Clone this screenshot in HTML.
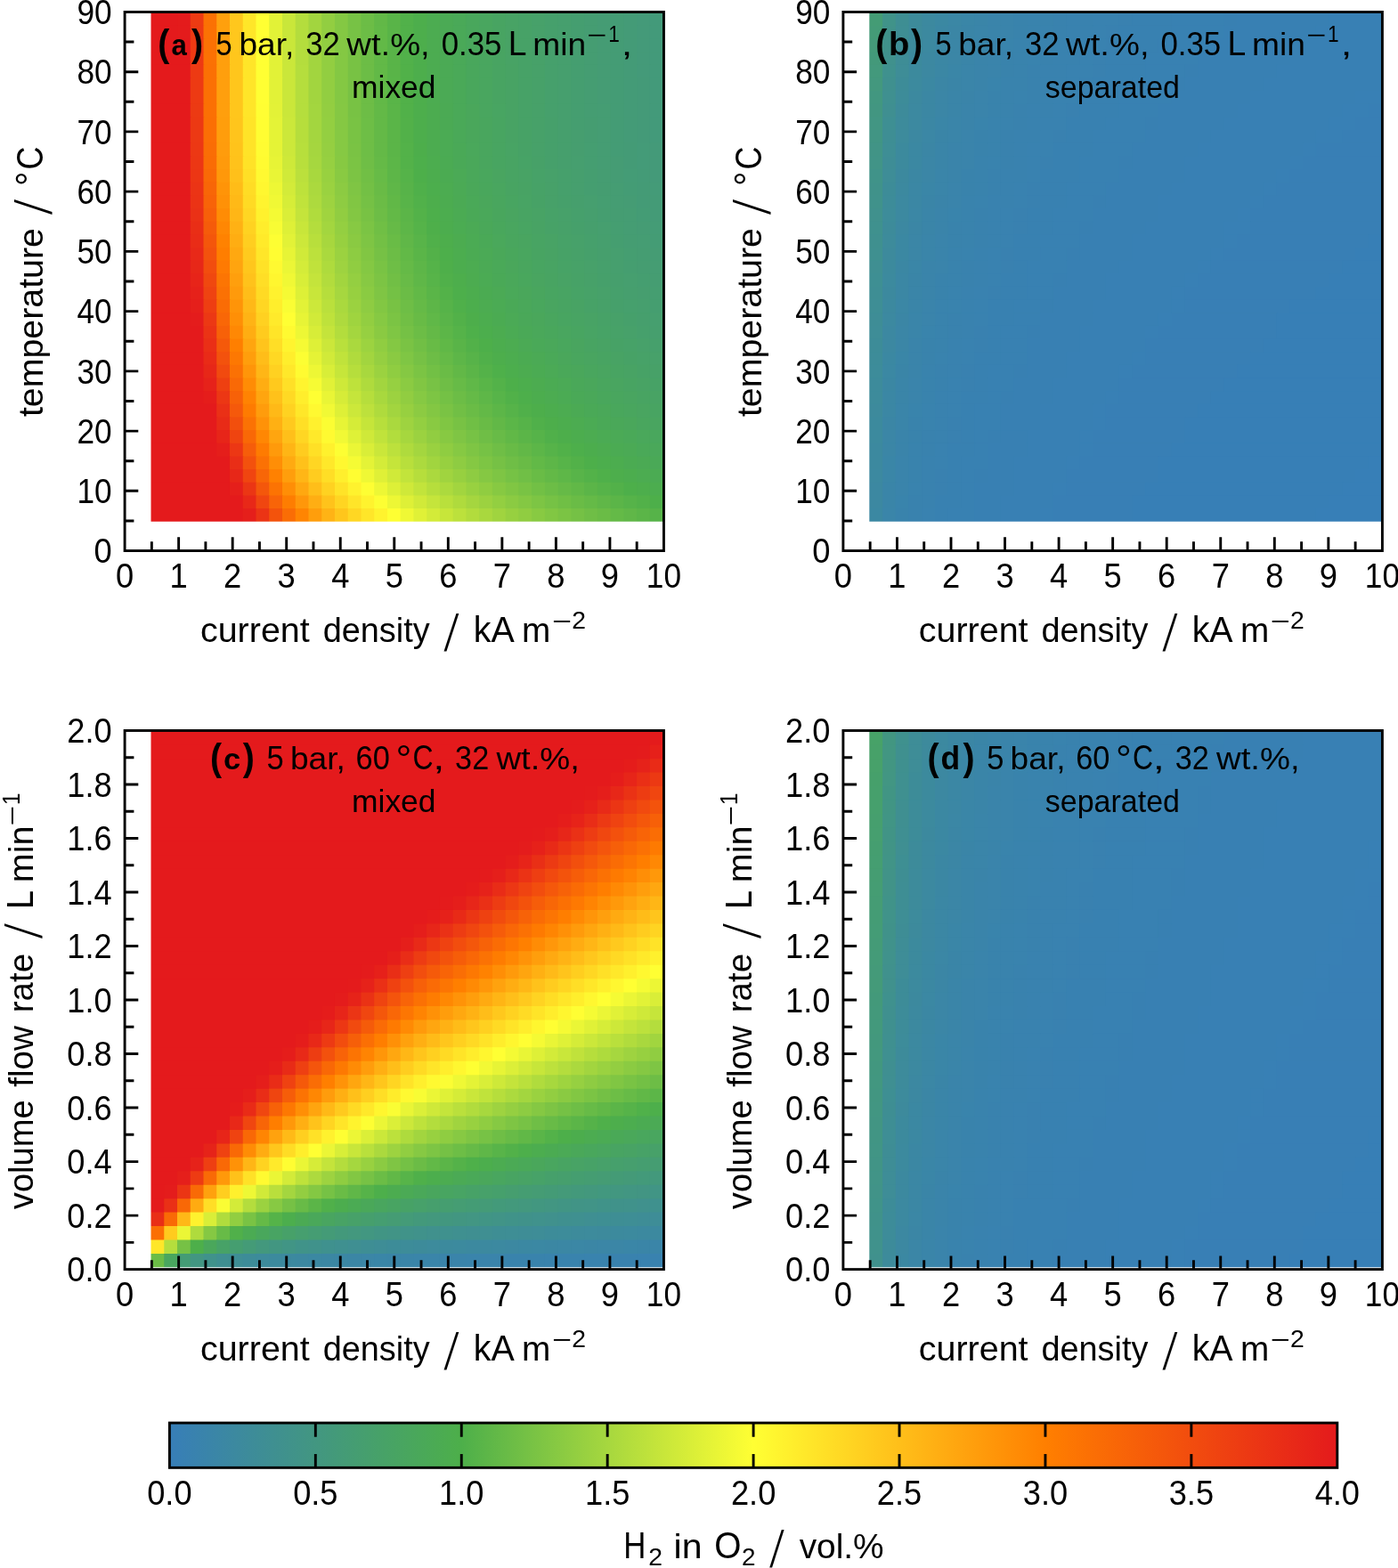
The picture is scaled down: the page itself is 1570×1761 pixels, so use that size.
<!DOCTYPE html>
<html lang="en">
<head>
<meta charset="utf-8">
<title>H2 in O2 heat maps</title>
<style>
html,body{margin:0;padding:0;background:#fff}
svg{display:block}
text{font-family:"Liberation Sans","DejaVu Sans",sans-serif;fill:#000}
.s{font-family:"Liberation Serif","DejaVu Serif",serif}
</style>
</head>
<body>
<svg width="1570" height="1761" viewBox="0 0 1570 1761" role="img" aria-label="Heat maps of H2 in O2 versus current density, temperature and volume flow rate">
<rect width="1570" height="1761" fill="#fff"/>
<defs><linearGradient id="cb" x1="0" x2="1" y1="0" y2="0"><stop offset="0" stop-color="#377eb8"/><stop offset=".25" stop-color="#4daf4a"/><stop offset=".5" stop-color="#ff3"/><stop offset=".75" stop-color="#ff7f00"/><stop offset="1" stop-color="#e41a1c"/></linearGradient></defs>
<g id="panel-a">
<clipPath id="cla"><rect x="165.52" y="13.45" width="579.93" height="576.23"/></clipPath>
<g clip-path="url(#cla)"><g transform="translate(169.52,14.2) scale(14.7457,14.6534)">
<path d="M-.3 -.3h2.36v1.36h-2.36z" fill="#e41a1c"/>
<path d="M2 -.3h1.06v1.36h-1.06z" fill="#e41b1c"/>
<path d="M3 -.3h1.06v1.36h-1.06z" fill="#ed3b13"/>
<path d="M4 -.3h1.06v1.36h-1.06z" fill="#fb7104"/>
<path d="M5 -.3h1.06v1.36h-1.06z" fill="#ffa00d"/>
<path d="M6 -.3h1.06v1.36h-1.06z" fill="#ffc71d"/>
<path d="M7 -.3h1.06v1.36h-1.06z" fill="#ffe629"/>
<path d="M8 -.3h1.06v1.36h-1.06z" fill="#ff3"/>
<path d="M9 -.3h1.06v1.36h-1.06z" fill="#e2f237"/>
<path d="M10 -.3h1.06v1.36h-1.06z" fill="#c9e73a"/>
<path d="M11 -.3h1.06v1.36h-1.06z" fill="#b4dd3d"/>
<path d="M12 -.3h1.06v1.36h-1.06z" fill="#a2d53f"/>
<path d="M13 -.3h1.06v1.36h-1.06z" fill="#92ce41"/>
<path d="M14 -.3h1.06v1.36h-1.06z" fill="#84c843"/>
<path d="M15 -.3h1.06v1.36h-1.06z" fill="#77c245"/>
<path d="M16 -.3h1.06v1.36h-1.06z" fill="#6cbd46"/>
<path d="M17 -.3h1.06v1.36h-1.06z" fill="#62b847"/>
<path d="M18 -.3h1.06v1.36h-1.06z" fill="#59b448"/>
<path d="M19 -.3h1.06v1.36h-1.06z" fill="#51b14a"/>
<path d="M20 -.3h1.06v1.36h-1.06z" fill="#4dae4c"/>
<path d="M21 -.3h1.06v1.36h-1.06z" fill="#4cac51"/>
<path d="M22 -.3h1.06v1.36h-1.06z" fill="#4baa55"/>
<path d="M23 -.3h1.06v1.36h-1.06z" fill="#4aa958"/>
<path d="M24 -.3h1.06v1.36h-1.06z" fill="#49a75c"/>
<path d="M25 -.3h1.06v1.36h-1.06z" fill="#49a65f"/>
<path d="M26 -.3h1.06v1.36h-1.06z" fill="#48a462"/>
<path d="M27 -.3h1.06v1.36h-1.06z" fill="#48a365"/>
<path d="M28 -.3h1.06v1.36h-1.06z" fill="#47a267"/>
<path d="M29 -.3h1.06v1.36h-1.06z" fill="#47a16a"/>
<path d="M30 -.3h1.06v1.36h-1.06z" fill="#46a06c"/>
<path d="M31 -.3h1.06v1.36h-1.06z" fill="#469f6e"/>
<path d="M32 -.3h1.06v1.36h-1.06z" fill="#459e70"/>
<path d="M33 -.3h1.06v1.36h-1.06z" fill="#459d72"/>
<path d="M34 -.3h1.06v1.36h-1.06z" fill="#459c74"/>
<path d="M35 -.3h1.06v1.36h-1.06z" fill="#449c75"/>
<path d="M36 -.3h1.06v1.36h-1.06z" fill="#449b77"/>
<path d="M37 -.3h1.06v1.36h-1.06z" fill="#449a79"/>
<path d="M38 -.3h1.3v1.36h-1.3z" fill="#439a7a"/>
<path d="M-.3 1h2.36v1.06h-2.36z" fill="#e41a1c"/>
<path d="M2 1h1.06v1.06h-1.06z" fill="#e41b1c"/>
<path d="M3 1h1.06v1.06h-1.06z" fill="#ed3a13"/>
<path d="M4 1h1.06v1.06h-1.06z" fill="#fb7104"/>
<path d="M5 1h1.06v1.06h-1.06z" fill="#ffa00d"/>
<path d="M6 1h1.06v1.06h-1.06z" fill="#ffc71d"/>
<path d="M7 1h1.06v1.06h-1.06z" fill="#ffe629"/>
<path d="M8 1h1.06v1.06h-1.06z" fill="#ff3"/>
<path d="M9 1h1.06v1.06h-1.06z" fill="#e2f237"/>
<path d="M10 1h1.06v1.06h-1.06z" fill="#c9e73a"/>
<path d="M11 1h1.06v1.06h-1.06z" fill="#b4dd3d"/>
<path d="M12 1h1.06v1.06h-1.06z" fill="#a2d53f"/>
<path d="M13 1h1.06v1.06h-1.06z" fill="#92ce41"/>
<path d="M14 1h1.06v1.06h-1.06z" fill="#84c843"/>
<path d="M15 1h1.06v1.06h-1.06z" fill="#77c245"/>
<path d="M16 1h1.06v1.06h-1.06z" fill="#6cbd46"/>
<path d="M17 1h1.06v1.06h-1.06z" fill="#62b947"/>
<path d="M18 1h1.06v1.06h-1.06z" fill="#59b448"/>
<path d="M19 1h1.06v1.06h-1.06z" fill="#51b14a"/>
<path d="M20 1h1.06v1.06h-1.06z" fill="#4dae4c"/>
<path d="M21 1h1.06v1.06h-1.06z" fill="#4cac51"/>
<path d="M22 1h1.06v1.06h-1.06z" fill="#4baa55"/>
<path d="M23 1h1.06v1.06h-1.06z" fill="#4aa958"/>
<path d="M24 1h1.06v1.06h-1.06z" fill="#49a75c"/>
<path d="M25 1h1.06v1.06h-1.06z" fill="#49a65f"/>
<path d="M26 1h1.06v1.06h-1.06z" fill="#48a462"/>
<path d="M27 1h1.06v1.06h-1.06z" fill="#48a365"/>
<path d="M28 1h1.06v1.06h-1.06z" fill="#47a267"/>
<path d="M29 1h1.06v1.06h-1.06z" fill="#47a16a"/>
<path d="M30 1h1.06v1.06h-1.06z" fill="#46a06c"/>
<path d="M31 1h1.06v1.06h-1.06z" fill="#469f6e"/>
<path d="M32 1h1.06v1.06h-1.06z" fill="#459e70"/>
<path d="M33 1h1.06v1.06h-1.06z" fill="#459d72"/>
<path d="M34 1h1.06v1.06h-1.06z" fill="#459c74"/>
<path d="M35 1h1.06v1.06h-1.06z" fill="#449c75"/>
<path d="M36 1h1.06v1.06h-1.06z" fill="#449b77"/>
<path d="M37 1h1.06v1.06h-1.06z" fill="#449a79"/>
<path d="M38 1h1.3v1.06h-1.3z" fill="#439a7a"/>
<path d="M-.3 2h3.36v1.06h-3.36z" fill="#e41a1c"/>
<path d="M3 2h1.06v1.06h-1.06z" fill="#ed3a13"/>
<path d="M4 2h1.06v1.06h-1.06z" fill="#fb7104"/>
<path d="M5 2h1.06v1.06h-1.06z" fill="#ff9f0d"/>
<path d="M6 2h1.06v1.06h-1.06z" fill="#ffc71d"/>
<path d="M7 2h1.06v1.06h-1.06z" fill="#ffe629"/>
<path d="M8 2h1.06v1.06h-1.06z" fill="#ff3"/>
<path d="M9 2h1.06v1.06h-1.06z" fill="#e2f237"/>
<path d="M10 2h1.06v1.06h-1.06z" fill="#c9e73a"/>
<path d="M11 2h1.06v1.06h-1.06z" fill="#b4dd3d"/>
<path d="M12 2h1.06v1.06h-1.06z" fill="#a2d53f"/>
<path d="M13 2h1.06v1.06h-1.06z" fill="#92ce41"/>
<path d="M14 2h1.06v1.06h-1.06z" fill="#84c843"/>
<path d="M15 2h1.06v1.06h-1.06z" fill="#78c245"/>
<path d="M16 2h1.06v1.06h-1.06z" fill="#6cbd46"/>
<path d="M17 2h1.06v1.06h-1.06z" fill="#62b947"/>
<path d="M18 2h1.06v1.06h-1.06z" fill="#59b448"/>
<path d="M19 2h1.06v1.06h-1.06z" fill="#51b14a"/>
<path d="M20 2h1.06v1.06h-1.06z" fill="#4dae4c"/>
<path d="M21 2h1.06v1.06h-1.06z" fill="#4cac51"/>
<path d="M22 2h1.06v1.06h-1.06z" fill="#4baa55"/>
<path d="M23 2h1.06v1.06h-1.06z" fill="#4aa958"/>
<path d="M24 2h1.06v1.06h-1.06z" fill="#49a75c"/>
<path d="M25 2h1.06v1.06h-1.06z" fill="#49a65f"/>
<path d="M26 2h1.06v1.06h-1.06z" fill="#48a462"/>
<path d="M27 2h1.06v1.06h-1.06z" fill="#48a365"/>
<path d="M28 2h1.06v1.06h-1.06z" fill="#47a267"/>
<path d="M29 2h1.06v1.06h-1.06z" fill="#47a16a"/>
<path d="M30 2h1.06v1.06h-1.06z" fill="#46a06c"/>
<path d="M31 2h1.06v1.06h-1.06z" fill="#469f6e"/>
<path d="M32 2h1.06v1.06h-1.06z" fill="#459e70"/>
<path d="M33 2h1.06v1.06h-1.06z" fill="#459d72"/>
<path d="M34 2h1.06v1.06h-1.06z" fill="#459c74"/>
<path d="M35 2h1.06v1.06h-1.06z" fill="#449c75"/>
<path d="M36 2h1.06v1.06h-1.06z" fill="#449b77"/>
<path d="M37 2h1.06v1.06h-1.06z" fill="#449a79"/>
<path d="M38 2h1.3v1.06h-1.3z" fill="#439a7a"/>
<path d="M-.3 3h3.36v1.06h-3.36z" fill="#e41a1c"/>
<path d="M3 3h1.06v1.06h-1.06z" fill="#ed3a13"/>
<path d="M4 3h1.06v1.06h-1.06z" fill="#fb7104"/>
<path d="M5 3h1.06v1.06h-1.06z" fill="#ff9f0d"/>
<path d="M6 3h1.06v1.06h-1.06z" fill="#ffc61c"/>
<path d="M7 3h1.06v1.06h-1.06z" fill="#ffe529"/>
<path d="M8 3h1.06v1.06h-1.06z" fill="#ff3"/>
<path d="M9 3h1.06v1.06h-1.06z" fill="#e2f237"/>
<path d="M10 3h1.06v1.06h-1.06z" fill="#cae73a"/>
<path d="M11 3h1.06v1.06h-1.06z" fill="#b4dd3d"/>
<path d="M12 3h1.06v1.06h-1.06z" fill="#a2d53f"/>
<path d="M13 3h1.06v1.06h-1.06z" fill="#92ce41"/>
<path d="M14 3h1.06v1.06h-1.06z" fill="#84c843"/>
<path d="M15 3h1.06v1.06h-1.06z" fill="#78c244"/>
<path d="M16 3h1.06v1.06h-1.06z" fill="#6cbd46"/>
<path d="M17 3h1.06v1.06h-1.06z" fill="#62b947"/>
<path d="M18 3h1.06v1.06h-1.06z" fill="#59b448"/>
<path d="M19 3h1.06v1.06h-1.06z" fill="#51b14a"/>
<path d="M20 3h1.06v1.06h-1.06z" fill="#4dae4c"/>
<path d="M21 3h1.06v1.06h-1.06z" fill="#4cac51"/>
<path d="M22 3h1.06v1.06h-1.06z" fill="#4baa55"/>
<path d="M23 3h1.06v1.06h-1.06z" fill="#4aa958"/>
<path d="M24 3h1.06v1.06h-1.06z" fill="#49a75c"/>
<path d="M25 3h1.06v1.06h-1.06z" fill="#49a65f"/>
<path d="M26 3h1.06v1.06h-1.06z" fill="#48a462"/>
<path d="M27 3h1.06v1.06h-1.06z" fill="#48a365"/>
<path d="M28 3h1.06v1.06h-1.06z" fill="#47a267"/>
<path d="M29 3h1.06v1.06h-1.06z" fill="#47a169"/>
<path d="M30 3h1.06v1.06h-1.06z" fill="#46a06c"/>
<path d="M31 3h1.06v1.06h-1.06z" fill="#469f6e"/>
<path d="M32 3h1.06v1.06h-1.06z" fill="#459e70"/>
<path d="M33 3h1.06v1.06h-1.06z" fill="#459d72"/>
<path d="M34 3h1.06v1.06h-1.06z" fill="#459c74"/>
<path d="M35 3h1.06v1.06h-1.06z" fill="#449c75"/>
<path d="M36 3h1.06v1.06h-1.06z" fill="#449b77"/>
<path d="M37 3h1.06v1.06h-1.06z" fill="#449a79"/>
<path d="M38 3h1.3v1.06h-1.3z" fill="#439a7a"/>
<path d="M-.3 4h3.36v1.06h-3.36z" fill="#e41a1c"/>
<path d="M3 4h1.06v1.06h-1.06z" fill="#ed3a13"/>
<path d="M4 4h1.06v1.06h-1.06z" fill="#fb7004"/>
<path d="M5 4h1.06v1.06h-1.06z" fill="#ff9f0d"/>
<path d="M6 4h1.06v1.06h-1.06z" fill="#ffc61c"/>
<path d="M7 4h1.06v1.06h-1.06z" fill="#ffe529"/>
<path d="M8 4h1.06v1.06h-1.06z" fill="#ff3"/>
<path d="M9 4h1.06v1.06h-1.06z" fill="#e2f237"/>
<path d="M10 4h1.06v1.06h-1.06z" fill="#cae73a"/>
<path d="M11 4h1.06v1.06h-1.06z" fill="#b5de3d"/>
<path d="M12 4h1.06v1.06h-1.06z" fill="#a2d53f"/>
<path d="M13 4h1.06v1.06h-1.06z" fill="#92ce41"/>
<path d="M14 4h1.06v1.06h-1.06z" fill="#84c843"/>
<path d="M15 4h1.06v1.06h-1.06z" fill="#78c244"/>
<path d="M16 4h1.06v1.06h-1.06z" fill="#6cbd46"/>
<path d="M17 4h1.06v1.06h-1.06z" fill="#62b947"/>
<path d="M18 4h1.06v1.06h-1.06z" fill="#59b448"/>
<path d="M19 4h1.06v1.06h-1.06z" fill="#51b149"/>
<path d="M20 4h1.06v1.06h-1.06z" fill="#4dae4c"/>
<path d="M21 4h1.06v1.06h-1.06z" fill="#4cac51"/>
<path d="M22 4h1.06v1.06h-1.06z" fill="#4baa55"/>
<path d="M23 4h1.06v1.06h-1.06z" fill="#4aa958"/>
<path d="M24 4h1.06v1.06h-1.06z" fill="#49a75c"/>
<path d="M25 4h1.06v1.06h-1.06z" fill="#49a65f"/>
<path d="M26 4h1.06v1.06h-1.06z" fill="#48a462"/>
<path d="M27 4h1.06v1.06h-1.06z" fill="#48a364"/>
<path d="M28 4h1.06v1.06h-1.06z" fill="#47a267"/>
<path d="M29 4h1.06v1.06h-1.06z" fill="#47a169"/>
<path d="M30 4h1.06v1.06h-1.06z" fill="#46a06c"/>
<path d="M31 4h1.06v1.06h-1.06z" fill="#469f6e"/>
<path d="M32 4h1.06v1.06h-1.06z" fill="#459e70"/>
<path d="M33 4h1.06v1.06h-1.06z" fill="#459d72"/>
<path d="M34 4h1.06v1.06h-1.06z" fill="#459c74"/>
<path d="M35 4h1.06v1.06h-1.06z" fill="#449c75"/>
<path d="M36 4h1.06v1.06h-1.06z" fill="#449b77"/>
<path d="M37 4h1.06v1.06h-1.06z" fill="#449a79"/>
<path d="M38 4h1.3v1.06h-1.3z" fill="#439a7a"/>
<path d="M-.3 5h3.36v1.06h-3.36z" fill="#e41a1c"/>
<path d="M3 5h1.06v1.06h-1.06z" fill="#ed3a13"/>
<path d="M4 5h1.06v1.06h-1.06z" fill="#fb7004"/>
<path d="M5 5h1.06v1.06h-1.06z" fill="#ff9f0d"/>
<path d="M6 5h1.06v1.06h-1.06z" fill="#ffc61c"/>
<path d="M7 5h1.06v1.06h-1.06z" fill="#ffe529"/>
<path d="M8 5h1.06v1.06h-1.06z" fill="#ff3"/>
<path d="M9 5h1.06v1.06h-1.06z" fill="#e2f237"/>
<path d="M10 5h1.06v1.06h-1.06z" fill="#cae73a"/>
<path d="M11 5h1.06v1.06h-1.06z" fill="#b5de3d"/>
<path d="M12 5h1.06v1.06h-1.06z" fill="#a2d53f"/>
<path d="M13 5h1.06v1.06h-1.06z" fill="#92ce41"/>
<path d="M14 5h1.06v1.06h-1.06z" fill="#84c843"/>
<path d="M15 5h1.06v1.06h-1.06z" fill="#78c244"/>
<path d="M16 5h1.06v1.06h-1.06z" fill="#6cbd46"/>
<path d="M17 5h1.06v1.06h-1.06z" fill="#62b947"/>
<path d="M18 5h1.06v1.06h-1.06z" fill="#59b548"/>
<path d="M19 5h1.06v1.06h-1.06z" fill="#51b149"/>
<path d="M20 5h1.06v1.06h-1.06z" fill="#4dae4c"/>
<path d="M21 5h1.06v1.06h-1.06z" fill="#4cac51"/>
<path d="M22 5h1.06v1.06h-1.06z" fill="#4baa55"/>
<path d="M23 5h1.06v1.06h-1.06z" fill="#4aa958"/>
<path d="M24 5h1.06v1.06h-1.06z" fill="#49a75c"/>
<path d="M25 5h1.06v1.06h-1.06z" fill="#49a65f"/>
<path d="M26 5h1.06v1.06h-1.06z" fill="#48a462"/>
<path d="M27 5h1.06v1.06h-1.06z" fill="#48a364"/>
<path d="M28 5h1.06v1.06h-1.06z" fill="#47a267"/>
<path d="M29 5h1.06v1.06h-1.06z" fill="#47a169"/>
<path d="M30 5h1.06v1.06h-1.06z" fill="#46a06c"/>
<path d="M31 5h1.06v1.06h-1.06z" fill="#469f6e"/>
<path d="M32 5h1.06v1.06h-1.06z" fill="#459e70"/>
<path d="M33 5h1.06v1.06h-1.06z" fill="#459d72"/>
<path d="M34 5h1.06v1.06h-1.06z" fill="#459c74"/>
<path d="M35 5h1.06v1.06h-1.06z" fill="#449c75"/>
<path d="M36 5h1.06v1.06h-1.06z" fill="#449b77"/>
<path d="M37 5h1.06v1.06h-1.06z" fill="#449a78"/>
<path d="M38 5h1.3v1.06h-1.3z" fill="#439a7a"/>
<path d="M-.3 6h3.36v1.06h-3.36z" fill="#e41a1c"/>
<path d="M3 6h1.06v1.06h-1.06z" fill="#ed3a13"/>
<path d="M4 6h1.06v1.06h-1.06z" fill="#fb7004"/>
<path d="M5 6h1.06v1.06h-1.06z" fill="#ff9f0d"/>
<path d="M6 6h1.06v1.06h-1.06z" fill="#ffc61c"/>
<path d="M7 6h1.06v1.06h-1.06z" fill="#ffe529"/>
<path d="M8 6h1.06v1.06h-1.06z" fill="#ff3"/>
<path d="M9 6h1.06v1.06h-1.06z" fill="#e2f237"/>
<path d="M10 6h1.06v1.06h-1.06z" fill="#cae73a"/>
<path d="M11 6h1.06v1.06h-1.06z" fill="#b5de3d"/>
<path d="M12 6h1.06v1.06h-1.06z" fill="#a2d53f"/>
<path d="M13 6h1.06v1.06h-1.06z" fill="#92ce41"/>
<path d="M14 6h1.06v1.06h-1.06z" fill="#84c843"/>
<path d="M15 6h1.06v1.06h-1.06z" fill="#78c244"/>
<path d="M16 6h1.06v1.06h-1.06z" fill="#6dbd46"/>
<path d="M17 6h1.06v1.06h-1.06z" fill="#62b947"/>
<path d="M18 6h1.06v1.06h-1.06z" fill="#59b548"/>
<path d="M19 6h1.06v1.06h-1.06z" fill="#51b149"/>
<path d="M20 6h1.06v1.06h-1.06z" fill="#4dae4c"/>
<path d="M21 6h1.06v1.06h-1.06z" fill="#4cac51"/>
<path d="M22 6h1.06v1.06h-1.06z" fill="#4baa55"/>
<path d="M23 6h1.06v1.06h-1.06z" fill="#4aa958"/>
<path d="M24 6h1.06v1.06h-1.06z" fill="#49a75c"/>
<path d="M25 6h1.06v1.06h-1.06z" fill="#49a65f"/>
<path d="M26 6h1.06v1.06h-1.06z" fill="#48a462"/>
<path d="M27 6h1.06v1.06h-1.06z" fill="#48a364"/>
<path d="M28 6h1.06v1.06h-1.06z" fill="#47a267"/>
<path d="M29 6h1.06v1.06h-1.06z" fill="#47a169"/>
<path d="M30 6h1.06v1.06h-1.06z" fill="#46a06c"/>
<path d="M31 6h1.06v1.06h-1.06z" fill="#469f6e"/>
<path d="M32 6h1.06v1.06h-1.06z" fill="#459e70"/>
<path d="M33 6h1.06v1.06h-1.06z" fill="#459d72"/>
<path d="M34 6h1.06v1.06h-1.06z" fill="#459c74"/>
<path d="M35 6h1.06v1.06h-1.06z" fill="#449c75"/>
<path d="M36 6h1.06v1.06h-1.06z" fill="#449b77"/>
<path d="M37 6h1.06v1.06h-1.06z" fill="#449a78"/>
<path d="M38 6h1.3v1.06h-1.3z" fill="#439a7a"/>
<path d="M-.3 7h3.36v1.06h-3.36z" fill="#e41a1c"/>
<path d="M3 7h1.06v1.06h-1.06z" fill="#ec3a13"/>
<path d="M4 7h1.06v1.06h-1.06z" fill="#fb7004"/>
<path d="M5 7h1.06v1.06h-1.06z" fill="#ff9f0d"/>
<path d="M6 7h1.06v1.06h-1.06z" fill="#ffc61c"/>
<path d="M7 7h1.06v1.06h-1.06z" fill="#ffe529"/>
<path d="M8 7h1.06v1.06h-1.06z" fill="#fffe33"/>
<path d="M9 7h1.06v1.06h-1.06z" fill="#e3f237"/>
<path d="M10 7h1.06v1.06h-1.06z" fill="#cae73a"/>
<path d="M11 7h1.06v1.06h-1.06z" fill="#b5de3d"/>
<path d="M12 7h1.06v1.06h-1.06z" fill="#a3d63f"/>
<path d="M13 7h1.06v1.06h-1.06z" fill="#93ce41"/>
<path d="M14 7h1.06v1.06h-1.06z" fill="#85c843"/>
<path d="M15 7h1.06v1.06h-1.06z" fill="#78c244"/>
<path d="M16 7h1.06v1.06h-1.06z" fill="#6dbd46"/>
<path d="M17 7h1.06v1.06h-1.06z" fill="#63b947"/>
<path d="M18 7h1.06v1.06h-1.06z" fill="#5ab548"/>
<path d="M19 7h1.06v1.06h-1.06z" fill="#51b149"/>
<path d="M20 7h1.06v1.06h-1.06z" fill="#4dae4c"/>
<path d="M21 7h1.06v1.06h-1.06z" fill="#4cac50"/>
<path d="M22 7h1.06v1.06h-1.06z" fill="#4baa54"/>
<path d="M23 7h1.06v1.06h-1.06z" fill="#4aa958"/>
<path d="M24 7h1.06v1.06h-1.06z" fill="#4aa75b"/>
<path d="M25 7h1.06v1.06h-1.06z" fill="#49a65f"/>
<path d="M26 7h1.06v1.06h-1.06z" fill="#48a562"/>
<path d="M27 7h1.06v1.06h-1.06z" fill="#48a364"/>
<path d="M28 7h1.06v1.06h-1.06z" fill="#47a267"/>
<path d="M29 7h1.06v1.06h-1.06z" fill="#47a169"/>
<path d="M30 7h1.06v1.06h-1.06z" fill="#46a06c"/>
<path d="M31 7h1.06v1.06h-1.06z" fill="#469f6e"/>
<path d="M32 7h1.06v1.06h-1.06z" fill="#459e70"/>
<path d="M33 7h1.06v1.06h-1.06z" fill="#459d72"/>
<path d="M34 7h1.06v1.06h-1.06z" fill="#459d73"/>
<path d="M35 7h1.06v1.06h-1.06z" fill="#449c75"/>
<path d="M36 7h1.06v1.06h-1.06z" fill="#449b77"/>
<path d="M37 7h1.06v1.06h-1.06z" fill="#449a78"/>
<path d="M38 7h1.3v1.06h-1.3z" fill="#439a7a"/>
<path d="M-.3 8h3.36v1.06h-3.36z" fill="#e41a1c"/>
<path d="M3 8h1.06v1.06h-1.06z" fill="#ec3913"/>
<path d="M4 8h1.06v1.06h-1.06z" fill="#fb6f04"/>
<path d="M5 8h1.06v1.06h-1.06z" fill="#ff9e0c"/>
<path d="M6 8h1.06v1.06h-1.06z" fill="#ffc51c"/>
<path d="M7 8h1.06v1.06h-1.06z" fill="#ffe428"/>
<path d="M8 8h1.06v1.06h-1.06z" fill="#fffe32"/>
<path d="M9 8h1.06v1.06h-1.06z" fill="#e4f337"/>
<path d="M10 8h1.06v1.06h-1.06z" fill="#cbe83a"/>
<path d="M11 8h1.06v1.06h-1.06z" fill="#b6de3c"/>
<path d="M12 8h1.06v1.06h-1.06z" fill="#a3d63f"/>
<path d="M13 8h1.06v1.06h-1.06z" fill="#93cf41"/>
<path d="M14 8h1.06v1.06h-1.06z" fill="#85c843"/>
<path d="M15 8h1.06v1.06h-1.06z" fill="#79c344"/>
<path d="M16 8h1.06v1.06h-1.06z" fill="#6dbe46"/>
<path d="M17 8h1.06v1.06h-1.06z" fill="#63b947"/>
<path d="M18 8h1.06v1.06h-1.06z" fill="#5ab548"/>
<path d="M19 8h1.06v1.06h-1.06z" fill="#52b149"/>
<path d="M20 8h1.06v1.06h-1.06z" fill="#4dae4c"/>
<path d="M21 8h1.06v1.06h-1.06z" fill="#4cac50"/>
<path d="M22 8h1.06v1.06h-1.06z" fill="#4baa54"/>
<path d="M23 8h1.06v1.06h-1.06z" fill="#4aa958"/>
<path d="M24 8h1.06v1.06h-1.06z" fill="#4aa75b"/>
<path d="M25 8h1.06v1.06h-1.06z" fill="#49a65e"/>
<path d="M26 8h1.06v1.06h-1.06z" fill="#48a561"/>
<path d="M27 8h1.06v1.06h-1.06z" fill="#48a364"/>
<path d="M28 8h1.06v1.06h-1.06z" fill="#47a267"/>
<path d="M29 8h1.06v1.06h-1.06z" fill="#47a169"/>
<path d="M30 8h1.06v1.06h-1.06z" fill="#46a06b"/>
<path d="M31 8h1.06v1.06h-1.06z" fill="#469f6e"/>
<path d="M32 8h1.06v1.06h-1.06z" fill="#459e70"/>
<path d="M33 8h1.06v1.06h-1.06z" fill="#459d71"/>
<path d="M34 8h1.06v1.06h-1.06z" fill="#459d73"/>
<path d="M35 8h1.06v1.06h-1.06z" fill="#449c75"/>
<path d="M36 8h1.06v1.06h-1.06z" fill="#449b77"/>
<path d="M37 8h1.06v1.06h-1.06z" fill="#449a78"/>
<path d="M38 8h1.3v1.06h-1.3z" fill="#439a7a"/>
<path d="M-.3 9h3.36v1.06h-3.36z" fill="#e41a1c"/>
<path d="M3 9h1.06v1.06h-1.06z" fill="#ec3914"/>
<path d="M4 9h1.06v1.06h-1.06z" fill="#fb6e05"/>
<path d="M5 9h1.06v1.06h-1.06z" fill="#ff9d0c"/>
<path d="M6 9h1.06v1.06h-1.06z" fill="#ffc41c"/>
<path d="M7 9h1.06v1.06h-1.06z" fill="#ffe328"/>
<path d="M8 9h1.06v1.06h-1.06z" fill="#fffd32"/>
<path d="M9 9h1.06v1.06h-1.06z" fill="#e5f336"/>
<path d="M10 9h1.06v1.06h-1.06z" fill="#cce83a"/>
<path d="M11 9h1.06v1.06h-1.06z" fill="#b6de3c"/>
<path d="M12 9h1.06v1.06h-1.06z" fill="#a4d63f"/>
<path d="M13 9h1.06v1.06h-1.06z" fill="#94cf41"/>
<path d="M14 9h1.06v1.06h-1.06z" fill="#86c943"/>
<path d="M15 9h1.06v1.06h-1.06z" fill="#79c344"/>
<path d="M16 9h1.06v1.06h-1.06z" fill="#6ebe46"/>
<path d="M17 9h1.06v1.06h-1.06z" fill="#64b947"/>
<path d="M18 9h1.06v1.06h-1.06z" fill="#5bb548"/>
<path d="M19 9h1.06v1.06h-1.06z" fill="#52b149"/>
<path d="M20 9h1.06v1.06h-1.06z" fill="#4dae4c"/>
<path d="M21 9h1.06v1.06h-1.06z" fill="#4cac50"/>
<path d="M22 9h1.06v1.06h-1.06z" fill="#4bab54"/>
<path d="M23 9h1.06v1.06h-1.06z" fill="#4aa958"/>
<path d="M24 9h1.06v1.06h-1.06z" fill="#4aa75b"/>
<path d="M25 9h1.06v1.06h-1.06z" fill="#49a65e"/>
<path d="M26 9h1.06v1.06h-1.06z" fill="#48a561"/>
<path d="M27 9h1.06v1.06h-1.06z" fill="#48a364"/>
<path d="M28 9h1.06v1.06h-1.06z" fill="#47a266"/>
<path d="M29 9h1.06v1.06h-1.06z" fill="#47a169"/>
<path d="M30 9h1.06v1.06h-1.06z" fill="#46a06b"/>
<path d="M31 9h1.06v1.06h-1.06z" fill="#469f6d"/>
<path d="M32 9h1.06v1.06h-1.06z" fill="#469e6f"/>
<path d="M33 9h1.06v1.06h-1.06z" fill="#459d71"/>
<path d="M34 9h1.06v1.06h-1.06z" fill="#459d73"/>
<path d="M35 9h1.06v1.06h-1.06z" fill="#449c75"/>
<path d="M36 9h1.06v1.06h-1.06z" fill="#449b77"/>
<path d="M37 9h1.06v1.06h-1.06z" fill="#449a78"/>
<path d="M38 9h1.3v1.06h-1.3z" fill="#439a7a"/>
<path d="M-.3 10h3.36v1.06h-3.36z" fill="#e41a1c"/>
<path d="M3 10h1.06v1.06h-1.06z" fill="#ec3814"/>
<path d="M4 10h1.06v1.06h-1.06z" fill="#fa6d05"/>
<path d="M5 10h1.06v1.06h-1.06z" fill="#ff9c0c"/>
<path d="M6 10h1.06v1.06h-1.06z" fill="#ffc31b"/>
<path d="M7 10h1.06v1.06h-1.06z" fill="#ffe328"/>
<path d="M8 10h1.06v1.06h-1.06z" fill="#fffc32"/>
<path d="M9 10h1.06v1.06h-1.06z" fill="#e5f336"/>
<path d="M10 10h1.06v1.06h-1.06z" fill="#cce83a"/>
<path d="M11 10h1.06v1.06h-1.06z" fill="#b7df3c"/>
<path d="M12 10h1.06v1.06h-1.06z" fill="#a5d63f"/>
<path d="M13 10h1.06v1.06h-1.06z" fill="#95cf41"/>
<path d="M14 10h1.06v1.06h-1.06z" fill="#86c943"/>
<path d="M15 10h1.06v1.06h-1.06z" fill="#7ac344"/>
<path d="M16 10h1.06v1.06h-1.06z" fill="#6ebe46"/>
<path d="M17 10h1.06v1.06h-1.06z" fill="#64b947"/>
<path d="M18 10h1.06v1.06h-1.06z" fill="#5bb548"/>
<path d="M19 10h1.06v1.06h-1.06z" fill="#53b249"/>
<path d="M20 10h1.06v1.06h-1.06z" fill="#4dae4b"/>
<path d="M21 10h1.06v1.06h-1.06z" fill="#4cac50"/>
<path d="M22 10h1.06v1.06h-1.06z" fill="#4bab54"/>
<path d="M23 10h1.06v1.06h-1.06z" fill="#4aa957"/>
<path d="M24 10h1.06v1.06h-1.06z" fill="#4aa85b"/>
<path d="M25 10h1.06v1.06h-1.06z" fill="#49a65e"/>
<path d="M26 10h1.06v1.06h-1.06z" fill="#48a561"/>
<path d="M27 10h1.06v1.06h-1.06z" fill="#48a464"/>
<path d="M28 10h1.06v1.06h-1.06z" fill="#47a266"/>
<path d="M29 10h1.06v1.06h-1.06z" fill="#47a169"/>
<path d="M30 10h1.06v1.06h-1.06z" fill="#46a06b"/>
<path d="M31 10h1.06v1.06h-1.06z" fill="#469f6d"/>
<path d="M32 10h1.06v1.06h-1.06z" fill="#469e6f"/>
<path d="M33 10h1.06v1.06h-1.06z" fill="#459e71"/>
<path d="M34 10h1.06v1.06h-1.06z" fill="#459d73"/>
<path d="M35 10h1.06v1.06h-1.06z" fill="#449c75"/>
<path d="M36 10h1.06v1.06h-1.06z" fill="#449b76"/>
<path d="M37 10h1.06v1.06h-1.06z" fill="#449b78"/>
<path d="M38 10h1.3v1.06h-1.3z" fill="#449a79"/>
<path d="M-.3 11h3.36v1.06h-3.36z" fill="#e41a1c"/>
<path d="M3 11h1.06v1.06h-1.06z" fill="#ec3714"/>
<path d="M4 11h1.06v1.06h-1.06z" fill="#fa6c05"/>
<path d="M5 11h1.06v1.06h-1.06z" fill="#ff9a0b"/>
<path d="M6 11h1.06v1.06h-1.06z" fill="#ffc21b"/>
<path d="M7 11h1.06v1.06h-1.06z" fill="#ffe227"/>
<path d="M8 11h1.06v1.06h-1.06z" fill="#fffb31"/>
<path d="M9 11h1.06v1.06h-1.06z" fill="#e7f436"/>
<path d="M10 11h1.06v1.06h-1.06z" fill="#cee939"/>
<path d="M11 11h1.06v1.06h-1.06z" fill="#b8df3c"/>
<path d="M12 11h1.06v1.06h-1.06z" fill="#a6d73f"/>
<path d="M13 11h1.06v1.06h-1.06z" fill="#96d041"/>
<path d="M14 11h1.06v1.06h-1.06z" fill="#87c942"/>
<path d="M15 11h1.06v1.06h-1.06z" fill="#7bc444"/>
<path d="M16 11h1.06v1.06h-1.06z" fill="#6fbe46"/>
<path d="M17 11h1.06v1.06h-1.06z" fill="#65ba47"/>
<path d="M18 11h1.06v1.06h-1.06z" fill="#5cb648"/>
<path d="M19 11h1.06v1.06h-1.06z" fill="#53b249"/>
<path d="M20 11h1.06v1.06h-1.06z" fill="#4daf4b"/>
<path d="M21 11h1.06v1.06h-1.06z" fill="#4cad4f"/>
<path d="M22 11h1.06v1.06h-1.06z" fill="#4bab53"/>
<path d="M23 11h1.06v1.06h-1.06z" fill="#4aa957"/>
<path d="M24 11h1.06v1.06h-1.06z" fill="#4aa85a"/>
<path d="M25 11h1.06v1.06h-1.06z" fill="#49a65e"/>
<path d="M26 11h1.06v1.06h-1.06z" fill="#48a561"/>
<path d="M27 11h1.06v1.06h-1.06z" fill="#48a463"/>
<path d="M28 11h1.06v1.06h-1.06z" fill="#47a366"/>
<path d="M29 11h1.06v1.06h-1.06z" fill="#47a168"/>
<path d="M30 11h1.06v1.06h-1.06z" fill="#46a06b"/>
<path d="M31 11h1.06v1.06h-1.06z" fill="#469f6d"/>
<path d="M32 11h1.06v1.06h-1.06z" fill="#469f6f"/>
<path d="M33 11h1.06v1.06h-1.06z" fill="#459e71"/>
<path d="M34 11h1.06v1.06h-1.06z" fill="#459d73"/>
<path d="M35 11h1.06v1.06h-1.06z" fill="#459c74"/>
<path d="M36 11h1.06v1.06h-1.06z" fill="#449b76"/>
<path d="M37 11h1.06v1.06h-1.06z" fill="#449b78"/>
<path d="M38 11h1.3v1.06h-1.3z" fill="#449a79"/>
<path d="M-.3 12h3.36v1.06h-3.36z" fill="#e41a1c"/>
<path d="M3 12h1.06v1.06h-1.06z" fill="#ec3614"/>
<path d="M4 12h1.06v1.06h-1.06z" fill="#f96906"/>
<path d="M5 12h1.06v1.06h-1.06z" fill="#ff980a"/>
<path d="M6 12h1.06v1.06h-1.06z" fill="#ffc01a"/>
<path d="M7 12h1.06v1.06h-1.06z" fill="#ffdf26"/>
<path d="M8 12h1.06v1.06h-1.06z" fill="#fff931"/>
<path d="M9 12h1.06v1.06h-1.06z" fill="#e9f536"/>
<path d="M10 12h1.06v1.06h-1.06z" fill="#d0ea39"/>
<path d="M11 12h1.06v1.06h-1.06z" fill="#bbe03c"/>
<path d="M12 12h1.06v1.06h-1.06z" fill="#a8d83e"/>
<path d="M13 12h1.06v1.06h-1.06z" fill="#98d140"/>
<path d="M14 12h1.06v1.06h-1.06z" fill="#89ca42"/>
<path d="M15 12h1.06v1.06h-1.06z" fill="#7cc444"/>
<path d="M16 12h1.06v1.06h-1.06z" fill="#71bf45"/>
<path d="M17 12h1.06v1.06h-1.06z" fill="#67bb47"/>
<path d="M18 12h1.06v1.06h-1.06z" fill="#5db648"/>
<path d="M19 12h1.06v1.06h-1.06z" fill="#55b349"/>
<path d="M20 12h1.06v1.06h-1.06z" fill="#4daf4a"/>
<path d="M21 12h1.06v1.06h-1.06z" fill="#4cad4e"/>
<path d="M22 12h1.06v1.06h-1.06z" fill="#4bab52"/>
<path d="M23 12h1.06v1.06h-1.06z" fill="#4baa56"/>
<path d="M24 12h1.06v1.06h-1.06z" fill="#4aa85a"/>
<path d="M25 12h1.06v1.06h-1.06z" fill="#49a75d"/>
<path d="M26 12h1.06v1.06h-1.06z" fill="#49a560"/>
<path d="M27 12h1.06v1.06h-1.06z" fill="#48a463"/>
<path d="M28 12h1.06v1.06h-1.06z" fill="#48a365"/>
<path d="M29 12h1.06v1.06h-1.06z" fill="#47a268"/>
<path d="M30 12h1.06v1.06h-1.06z" fill="#47a16a"/>
<path d="M31 12h1.06v1.06h-1.06z" fill="#46a06c"/>
<path d="M32 12h1.06v1.06h-1.06z" fill="#469f6e"/>
<path d="M33 12h1.06v1.06h-1.06z" fill="#459e70"/>
<path d="M34 12h1.06v1.06h-1.06z" fill="#459d72"/>
<path d="M35 12h1.06v1.06h-1.06z" fill="#459c74"/>
<path d="M36 12h1.06v1.06h-1.06z" fill="#449c76"/>
<path d="M37 12h1.06v1.06h-1.06z" fill="#449b77"/>
<path d="M38 12h1.3v1.06h-1.3z" fill="#449a79"/>
<path d="M-.3 13h3.36v1.06h-3.36z" fill="#e41a1c"/>
<path d="M3 13h1.06v1.06h-1.06z" fill="#eb3415"/>
<path d="M4 13h1.06v1.06h-1.06z" fill="#f86607"/>
<path d="M5 13h1.06v1.06h-1.06z" fill="#ff9408"/>
<path d="M6 13h1.06v1.06h-1.06z" fill="#ffbc18"/>
<path d="M7 13h1.06v1.06h-1.06z" fill="#ffdc25"/>
<path d="M8 13h1.06v1.06h-1.06z" fill="#fff730"/>
<path d="M9 13h1.06v1.06h-1.06z" fill="#edf735"/>
<path d="M10 13h1.06v1.06h-1.06z" fill="#d3eb39"/>
<path d="M11 13h1.06v1.06h-1.06z" fill="#bde23b"/>
<path d="M12 13h1.06v1.06h-1.06z" fill="#abd93e"/>
<path d="M13 13h1.06v1.06h-1.06z" fill="#9ad240"/>
<path d="M14 13h1.06v1.06h-1.06z" fill="#8ccb42"/>
<path d="M15 13h1.06v1.06h-1.06z" fill="#7fc544"/>
<path d="M16 13h1.06v1.06h-1.06z" fill="#73c045"/>
<path d="M17 13h1.06v1.06h-1.06z" fill="#69bb46"/>
<path d="M18 13h1.06v1.06h-1.06z" fill="#5fb748"/>
<path d="M19 13h1.06v1.06h-1.06z" fill="#57b349"/>
<path d="M20 13h1.06v1.06h-1.06z" fill="#4fb04a"/>
<path d="M21 13h1.06v1.06h-1.06z" fill="#4cae4d"/>
<path d="M22 13h1.06v1.06h-1.06z" fill="#4cac51"/>
<path d="M23 13h1.06v1.06h-1.06z" fill="#4baa55"/>
<path d="M24 13h1.06v1.06h-1.06z" fill="#4aa859"/>
<path d="M25 13h1.06v1.06h-1.06z" fill="#49a75c"/>
<path d="M26 13h1.06v1.06h-1.06z" fill="#49a65f"/>
<path d="M27 13h1.06v1.06h-1.06z" fill="#48a462"/>
<path d="M28 13h1.06v1.06h-1.06z" fill="#48a364"/>
<path d="M29 13h1.06v1.06h-1.06z" fill="#47a267"/>
<path d="M30 13h1.06v1.06h-1.06z" fill="#47a169"/>
<path d="M31 13h1.06v1.06h-1.06z" fill="#46a06c"/>
<path d="M32 13h1.06v1.06h-1.06z" fill="#469f6e"/>
<path d="M33 13h1.06v1.06h-1.06z" fill="#459e70"/>
<path d="M34 13h1.06v1.06h-1.06z" fill="#459d71"/>
<path d="M35 13h1.06v1.06h-1.06z" fill="#459d73"/>
<path d="M36 13h1.06v1.06h-1.06z" fill="#449c75"/>
<path d="M37 13h1.06v1.06h-1.06z" fill="#449b76"/>
<path d="M38 13h1.3v1.06h-1.3z" fill="#449b78"/>
<path d="M-.3 14h3.36v1.06h-3.36z" fill="#e41a1c"/>
<path d="M3 14h1.06v1.06h-1.06z" fill="#eb3315"/>
<path d="M4 14h1.06v1.06h-1.06z" fill="#f86308"/>
<path d="M5 14h1.06v1.06h-1.06z" fill="#ff9107"/>
<path d="M6 14h1.06v1.06h-1.06z" fill="#ffb917"/>
<path d="M7 14h1.06v1.06h-1.06z" fill="#ffda24"/>
<path d="M8 14h1.06v1.06h-1.06z" fill="#fff42f"/>
<path d="M9 14h1.06v1.06h-1.06z" fill="#f0f835"/>
<path d="M10 14h1.06v1.06h-1.06z" fill="#d6ed38"/>
<path d="M11 14h1.06v1.06h-1.06z" fill="#c0e33b"/>
<path d="M12 14h1.06v1.06h-1.06z" fill="#adda3e"/>
<path d="M13 14h1.06v1.06h-1.06z" fill="#9dd340"/>
<path d="M14 14h1.06v1.06h-1.06z" fill="#8ecc42"/>
<path d="M15 14h1.06v1.06h-1.06z" fill="#81c643"/>
<path d="M16 14h1.06v1.06h-1.06z" fill="#75c145"/>
<path d="M17 14h1.06v1.06h-1.06z" fill="#6bbc46"/>
<path d="M18 14h1.06v1.06h-1.06z" fill="#61b847"/>
<path d="M19 14h1.06v1.06h-1.06z" fill="#58b449"/>
<path d="M20 14h1.06v1.06h-1.06z" fill="#51b14a"/>
<path d="M21 14h1.06v1.06h-1.06z" fill="#4dae4c"/>
<path d="M22 14h1.06v1.06h-1.06z" fill="#4cac50"/>
<path d="M23 14h1.06v1.06h-1.06z" fill="#4baa54"/>
<path d="M24 14h1.06v1.06h-1.06z" fill="#4aa958"/>
<path d="M25 14h1.06v1.06h-1.06z" fill="#4aa75b"/>
<path d="M26 14h1.06v1.06h-1.06z" fill="#49a65e"/>
<path d="M27 14h1.06v1.06h-1.06z" fill="#48a561"/>
<path d="M28 14h1.06v1.06h-1.06z" fill="#48a464"/>
<path d="M29 14h1.06v1.06h-1.06z" fill="#47a266"/>
<path d="M30 14h1.06v1.06h-1.06z" fill="#47a169"/>
<path d="M31 14h1.06v1.06h-1.06z" fill="#46a06b"/>
<path d="M32 14h1.06v1.06h-1.06z" fill="#469f6d"/>
<path d="M33 14h1.06v1.06h-1.06z" fill="#469f6f"/>
<path d="M34 14h1.06v1.06h-1.06z" fill="#459e71"/>
<path d="M35 14h1.06v1.06h-1.06z" fill="#459d73"/>
<path d="M36 14h1.06v1.06h-1.06z" fill="#459c74"/>
<path d="M37 14h1.06v1.06h-1.06z" fill="#449b76"/>
<path d="M38 14h1.3v1.06h-1.3z" fill="#449b77"/>
<path d="M-.3 15h3.36v1.06h-3.36z" fill="#e41a1c"/>
<path d="M3 15h1.06v1.06h-1.06z" fill="#ea3116"/>
<path d="M4 15h1.06v1.06h-1.06z" fill="#f75f09"/>
<path d="M5 15h1.06v1.06h-1.06z" fill="#ff8c05"/>
<path d="M6 15h1.06v1.06h-1.06z" fill="#ffb616"/>
<path d="M7 15h1.06v1.06h-1.06z" fill="#ffd623"/>
<path d="M8 15h1.06v1.06h-1.06z" fill="#fff12d"/>
<path d="M9 15h1.06v1.06h-1.06z" fill="#f4fa34"/>
<path d="M10 15h1.06v1.06h-1.06z" fill="#daee38"/>
<path d="M11 15h1.06v1.06h-1.06z" fill="#c4e43b"/>
<path d="M12 15h1.06v1.06h-1.06z" fill="#b0dc3d"/>
<path d="M13 15h1.06v1.06h-1.06z" fill="#a0d43f"/>
<path d="M14 15h1.06v1.06h-1.06z" fill="#91cd41"/>
<path d="M15 15h1.06v1.06h-1.06z" fill="#83c743"/>
<path d="M16 15h1.06v1.06h-1.06z" fill="#78c244"/>
<path d="M17 15h1.06v1.06h-1.06z" fill="#6dbd46"/>
<path d="M18 15h1.06v1.06h-1.06z" fill="#63b947"/>
<path d="M19 15h1.06v1.06h-1.06z" fill="#5bb548"/>
<path d="M20 15h1.06v1.06h-1.06z" fill="#53b249"/>
<path d="M21 15h1.06v1.06h-1.06z" fill="#4daf4b"/>
<path d="M22 15h1.06v1.06h-1.06z" fill="#4cad4f"/>
<path d="M23 15h1.06v1.06h-1.06z" fill="#4bab53"/>
<path d="M24 15h1.06v1.06h-1.06z" fill="#4aa957"/>
<path d="M25 15h1.06v1.06h-1.06z" fill="#4aa85a"/>
<path d="M26 15h1.06v1.06h-1.06z" fill="#49a65d"/>
<path d="M27 15h1.06v1.06h-1.06z" fill="#49a560"/>
<path d="M28 15h1.06v1.06h-1.06z" fill="#48a463"/>
<path d="M29 15h1.06v1.06h-1.06z" fill="#48a365"/>
<path d="M30 15h1.06v1.06h-1.06z" fill="#47a268"/>
<path d="M31 15h1.06v1.06h-1.06z" fill="#47a16a"/>
<path d="M32 15h1.06v1.06h-1.06z" fill="#46a06c"/>
<path d="M33 15h1.06v1.06h-1.06z" fill="#469f6e"/>
<path d="M34 15h1.06v1.06h-1.06z" fill="#459e70"/>
<path d="M35 15h1.06v1.06h-1.06z" fill="#459d72"/>
<path d="M36 15h1.06v1.06h-1.06z" fill="#459d73"/>
<path d="M37 15h1.06v1.06h-1.06z" fill="#449c75"/>
<path d="M38 15h1.3v1.06h-1.3z" fill="#449b77"/>
<path d="M-.3 16h3.36v1.06h-3.36z" fill="#e41a1c"/>
<path d="M3 16h1.06v1.06h-1.06z" fill="#e92e16"/>
<path d="M4 16h1.06v1.06h-1.06z" fill="#f55b0a"/>
<path d="M5 16h1.06v1.06h-1.06z" fill="#ff8703"/>
<path d="M6 16h1.06v1.06h-1.06z" fill="#ffb114"/>
<path d="M7 16h1.06v1.06h-1.06z" fill="#ffd221"/>
<path d="M8 16h1.06v1.06h-1.06z" fill="#ffed2c"/>
<path d="M9 16h1.06v1.06h-1.06z" fill="#f8fc34"/>
<path d="M10 16h1.06v1.06h-1.06z" fill="#def037"/>
<path d="M11 16h1.06v1.06h-1.06z" fill="#c8e63a"/>
<path d="M12 16h1.06v1.06h-1.06z" fill="#b4dd3d"/>
<path d="M13 16h1.06v1.06h-1.06z" fill="#a3d63f"/>
<path d="M14 16h1.06v1.06h-1.06z" fill="#94cf41"/>
<path d="M15 16h1.06v1.06h-1.06z" fill="#87c943"/>
<path d="M16 16h1.06v1.06h-1.06z" fill="#7bc444"/>
<path d="M17 16h1.06v1.06h-1.06z" fill="#70bf45"/>
<path d="M18 16h1.06v1.06h-1.06z" fill="#66ba47"/>
<path d="M19 16h1.06v1.06h-1.06z" fill="#5db648"/>
<path d="M20 16h1.06v1.06h-1.06z" fill="#55b349"/>
<path d="M21 16h1.06v1.06h-1.06z" fill="#4eaf4a"/>
<path d="M22 16h1.06v1.06h-1.06z" fill="#4cad4e"/>
<path d="M23 16h1.06v1.06h-1.06z" fill="#4bac52"/>
<path d="M24 16h1.06v1.06h-1.06z" fill="#4baa55"/>
<path d="M25 16h1.06v1.06h-1.06z" fill="#4aa859"/>
<path d="M26 16h1.06v1.06h-1.06z" fill="#49a75c"/>
<path d="M27 16h1.06v1.06h-1.06z" fill="#49a65f"/>
<path d="M28 16h1.06v1.06h-1.06z" fill="#48a562"/>
<path d="M29 16h1.06v1.06h-1.06z" fill="#48a364"/>
<path d="M30 16h1.06v1.06h-1.06z" fill="#47a267"/>
<path d="M31 16h1.06v1.06h-1.06z" fill="#47a169"/>
<path d="M32 16h1.06v1.06h-1.06z" fill="#46a06b"/>
<path d="M33 16h1.06v1.06h-1.06z" fill="#469f6d"/>
<path d="M34 16h1.06v1.06h-1.06z" fill="#469f6f"/>
<path d="M35 16h1.06v1.06h-1.06z" fill="#459e71"/>
<path d="M36 16h1.06v1.06h-1.06z" fill="#459d73"/>
<path d="M37 16h1.06v1.06h-1.06z" fill="#459c74"/>
<path d="M38 16h1.3v1.06h-1.3z" fill="#449c76"/>
<path d="M-.3 17h3.36v1.06h-3.36z" fill="#e41a1c"/>
<path d="M3 17h1.06v1.06h-1.06z" fill="#e92c17"/>
<path d="M4 17h1.06v1.06h-1.06z" fill="#f4560b"/>
<path d="M5 17h1.06v1.06h-1.06z" fill="#ff8201"/>
<path d="M6 17h1.06v1.06h-1.06z" fill="#ffad12"/>
<path d="M7 17h1.06v1.06h-1.06z" fill="#ffce20"/>
<path d="M8 17h1.06v1.06h-1.06z" fill="#ffea2a"/>
<path d="M9 17h1.06v1.06h-1.06z" fill="#fdfe33"/>
<path d="M10 17h1.06v1.06h-1.06z" fill="#e2f237"/>
<path d="M11 17h1.06v1.06h-1.06z" fill="#cce83a"/>
<path d="M12 17h1.06v1.06h-1.06z" fill="#b8df3c"/>
<path d="M13 17h1.06v1.06h-1.06z" fill="#a7d73e"/>
<path d="M14 17h1.06v1.06h-1.06z" fill="#97d040"/>
<path d="M15 17h1.06v1.06h-1.06z" fill="#8aca42"/>
<path d="M16 17h1.06v1.06h-1.06z" fill="#7ec544"/>
<path d="M17 17h1.06v1.06h-1.06z" fill="#73c045"/>
<path d="M18 17h1.06v1.06h-1.06z" fill="#69bc46"/>
<path d="M19 17h1.06v1.06h-1.06z" fill="#60b748"/>
<path d="M20 17h1.06v1.06h-1.06z" fill="#58b449"/>
<path d="M21 17h1.06v1.06h-1.06z" fill="#50b04a"/>
<path d="M22 17h1.06v1.06h-1.06z" fill="#4dae4c"/>
<path d="M23 17h1.06v1.06h-1.06z" fill="#4cac50"/>
<path d="M24 17h1.06v1.06h-1.06z" fill="#4bab54"/>
<path d="M25 17h1.06v1.06h-1.06z" fill="#4aa957"/>
<path d="M26 17h1.06v1.06h-1.06z" fill="#4aa85b"/>
<path d="M27 17h1.06v1.06h-1.06z" fill="#49a65e"/>
<path d="M28 17h1.06v1.06h-1.06z" fill="#49a560"/>
<path d="M29 17h1.06v1.06h-1.06z" fill="#48a463"/>
<path d="M30 17h1.06v1.06h-1.06z" fill="#48a365"/>
<path d="M31 17h1.06v1.06h-1.06z" fill="#47a268"/>
<path d="M32 17h1.06v1.06h-1.06z" fill="#47a16a"/>
<path d="M33 17h1.06v1.06h-1.06z" fill="#46a06c"/>
<path d="M34 17h1.06v1.06h-1.06z" fill="#469f6e"/>
<path d="M35 17h1.06v1.06h-1.06z" fill="#459e70"/>
<path d="M36 17h1.06v1.06h-1.06z" fill="#459d72"/>
<path d="M37 17h1.06v1.06h-1.06z" fill="#459d73"/>
<path d="M38 17h1.3v1.06h-1.3z" fill="#449c75"/>
<path d="M-.3 18h3.36v1.06h-3.36z" fill="#e41a1c"/>
<path d="M3 18h1.06v1.06h-1.06z" fill="#e82918"/>
<path d="M4 18h1.06v1.06h-1.06z" fill="#f3520d"/>
<path d="M5 18h1.06v1.06h-1.06z" fill="#ff7e00"/>
<path d="M6 18h1.06v1.06h-1.06z" fill="#ffa810"/>
<path d="M7 18h1.06v1.06h-1.06z" fill="#ffca1e"/>
<path d="M8 18h1.06v1.06h-1.06z" fill="#ffe629"/>
<path d="M9 18h1.06v1.06h-1.06z" fill="#fffd32"/>
<path d="M10 18h1.06v1.06h-1.06z" fill="#e7f436"/>
<path d="M11 18h1.06v1.06h-1.06z" fill="#d0ea39"/>
<path d="M12 18h1.06v1.06h-1.06z" fill="#bce13c"/>
<path d="M13 18h1.06v1.06h-1.06z" fill="#aad93e"/>
<path d="M14 18h1.06v1.06h-1.06z" fill="#9bd240"/>
<path d="M15 18h1.06v1.06h-1.06z" fill="#8dcc42"/>
<path d="M16 18h1.06v1.06h-1.06z" fill="#81c643"/>
<path d="M17 18h1.06v1.06h-1.06z" fill="#76c145"/>
<path d="M18 18h1.06v1.06h-1.06z" fill="#6cbd46"/>
<path d="M19 18h1.06v1.06h-1.06z" fill="#62b947"/>
<path d="M20 18h1.06v1.06h-1.06z" fill="#5ab548"/>
<path d="M21 18h1.06v1.06h-1.06z" fill="#53b149"/>
<path d="M22 18h1.06v1.06h-1.06z" fill="#4daf4b"/>
<path d="M23 18h1.06v1.06h-1.06z" fill="#4cad4f"/>
<path d="M24 18h1.06v1.06h-1.06z" fill="#4bab53"/>
<path d="M25 18h1.06v1.06h-1.06z" fill="#4baa56"/>
<path d="M26 18h1.06v1.06h-1.06z" fill="#4aa859"/>
<path d="M27 18h1.06v1.06h-1.06z" fill="#49a75c"/>
<path d="M28 18h1.06v1.06h-1.06z" fill="#49a65f"/>
<path d="M29 18h1.06v1.06h-1.06z" fill="#48a462"/>
<path d="M30 18h1.06v1.06h-1.06z" fill="#48a364"/>
<path d="M31 18h1.06v1.06h-1.06z" fill="#47a267"/>
<path d="M32 18h1.06v1.06h-1.06z" fill="#47a169"/>
<path d="M33 18h1.06v1.06h-1.06z" fill="#46a06b"/>
<path d="M34 18h1.06v1.06h-1.06z" fill="#469f6d"/>
<path d="M35 18h1.06v1.06h-1.06z" fill="#469f6f"/>
<path d="M36 18h1.06v1.06h-1.06z" fill="#459e71"/>
<path d="M37 18h1.06v1.06h-1.06z" fill="#459d72"/>
<path d="M38 18h1.3v1.06h-1.3z" fill="#459c74"/>
<path d="M-.3 19h3.36v1.06h-3.36z" fill="#e41a1c"/>
<path d="M3 19h1.06v1.06h-1.06z" fill="#e72718"/>
<path d="M4 19h1.06v1.06h-1.06z" fill="#f24d0e"/>
<path d="M5 19h1.06v1.06h-1.06z" fill="#fe7a02"/>
<path d="M6 19h1.06v1.06h-1.06z" fill="#ffa40f"/>
<path d="M7 19h1.06v1.06h-1.06z" fill="#ffc61c"/>
<path d="M8 19h1.06v1.06h-1.06z" fill="#ffe227"/>
<path d="M9 19h1.06v1.06h-1.06z" fill="#fff931"/>
<path d="M10 19h1.06v1.06h-1.06z" fill="#ebf636"/>
<path d="M11 19h1.06v1.06h-1.06z" fill="#d4ec39"/>
<path d="M12 19h1.06v1.06h-1.06z" fill="#c0e23b"/>
<path d="M13 19h1.06v1.06h-1.06z" fill="#aedb3d"/>
<path d="M14 19h1.06v1.06h-1.06z" fill="#9ed340"/>
<path d="M15 19h1.06v1.06h-1.06z" fill="#90cd41"/>
<path d="M16 19h1.06v1.06h-1.06z" fill="#84c843"/>
<path d="M17 19h1.06v1.06h-1.06z" fill="#79c344"/>
<path d="M18 19h1.06v1.06h-1.06z" fill="#6ebe46"/>
<path d="M19 19h1.06v1.06h-1.06z" fill="#65ba47"/>
<path d="M20 19h1.06v1.06h-1.06z" fill="#5db648"/>
<path d="M21 19h1.06v1.06h-1.06z" fill="#55b349"/>
<path d="M22 19h1.06v1.06h-1.06z" fill="#4eaf4a"/>
<path d="M23 19h1.06v1.06h-1.06z" fill="#4cad4e"/>
<path d="M24 19h1.06v1.06h-1.06z" fill="#4cac51"/>
<path d="M25 19h1.06v1.06h-1.06z" fill="#4baa55"/>
<path d="M26 19h1.06v1.06h-1.06z" fill="#4aa958"/>
<path d="M27 19h1.06v1.06h-1.06z" fill="#4aa75b"/>
<path d="M28 19h1.06v1.06h-1.06z" fill="#49a65e"/>
<path d="M29 19h1.06v1.06h-1.06z" fill="#48a561"/>
<path d="M30 19h1.06v1.06h-1.06z" fill="#48a463"/>
<path d="M31 19h1.06v1.06h-1.06z" fill="#47a366"/>
<path d="M32 19h1.06v1.06h-1.06z" fill="#47a268"/>
<path d="M33 19h1.06v1.06h-1.06z" fill="#47a16a"/>
<path d="M34 19h1.06v1.06h-1.06z" fill="#46a06c"/>
<path d="M35 19h1.06v1.06h-1.06z" fill="#469f6e"/>
<path d="M36 19h1.06v1.06h-1.06z" fill="#459e70"/>
<path d="M37 19h1.06v1.06h-1.06z" fill="#459d71"/>
<path d="M38 19h1.3v1.06h-1.3z" fill="#459d73"/>
<path d="M-.3 20h3.36v1.06h-3.36z" fill="#e41a1c"/>
<path d="M3 20h1.06v1.06h-1.06z" fill="#e72419"/>
<path d="M4 20h1.06v1.06h-1.06z" fill="#f0480f"/>
<path d="M5 20h1.06v1.06h-1.06z" fill="#fc7503"/>
<path d="M6 20h1.06v1.06h-1.06z" fill="#ff9f0d"/>
<path d="M7 20h1.06v1.06h-1.06z" fill="#ffc21b"/>
<path d="M8 20h1.06v1.06h-1.06z" fill="#ffde26"/>
<path d="M9 20h1.06v1.06h-1.06z" fill="#fff62f"/>
<path d="M10 20h1.06v1.06h-1.06z" fill="#f0f835"/>
<path d="M11 20h1.06v1.06h-1.06z" fill="#d8ee38"/>
<path d="M12 20h1.06v1.06h-1.06z" fill="#c4e43b"/>
<path d="M13 20h1.06v1.06h-1.06z" fill="#b2dc3d"/>
<path d="M14 20h1.06v1.06h-1.06z" fill="#a2d53f"/>
<path d="M15 20h1.06v1.06h-1.06z" fill="#94cf41"/>
<path d="M16 20h1.06v1.06h-1.06z" fill="#87c943"/>
<path d="M17 20h1.06v1.06h-1.06z" fill="#7cc444"/>
<path d="M18 20h1.06v1.06h-1.06z" fill="#71bf45"/>
<path d="M19 20h1.06v1.06h-1.06z" fill="#68bb47"/>
<path d="M20 20h1.06v1.06h-1.06z" fill="#5fb748"/>
<path d="M21 20h1.06v1.06h-1.06z" fill="#57b449"/>
<path d="M22 20h1.06v1.06h-1.06z" fill="#50b04a"/>
<path d="M23 20h1.06v1.06h-1.06z" fill="#4dae4c"/>
<path d="M24 20h1.06v1.06h-1.06z" fill="#4cac50"/>
<path d="M25 20h1.06v1.06h-1.06z" fill="#4bab54"/>
<path d="M26 20h1.06v1.06h-1.06z" fill="#4aa957"/>
<path d="M27 20h1.06v1.06h-1.06z" fill="#4aa85a"/>
<path d="M28 20h1.06v1.06h-1.06z" fill="#49a75d"/>
<path d="M29 20h1.06v1.06h-1.06z" fill="#49a560"/>
<path d="M30 20h1.06v1.06h-1.06z" fill="#48a462"/>
<path d="M31 20h1.06v1.06h-1.06z" fill="#48a365"/>
<path d="M32 20h1.06v1.06h-1.06z" fill="#47a267"/>
<path d="M33 20h1.06v1.06h-1.06z" fill="#47a169"/>
<path d="M34 20h1.06v1.06h-1.06z" fill="#46a06b"/>
<path d="M35 20h1.06v1.06h-1.06z" fill="#469f6d"/>
<path d="M36 20h1.06v1.06h-1.06z" fill="#469f6f"/>
<path d="M37 20h1.06v1.06h-1.06z" fill="#459e70"/>
<path d="M38 20h1.3v1.06h-1.3z" fill="#459d72"/>
<path d="M-.3 21h3.36v1.06h-3.36z" fill="#e41a1c"/>
<path d="M3 21h1.06v1.06h-1.06z" fill="#e6211a"/>
<path d="M4 21h1.06v1.06h-1.06z" fill="#ef4311"/>
<path d="M5 21h1.06v1.06h-1.06z" fill="#fb7104"/>
<path d="M6 21h1.06v1.06h-1.06z" fill="#ff9a0b"/>
<path d="M7 21h1.06v1.06h-1.06z" fill="#ffbd19"/>
<path d="M8 21h1.06v1.06h-1.06z" fill="#ffda24"/>
<path d="M9 21h1.06v1.06h-1.06z" fill="#fff22e"/>
<path d="M10 21h1.06v1.06h-1.06z" fill="#f5fa34"/>
<path d="M11 21h1.06v1.06h-1.06z" fill="#ddf037"/>
<path d="M12 21h1.06v1.06h-1.06z" fill="#c8e63a"/>
<path d="M13 21h1.06v1.06h-1.06z" fill="#b6de3c"/>
<path d="M14 21h1.06v1.06h-1.06z" fill="#a6d73f"/>
<path d="M15 21h1.06v1.06h-1.06z" fill="#97d040"/>
<path d="M16 21h1.06v1.06h-1.06z" fill="#8acb42"/>
<path d="M17 21h1.06v1.06h-1.06z" fill="#7fc544"/>
<path d="M18 21h1.06v1.06h-1.06z" fill="#74c145"/>
<path d="M19 21h1.06v1.06h-1.06z" fill="#6bbc46"/>
<path d="M20 21h1.06v1.06h-1.06z" fill="#62b947"/>
<path d="M21 21h1.06v1.06h-1.06z" fill="#5ab548"/>
<path d="M22 21h1.06v1.06h-1.06z" fill="#53b249"/>
<path d="M23 21h1.06v1.06h-1.06z" fill="#4daf4b"/>
<path d="M24 21h1.06v1.06h-1.06z" fill="#4cad4e"/>
<path d="M25 21h1.06v1.06h-1.06z" fill="#4bab52"/>
<path d="M26 21h1.06v1.06h-1.06z" fill="#4baa55"/>
<path d="M27 21h1.06v1.06h-1.06z" fill="#4aa959"/>
<path d="M28 21h1.06v1.06h-1.06z" fill="#4aa75b"/>
<path d="M29 21h1.06v1.06h-1.06z" fill="#49a65e"/>
<path d="M30 21h1.06v1.06h-1.06z" fill="#48a561"/>
<path d="M31 21h1.06v1.06h-1.06z" fill="#48a463"/>
<path d="M32 21h1.06v1.06h-1.06z" fill="#47a366"/>
<path d="M33 21h1.06v1.06h-1.06z" fill="#47a268"/>
<path d="M34 21h1.06v1.06h-1.06z" fill="#47a16a"/>
<path d="M35 21h1.06v1.06h-1.06z" fill="#46a06c"/>
<path d="M36 21h1.06v1.06h-1.06z" fill="#469f6e"/>
<path d="M37 21h1.06v1.06h-1.06z" fill="#469e6f"/>
<path d="M38 21h1.3v1.06h-1.3z" fill="#459e71"/>
<path d="M-.3 22h3.36v1.06h-3.36z" fill="#e41a1c"/>
<path d="M3 22h1.06v1.06h-1.06z" fill="#e51f1b"/>
<path d="M4 22h1.06v1.06h-1.06z" fill="#ee3e12"/>
<path d="M5 22h1.06v1.06h-1.06z" fill="#fa6c05"/>
<path d="M6 22h1.06v1.06h-1.06z" fill="#ff9408"/>
<path d="M7 22h1.06v1.06h-1.06z" fill="#ffb817"/>
<path d="M8 22h1.06v1.06h-1.06z" fill="#ffd623"/>
<path d="M9 22h1.06v1.06h-1.06z" fill="#ffee2c"/>
<path d="M10 22h1.06v1.06h-1.06z" fill="#fafd34"/>
<path d="M11 22h1.06v1.06h-1.06z" fill="#e2f237"/>
<path d="M12 22h1.06v1.06h-1.06z" fill="#cce83a"/>
<path d="M13 22h1.06v1.06h-1.06z" fill="#bae03c"/>
<path d="M14 22h1.06v1.06h-1.06z" fill="#aad93e"/>
<path d="M15 22h1.06v1.06h-1.06z" fill="#9bd240"/>
<path d="M16 22h1.06v1.06h-1.06z" fill="#8ecc42"/>
<path d="M17 22h1.06v1.06h-1.06z" fill="#82c743"/>
<path d="M18 22h1.06v1.06h-1.06z" fill="#78c244"/>
<path d="M19 22h1.06v1.06h-1.06z" fill="#6ebe46"/>
<path d="M20 22h1.06v1.06h-1.06z" fill="#65ba47"/>
<path d="M21 22h1.06v1.06h-1.06z" fill="#5db648"/>
<path d="M22 22h1.06v1.06h-1.06z" fill="#56b349"/>
<path d="M23 22h1.06v1.06h-1.06z" fill="#4fb04a"/>
<path d="M24 22h1.06v1.06h-1.06z" fill="#4cae4d"/>
<path d="M25 22h1.06v1.06h-1.06z" fill="#4cac51"/>
<path d="M26 22h1.06v1.06h-1.06z" fill="#4bab54"/>
<path d="M27 22h1.06v1.06h-1.06z" fill="#4aa957"/>
<path d="M28 22h1.06v1.06h-1.06z" fill="#4aa85a"/>
<path d="M29 22h1.06v1.06h-1.06z" fill="#49a75d"/>
<path d="M30 22h1.06v1.06h-1.06z" fill="#49a560"/>
<path d="M31 22h1.06v1.06h-1.06z" fill="#48a462"/>
<path d="M32 22h1.06v1.06h-1.06z" fill="#48a364"/>
<path d="M33 22h1.06v1.06h-1.06z" fill="#47a267"/>
<path d="M34 22h1.06v1.06h-1.06z" fill="#47a169"/>
<path d="M35 22h1.06v1.06h-1.06z" fill="#46a06b"/>
<path d="M36 22h1.06v1.06h-1.06z" fill="#46a06d"/>
<path d="M37 22h1.06v1.06h-1.06z" fill="#469f6e"/>
<path d="M38 22h1.3v1.06h-1.3z" fill="#459e70"/>
<path d="M-.3 23h3.36v1.06h-3.36z" fill="#e41a1c"/>
<path d="M3 23h1.06v1.06h-1.06z" fill="#e41c1c"/>
<path d="M4 23h1.06v1.06h-1.06z" fill="#ec3814"/>
<path d="M5 23h1.06v1.06h-1.06z" fill="#f96707"/>
<path d="M6 23h1.06v1.06h-1.06z" fill="#ff8f06"/>
<path d="M7 23h1.06v1.06h-1.06z" fill="#ffb315"/>
<path d="M8 23h1.06v1.06h-1.06z" fill="#ffd121"/>
<path d="M9 23h1.06v1.06h-1.06z" fill="#ffea2b"/>
<path d="M10 23h1.06v1.06h-1.06z" fill="#ff3"/>
<path d="M11 23h1.06v1.06h-1.06z" fill="#e7f436"/>
<path d="M12 23h1.06v1.06h-1.06z" fill="#d1ea39"/>
<path d="M13 23h1.06v1.06h-1.06z" fill="#bee23b"/>
<path d="M14 23h1.06v1.06h-1.06z" fill="#aeda3e"/>
<path d="M15 23h1.06v1.06h-1.06z" fill="#9fd43f"/>
<path d="M16 23h1.06v1.06h-1.06z" fill="#92ce41"/>
<path d="M17 23h1.06v1.06h-1.06z" fill="#86c943"/>
<path d="M18 23h1.06v1.06h-1.06z" fill="#7bc444"/>
<path d="M19 23h1.06v1.06h-1.06z" fill="#71bf45"/>
<path d="M20 23h1.06v1.06h-1.06z" fill="#68bb46"/>
<path d="M21 23h1.06v1.06h-1.06z" fill="#60b848"/>
<path d="M22 23h1.06v1.06h-1.06z" fill="#59b449"/>
<path d="M23 23h1.06v1.06h-1.06z" fill="#52b149"/>
<path d="M24 23h1.06v1.06h-1.06z" fill="#4dae4b"/>
<path d="M25 23h1.06v1.06h-1.06z" fill="#4cad4f"/>
<path d="M26 23h1.06v1.06h-1.06z" fill="#4bab52"/>
<path d="M27 23h1.06v1.06h-1.06z" fill="#4baa56"/>
<path d="M28 23h1.06v1.06h-1.06z" fill="#4aa859"/>
<path d="M29 23h1.06v1.06h-1.06z" fill="#4aa75b"/>
<path d="M30 23h1.06v1.06h-1.06z" fill="#49a65e"/>
<path d="M31 23h1.06v1.06h-1.06z" fill="#48a561"/>
<path d="M32 23h1.06v1.06h-1.06z" fill="#48a463"/>
<path d="M33 23h1.06v1.06h-1.06z" fill="#48a365"/>
<path d="M34 23h1.06v1.06h-1.06z" fill="#47a267"/>
<path d="M35 23h1.06v1.06h-1.06z" fill="#47a169"/>
<path d="M36 23h1.06v1.06h-1.06z" fill="#46a06b"/>
<path d="M37 23h1.06v1.06h-1.06z" fill="#469f6d"/>
<path d="M38 23h1.3v1.06h-1.3z" fill="#469f6f"/>
<path d="M-.3 24h4.36v1.06h-4.36z" fill="#e41a1c"/>
<path d="M4 24h1.06v1.06h-1.06z" fill="#eb3315"/>
<path d="M5 24h1.06v1.06h-1.06z" fill="#f76108"/>
<path d="M6 24h1.06v1.06h-1.06z" fill="#ff8804"/>
<path d="M7 24h1.06v1.06h-1.06z" fill="#ffad12"/>
<path d="M8 24h1.06v1.06h-1.06z" fill="#ffcb1e"/>
<path d="M9 24h1.06v1.06h-1.06z" fill="#ffe528"/>
<path d="M10 24h1.06v1.06h-1.06z" fill="#fffa31"/>
<path d="M11 24h1.06v1.06h-1.06z" fill="#edf735"/>
<path d="M12 24h1.06v1.06h-1.06z" fill="#d7ed38"/>
<path d="M13 24h1.06v1.06h-1.06z" fill="#c4e43b"/>
<path d="M14 24h1.06v1.06h-1.06z" fill="#b3dd3d"/>
<path d="M15 24h1.06v1.06h-1.06z" fill="#a4d63f"/>
<path d="M16 24h1.06v1.06h-1.06z" fill="#96d041"/>
<path d="M17 24h1.06v1.06h-1.06z" fill="#8aca42"/>
<path d="M18 24h1.06v1.06h-1.06z" fill="#7fc644"/>
<path d="M19 24h1.06v1.06h-1.06z" fill="#75c145"/>
<path d="M20 24h1.06v1.06h-1.06z" fill="#6cbd46"/>
<path d="M21 24h1.06v1.06h-1.06z" fill="#64b947"/>
<path d="M22 24h1.06v1.06h-1.06z" fill="#5cb648"/>
<path d="M23 24h1.06v1.06h-1.06z" fill="#55b349"/>
<path d="M24 24h1.06v1.06h-1.06z" fill="#4eb04a"/>
<path d="M25 24h1.06v1.06h-1.06z" fill="#4cae4d"/>
<path d="M26 24h1.06v1.06h-1.06z" fill="#4cac50"/>
<path d="M27 24h1.06v1.06h-1.06z" fill="#4bab54"/>
<path d="M28 24h1.06v1.06h-1.06z" fill="#4aa957"/>
<path d="M29 24h1.06v1.06h-1.06z" fill="#4aa85a"/>
<path d="M30 24h1.06v1.06h-1.06z" fill="#49a75c"/>
<path d="M31 24h1.06v1.06h-1.06z" fill="#49a65f"/>
<path d="M32 24h1.06v1.06h-1.06z" fill="#48a561"/>
<path d="M33 24h1.06v1.06h-1.06z" fill="#48a464"/>
<path d="M34 24h1.06v1.06h-1.06z" fill="#47a366"/>
<path d="M35 24h1.06v1.06h-1.06z" fill="#47a268"/>
<path d="M36 24h1.06v1.06h-1.06z" fill="#47a16a"/>
<path d="M37 24h1.06v1.06h-1.06z" fill="#46a06c"/>
<path d="M38 24h1.3v1.06h-1.3z" fill="#469f6e"/>
<path d="M-.3 25h4.36v1.06h-4.36z" fill="#e41a1c"/>
<path d="M4 25h1.06v1.06h-1.06z" fill="#ea2f16"/>
<path d="M5 25h1.06v1.06h-1.06z" fill="#f5590a"/>
<path d="M6 25h1.06v1.06h-1.06z" fill="#ff7f00"/>
<path d="M7 25h1.06v1.06h-1.06z" fill="#ffa50f"/>
<path d="M8 25h1.06v1.06h-1.06z" fill="#ffc41c"/>
<path d="M9 25h1.06v1.06h-1.06z" fill="#ffde26"/>
<path d="M10 25h1.06v1.06h-1.06z" fill="#fff42f"/>
<path d="M11 25h1.06v1.06h-1.06z" fill="#f5fa34"/>
<path d="M12 25h1.06v1.06h-1.06z" fill="#def037"/>
<path d="M13 25h1.06v1.06h-1.06z" fill="#cbe73a"/>
<path d="M14 25h1.06v1.06h-1.06z" fill="#b9e03c"/>
<path d="M15 25h1.06v1.06h-1.06z" fill="#aad93e"/>
<path d="M16 25h1.06v1.06h-1.06z" fill="#9cd340"/>
<path d="M17 25h1.06v1.06h-1.06z" fill="#90cd41"/>
<path d="M18 25h1.06v1.06h-1.06z" fill="#84c843"/>
<path d="M19 25h1.06v1.06h-1.06z" fill="#7ac344"/>
<path d="M20 25h1.06v1.06h-1.06z" fill="#71bf45"/>
<path d="M21 25h1.06v1.06h-1.06z" fill="#68bb46"/>
<path d="M22 25h1.06v1.06h-1.06z" fill="#60b847"/>
<path d="M23 25h1.06v1.06h-1.06z" fill="#59b448"/>
<path d="M24 25h1.06v1.06h-1.06z" fill="#52b149"/>
<path d="M25 25h1.06v1.06h-1.06z" fill="#4daf4a"/>
<path d="M26 25h1.06v1.06h-1.06z" fill="#4cad4e"/>
<path d="M27 25h1.06v1.06h-1.06z" fill="#4cac51"/>
<path d="M28 25h1.06v1.06h-1.06z" fill="#4baa55"/>
<path d="M29 25h1.06v1.06h-1.06z" fill="#4aa958"/>
<path d="M30 25h1.06v1.06h-1.06z" fill="#4aa85a"/>
<path d="M31 25h1.06v1.06h-1.06z" fill="#49a75d"/>
<path d="M32 25h1.06v1.06h-1.06z" fill="#49a55f"/>
<path d="M33 25h1.06v1.06h-1.06z" fill="#48a462"/>
<path d="M34 25h1.06v1.06h-1.06z" fill="#48a364"/>
<path d="M35 25h1.06v1.06h-1.06z" fill="#47a266"/>
<path d="M36 25h1.06v1.06h-1.06z" fill="#47a268"/>
<path d="M37 25h1.06v1.06h-1.06z" fill="#47a16a"/>
<path d="M38 25h1.3v1.06h-1.3z" fill="#46a06c"/>
<path d="M-.3 26h4.36v1.06h-4.36z" fill="#e41a1c"/>
<path d="M4 26h1.06v1.06h-1.06z" fill="#e92b17"/>
<path d="M5 26h1.06v1.06h-1.06z" fill="#f3520d"/>
<path d="M6 26h1.06v1.06h-1.06z" fill="#fd7802"/>
<path d="M7 26h1.06v1.06h-1.06z" fill="#ff9e0c"/>
<path d="M8 26h1.06v1.06h-1.06z" fill="#ffbd19"/>
<path d="M9 26h1.06v1.06h-1.06z" fill="#ffd823"/>
<path d="M10 26h1.06v1.06h-1.06z" fill="#ffee2c"/>
<path d="M11 26h1.06v1.06h-1.06z" fill="#fcfe33"/>
<path d="M12 26h1.06v1.06h-1.06z" fill="#e5f336"/>
<path d="M13 26h1.06v1.06h-1.06z" fill="#d1ea39"/>
<path d="M14 26h1.06v1.06h-1.06z" fill="#c0e33b"/>
<path d="M15 26h1.06v1.06h-1.06z" fill="#b0db3d"/>
<path d="M16 26h1.06v1.06h-1.06z" fill="#a2d53f"/>
<path d="M17 26h1.06v1.06h-1.06z" fill="#95cf41"/>
<path d="M18 26h1.06v1.06h-1.06z" fill="#8aca42"/>
<path d="M19 26h1.06v1.06h-1.06z" fill="#7fc644"/>
<path d="M20 26h1.06v1.06h-1.06z" fill="#76c145"/>
<path d="M21 26h1.06v1.06h-1.06z" fill="#6dbd46"/>
<path d="M22 26h1.06v1.06h-1.06z" fill="#65ba47"/>
<path d="M23 26h1.06v1.06h-1.06z" fill="#5db648"/>
<path d="M24 26h1.06v1.06h-1.06z" fill="#57b349"/>
<path d="M25 26h1.06v1.06h-1.06z" fill="#50b04a"/>
<path d="M26 26h1.06v1.06h-1.06z" fill="#4dae4c"/>
<path d="M27 26h1.06v1.06h-1.06z" fill="#4cad4f"/>
<path d="M28 26h1.06v1.06h-1.06z" fill="#4bab52"/>
<path d="M29 26h1.06v1.06h-1.06z" fill="#4baa55"/>
<path d="M30 26h1.06v1.06h-1.06z" fill="#4aa958"/>
<path d="M31 26h1.06v1.06h-1.06z" fill="#4aa75b"/>
<path d="M32 26h1.06v1.06h-1.06z" fill="#49a65e"/>
<path d="M33 26h1.06v1.06h-1.06z" fill="#49a560"/>
<path d="M34 26h1.06v1.06h-1.06z" fill="#48a462"/>
<path d="M35 26h1.06v1.06h-1.06z" fill="#48a364"/>
<path d="M36 26h1.06v1.06h-1.06z" fill="#47a266"/>
<path d="M37 26h1.06v1.06h-1.06z" fill="#47a268"/>
<path d="M38 26h1.3v1.06h-1.3z" fill="#47a16a"/>
<path d="M-.3 27h4.36v1.06h-4.36z" fill="#e41a1c"/>
<path d="M4 27h1.06v1.06h-1.06z" fill="#e72718"/>
<path d="M5 27h1.06v1.06h-1.06z" fill="#f14a0f"/>
<path d="M6 27h1.06v1.06h-1.06z" fill="#fb7104"/>
<path d="M7 27h1.06v1.06h-1.06z" fill="#ff9509"/>
<path d="M8 27h1.06v1.06h-1.06z" fill="#ffb616"/>
<path d="M9 27h1.06v1.06h-1.06z" fill="#ffd121"/>
<path d="M10 27h1.06v1.06h-1.06z" fill="#ffe82a"/>
<path d="M11 27h1.06v1.06h-1.06z" fill="#fffb31"/>
<path d="M12 27h1.06v1.06h-1.06z" fill="#edf735"/>
<path d="M13 27h1.06v1.06h-1.06z" fill="#d8ee38"/>
<path d="M14 27h1.06v1.06h-1.06z" fill="#c6e63a"/>
<path d="M15 27h1.06v1.06h-1.06z" fill="#b6de3c"/>
<path d="M16 27h1.06v1.06h-1.06z" fill="#a8d83e"/>
<path d="M17 27h1.06v1.06h-1.06z" fill="#9bd240"/>
<path d="M18 27h1.06v1.06h-1.06z" fill="#8fcd41"/>
<path d="M19 27h1.06v1.06h-1.06z" fill="#85c843"/>
<path d="M20 27h1.06v1.06h-1.06z" fill="#7bc444"/>
<path d="M21 27h1.06v1.06h-1.06z" fill="#72c045"/>
<path d="M22 27h1.06v1.06h-1.06z" fill="#6abc46"/>
<path d="M23 27h1.06v1.06h-1.06z" fill="#62b847"/>
<path d="M24 27h1.06v1.06h-1.06z" fill="#5bb548"/>
<path d="M25 27h1.06v1.06h-1.06z" fill="#54b249"/>
<path d="M26 27h1.06v1.06h-1.06z" fill="#4eb04a"/>
<path d="M27 27h1.06v1.06h-1.06z" fill="#4cae4d"/>
<path d="M28 27h1.06v1.06h-1.06z" fill="#4cac50"/>
<path d="M29 27h1.06v1.06h-1.06z" fill="#4bab53"/>
<path d="M30 27h1.06v1.06h-1.06z" fill="#4baa56"/>
<path d="M31 27h1.06v1.06h-1.06z" fill="#4aa859"/>
<path d="M32 27h1.06v1.06h-1.06z" fill="#4aa75b"/>
<path d="M33 27h1.06v1.06h-1.06z" fill="#49a65e"/>
<path d="M34 27h1.06v1.06h-1.06z" fill="#49a560"/>
<path d="M35 27h1.06v1.06h-1.06z" fill="#48a462"/>
<path d="M36 27h1.06v1.06h-1.06z" fill="#48a364"/>
<path d="M37 27h1.06v1.06h-1.06z" fill="#47a266"/>
<path d="M38 27h1.3v1.06h-1.3z" fill="#47a168"/>
<path d="M-.3 28h4.36v1.06h-4.36z" fill="#e41a1c"/>
<path d="M4 28h1.06v1.06h-1.06z" fill="#e6221a"/>
<path d="M5 28h1.06v1.06h-1.06z" fill="#ee4011"/>
<path d="M6 28h1.06v1.06h-1.06z" fill="#f96906"/>
<path d="M7 28h1.06v1.06h-1.06z" fill="#ff8c05"/>
<path d="M8 28h1.06v1.06h-1.06z" fill="#ffad12"/>
<path d="M9 28h1.06v1.06h-1.06z" fill="#ffc91d"/>
<path d="M10 28h1.06v1.06h-1.06z" fill="#ffe027"/>
<path d="M11 28h1.06v1.06h-1.06z" fill="#fff42f"/>
<path d="M12 28h1.06v1.06h-1.06z" fill="#f6fb34"/>
<path d="M13 28h1.06v1.06h-1.06z" fill="#e1f137"/>
<path d="M14 28h1.06v1.06h-1.06z" fill="#cee939"/>
<path d="M15 28h1.06v1.06h-1.06z" fill="#bee23b"/>
<path d="M16 28h1.06v1.06h-1.06z" fill="#afdb3d"/>
<path d="M17 28h1.06v1.06h-1.06z" fill="#a2d53f"/>
<path d="M18 28h1.06v1.06h-1.06z" fill="#96d041"/>
<path d="M19 28h1.06v1.06h-1.06z" fill="#8bcb42"/>
<path d="M20 28h1.06v1.06h-1.06z" fill="#81c643"/>
<path d="M21 28h1.06v1.06h-1.06z" fill="#78c245"/>
<path d="M22 28h1.06v1.06h-1.06z" fill="#6fbe46"/>
<path d="M23 28h1.06v1.06h-1.06z" fill="#67bb47"/>
<path d="M24 28h1.06v1.06h-1.06z" fill="#60b848"/>
<path d="M25 28h1.06v1.06h-1.06z" fill="#59b548"/>
<path d="M26 28h1.06v1.06h-1.06z" fill="#53b249"/>
<path d="M27 28h1.06v1.06h-1.06z" fill="#4daf4a"/>
<path d="M28 28h1.06v1.06h-1.06z" fill="#4cae4d"/>
<path d="M29 28h1.06v1.06h-1.06z" fill="#4cac50"/>
<path d="M30 28h1.06v1.06h-1.06z" fill="#4bab53"/>
<path d="M31 28h1.06v1.06h-1.06z" fill="#4baa56"/>
<path d="M32 28h1.06v1.06h-1.06z" fill="#4aa859"/>
<path d="M33 28h1.06v1.06h-1.06z" fill="#4aa75b"/>
<path d="M34 28h1.06v1.06h-1.06z" fill="#49a65e"/>
<path d="M35 28h1.06v1.06h-1.06z" fill="#49a560"/>
<path d="M36 28h1.06v1.06h-1.06z" fill="#48a462"/>
<path d="M37 28h1.06v1.06h-1.06z" fill="#48a364"/>
<path d="M38 28h1.3v1.06h-1.3z" fill="#47a266"/>
<path d="M-.3 29h4.36v1.06h-4.36z" fill="#e41a1c"/>
<path d="M4 29h1.06v1.06h-1.06z" fill="#e51d1b"/>
<path d="M5 29h1.06v1.06h-1.06z" fill="#ec3714"/>
<path d="M6 29h1.06v1.06h-1.06z" fill="#f76108"/>
<path d="M7 29h1.06v1.06h-1.06z" fill="#ff8302"/>
<path d="M8 29h1.06v1.06h-1.06z" fill="#ffa50f"/>
<path d="M9 29h1.06v1.06h-1.06z" fill="#ffc11a"/>
<path d="M10 29h1.06v1.06h-1.06z" fill="#ffd924"/>
<path d="M11 29h1.06v1.06h-1.06z" fill="#ffee2c"/>
<path d="M12 29h1.06v1.06h-1.06z" fill="#feff33"/>
<path d="M13 29h1.06v1.06h-1.06z" fill="#e9f536"/>
<path d="M14 29h1.06v1.06h-1.06z" fill="#d6ec38"/>
<path d="M15 29h1.06v1.06h-1.06z" fill="#c5e53b"/>
<path d="M16 29h1.06v1.06h-1.06z" fill="#b6de3c"/>
<path d="M17 29h1.06v1.06h-1.06z" fill="#a8d83e"/>
<path d="M18 29h1.06v1.06h-1.06z" fill="#9cd240"/>
<path d="M19 29h1.06v1.06h-1.06z" fill="#91cd41"/>
<path d="M20 29h1.06v1.06h-1.06z" fill="#86c943"/>
<path d="M21 29h1.06v1.06h-1.06z" fill="#7dc544"/>
<path d="M22 29h1.06v1.06h-1.06z" fill="#74c145"/>
<path d="M23 29h1.06v1.06h-1.06z" fill="#6cbd46"/>
<path d="M24 29h1.06v1.06h-1.06z" fill="#65ba47"/>
<path d="M25 29h1.06v1.06h-1.06z" fill="#5eb748"/>
<path d="M26 29h1.06v1.06h-1.06z" fill="#57b449"/>
<path d="M27 29h1.06v1.06h-1.06z" fill="#51b149"/>
<path d="M28 29h1.06v1.06h-1.06z" fill="#4daf4b"/>
<path d="M29 29h1.06v1.06h-1.06z" fill="#4cad4e"/>
<path d="M30 29h1.06v1.06h-1.06z" fill="#4cac51"/>
<path d="M31 29h1.06v1.06h-1.06z" fill="#4bab54"/>
<path d="M32 29h1.06v1.06h-1.06z" fill="#4aa957"/>
<path d="M33 29h1.06v1.06h-1.06z" fill="#4aa859"/>
<path d="M34 29h1.06v1.06h-1.06z" fill="#49a75c"/>
<path d="M35 29h1.06v1.06h-1.06z" fill="#49a65e"/>
<path d="M36 29h1.06v1.06h-1.06z" fill="#49a560"/>
<path d="M37 29h1.06v1.06h-1.06z" fill="#48a462"/>
<path d="M38 29h1.3v1.06h-1.3z" fill="#48a364"/>
<path d="M-.3 30h5.36v1.06h-5.36z" fill="#e41a1c"/>
<path d="M5 30h1.06v1.06h-1.06z" fill="#ea3016"/>
<path d="M6 30h1.06v1.06h-1.06z" fill="#f5590b"/>
<path d="M7 30h1.06v1.06h-1.06z" fill="#fe7b01"/>
<path d="M8 30h1.06v1.06h-1.06z" fill="#ff9c0c"/>
<path d="M9 30h1.06v1.06h-1.06z" fill="#ffb917"/>
<path d="M10 30h1.06v1.06h-1.06z" fill="#ffd221"/>
<path d="M11 30h1.06v1.06h-1.06z" fill="#ffe729"/>
<path d="M12 30h1.06v1.06h-1.06z" fill="#fff931"/>
<path d="M13 30h1.06v1.06h-1.06z" fill="#f1f935"/>
<path d="M14 30h1.06v1.06h-1.06z" fill="#def037"/>
<path d="M15 30h1.06v1.06h-1.06z" fill="#cce83a"/>
<path d="M16 30h1.06v1.06h-1.06z" fill="#bde13c"/>
<path d="M17 30h1.06v1.06h-1.06z" fill="#afdb3d"/>
<path d="M18 30h1.06v1.06h-1.06z" fill="#a2d53f"/>
<path d="M19 30h1.06v1.06h-1.06z" fill="#97d040"/>
<path d="M20 30h1.06v1.06h-1.06z" fill="#8ccb42"/>
<path d="M21 30h1.06v1.06h-1.06z" fill="#83c743"/>
<path d="M22 30h1.06v1.06h-1.06z" fill="#7ac344"/>
<path d="M23 30h1.06v1.06h-1.06z" fill="#71bf45"/>
<path d="M24 30h1.06v1.06h-1.06z" fill="#6abc46"/>
<path d="M25 30h1.06v1.06h-1.06z" fill="#63b947"/>
<path d="M26 30h1.06v1.06h-1.06z" fill="#5cb648"/>
<path d="M27 30h1.06v1.06h-1.06z" fill="#56b349"/>
<path d="M28 30h1.06v1.06h-1.06z" fill="#50b04a"/>
<path d="M29 30h1.06v1.06h-1.06z" fill="#4dae4b"/>
<path d="M30 30h1.06v1.06h-1.06z" fill="#4cad4e"/>
<path d="M31 30h1.06v1.06h-1.06z" fill="#4cac51"/>
<path d="M32 30h1.06v1.06h-1.06z" fill="#4baa54"/>
<path d="M33 30h1.06v1.06h-1.06z" fill="#4aa957"/>
<path d="M34 30h1.06v1.06h-1.06z" fill="#4aa859"/>
<path d="M35 30h1.06v1.06h-1.06z" fill="#49a75c"/>
<path d="M36 30h1.06v1.06h-1.06z" fill="#49a65e"/>
<path d="M37 30h1.06v1.06h-1.06z" fill="#49a560"/>
<path d="M38 30h1.3v1.06h-1.3z" fill="#48a462"/>
<path d="M-.3 31h5.36v1.06h-5.36z" fill="#e41a1c"/>
<path d="M5 31h1.06v1.06h-1.06z" fill="#e82b17"/>
<path d="M6 31h1.06v1.06h-1.06z" fill="#f24f0d"/>
<path d="M7 31h1.06v1.06h-1.06z" fill="#fb7204"/>
<path d="M8 31h1.06v1.06h-1.06z" fill="#ff9208"/>
<path d="M9 31h1.06v1.06h-1.06z" fill="#ffb013"/>
<path d="M10 31h1.06v1.06h-1.06z" fill="#ffc91e"/>
<path d="M11 31h1.06v1.06h-1.06z" fill="#ffdf26"/>
<path d="M12 31h1.06v1.06h-1.06z" fill="#fff12e"/>
<path d="M13 31h1.06v1.06h-1.06z" fill="#fbfd33"/>
<path d="M14 31h1.06v1.06h-1.06z" fill="#e7f436"/>
<path d="M15 31h1.06v1.06h-1.06z" fill="#d5ec38"/>
<path d="M16 31h1.06v1.06h-1.06z" fill="#c5e53a"/>
<path d="M17 31h1.06v1.06h-1.06z" fill="#b7df3c"/>
<path d="M18 31h1.06v1.06h-1.06z" fill="#aad93e"/>
<path d="M19 31h1.06v1.06h-1.06z" fill="#9ed340"/>
<path d="M20 31h1.06v1.06h-1.06z" fill="#93cf41"/>
<path d="M21 31h1.06v1.06h-1.06z" fill="#89ca42"/>
<path d="M22 31h1.06v1.06h-1.06z" fill="#80c643"/>
<path d="M23 31h1.06v1.06h-1.06z" fill="#78c244"/>
<path d="M24 31h1.06v1.06h-1.06z" fill="#70bf45"/>
<path d="M25 31h1.06v1.06h-1.06z" fill="#69bb46"/>
<path d="M26 31h1.06v1.06h-1.06z" fill="#62b847"/>
<path d="M27 31h1.06v1.06h-1.06z" fill="#5bb648"/>
<path d="M28 31h1.06v1.06h-1.06z" fill="#56b349"/>
<path d="M29 31h1.06v1.06h-1.06z" fill="#50b04a"/>
<path d="M30 31h1.06v1.06h-1.06z" fill="#4dae4b"/>
<path d="M31 31h1.06v1.06h-1.06z" fill="#4cad4e"/>
<path d="M32 31h1.06v1.06h-1.06z" fill="#4cac51"/>
<path d="M33 31h1.06v1.06h-1.06z" fill="#4bab54"/>
<path d="M34 31h1.06v1.06h-1.06z" fill="#4aa957"/>
<path d="M35 31h1.06v1.06h-1.06z" fill="#4aa859"/>
<path d="M36 31h1.06v1.06h-1.06z" fill="#4aa75b"/>
<path d="M37 31h1.06v1.06h-1.06z" fill="#49a65e"/>
<path d="M38 31h1.3v1.06h-1.3z" fill="#49a560"/>
<path d="M-.3 32h5.36v1.06h-5.36z" fill="#e41a1c"/>
<path d="M5 32h1.06v1.06h-1.06z" fill="#e72519"/>
<path d="M6 32h1.06v1.06h-1.06z" fill="#ef4410"/>
<path d="M7 32h1.06v1.06h-1.06z" fill="#f96806"/>
<path d="M8 32h1.06v1.06h-1.06z" fill="#ff8703"/>
<path d="M9 32h1.06v1.06h-1.06z" fill="#ffa50f"/>
<path d="M10 32h1.06v1.06h-1.06z" fill="#ffbf1a"/>
<path d="M11 32h1.06v1.06h-1.06z" fill="#ffd623"/>
<path d="M12 32h1.06v1.06h-1.06z" fill="#ffe92a"/>
<path d="M13 32h1.06v1.06h-1.06z" fill="#fffa31"/>
<path d="M14 32h1.06v1.06h-1.06z" fill="#f1f935"/>
<path d="M15 32h1.06v1.06h-1.06z" fill="#dff137"/>
<path d="M16 32h1.06v1.06h-1.06z" fill="#cfe939"/>
<path d="M17 32h1.06v1.06h-1.06z" fill="#c0e33b"/>
<path d="M18 32h1.06v1.06h-1.06z" fill="#b2dd3d"/>
<path d="M19 32h1.06v1.06h-1.06z" fill="#a6d73e"/>
<path d="M20 32h1.06v1.06h-1.06z" fill="#9bd240"/>
<path d="M21 32h1.06v1.06h-1.06z" fill="#91cd41"/>
<path d="M22 32h1.06v1.06h-1.06z" fill="#87c942"/>
<path d="M23 32h1.06v1.06h-1.06z" fill="#7fc544"/>
<path d="M24 32h1.06v1.06h-1.06z" fill="#77c245"/>
<path d="M25 32h1.06v1.06h-1.06z" fill="#6fbe46"/>
<path d="M26 32h1.06v1.06h-1.06z" fill="#68bb47"/>
<path d="M27 32h1.06v1.06h-1.06z" fill="#61b847"/>
<path d="M28 32h1.06v1.06h-1.06z" fill="#5bb548"/>
<path d="M29 32h1.06v1.06h-1.06z" fill="#56b349"/>
<path d="M30 32h1.06v1.06h-1.06z" fill="#50b04a"/>
<path d="M31 32h1.06v1.06h-1.06z" fill="#4dae4b"/>
<path d="M32 32h1.06v1.06h-1.06z" fill="#4cad4e"/>
<path d="M33 32h1.06v1.06h-1.06z" fill="#4cac51"/>
<path d="M34 32h1.06v1.06h-1.06z" fill="#4bab54"/>
<path d="M35 32h1.06v1.06h-1.06z" fill="#4baa56"/>
<path d="M36 32h1.06v1.06h-1.06z" fill="#4aa958"/>
<path d="M37 32h1.06v1.06h-1.06z" fill="#4aa85b"/>
<path d="M38 32h1.3v1.06h-1.3z" fill="#49a75d"/>
<path d="M-.3 33h5.36v1.06h-5.36z" fill="#e41a1c"/>
<path d="M5 33h1.06v1.06h-1.06z" fill="#e51e1b"/>
<path d="M6 33h1.06v1.06h-1.06z" fill="#ec3714"/>
<path d="M7 33h1.06v1.06h-1.06z" fill="#f65d0a"/>
<path d="M8 33h1.06v1.06h-1.06z" fill="#fe7b01"/>
<path d="M9 33h1.06v1.06h-1.06z" fill="#ff9a0b"/>
<path d="M10 33h1.06v1.06h-1.06z" fill="#ffb515"/>
<path d="M11 33h1.06v1.06h-1.06z" fill="#ffcc1f"/>
<path d="M12 33h1.06v1.06h-1.06z" fill="#ffe026"/>
<path d="M13 33h1.06v1.06h-1.06z" fill="#fff12d"/>
<path d="M14 33h1.06v1.06h-1.06z" fill="#fdfe33"/>
<path d="M15 33h1.06v1.06h-1.06z" fill="#eaf636"/>
<path d="M16 33h1.06v1.06h-1.06z" fill="#d9ee38"/>
<path d="M17 33h1.06v1.06h-1.06z" fill="#cae73a"/>
<path d="M18 33h1.06v1.06h-1.06z" fill="#bce13c"/>
<path d="M19 33h1.06v1.06h-1.06z" fill="#afdb3d"/>
<path d="M20 33h1.06v1.06h-1.06z" fill="#a4d63f"/>
<path d="M21 33h1.06v1.06h-1.06z" fill="#99d140"/>
<path d="M22 33h1.06v1.06h-1.06z" fill="#8fcd41"/>
<path d="M23 33h1.06v1.06h-1.06z" fill="#86c943"/>
<path d="M24 33h1.06v1.06h-1.06z" fill="#7ec544"/>
<path d="M25 33h1.06v1.06h-1.06z" fill="#76c245"/>
<path d="M26 33h1.06v1.06h-1.06z" fill="#6fbe46"/>
<path d="M27 33h1.06v1.06h-1.06z" fill="#68bb46"/>
<path d="M28 33h1.06v1.06h-1.06z" fill="#62b847"/>
<path d="M29 33h1.06v1.06h-1.06z" fill="#5cb648"/>
<path d="M30 33h1.06v1.06h-1.06z" fill="#56b349"/>
<path d="M31 33h1.06v1.06h-1.06z" fill="#51b149"/>
<path d="M32 33h1.06v1.06h-1.06z" fill="#4daf4b"/>
<path d="M33 33h1.06v1.06h-1.06z" fill="#4cad4d"/>
<path d="M34 33h1.06v1.06h-1.06z" fill="#4cac50"/>
<path d="M35 33h1.06v1.06h-1.06z" fill="#4bab53"/>
<path d="M36 33h1.06v1.06h-1.06z" fill="#4baa55"/>
<path d="M37 33h1.06v1.06h-1.06z" fill="#4aa958"/>
<path d="M38 33h1.3v1.06h-1.3z" fill="#4aa85a"/>
<path d="M-.3 34h6.36v1.06h-6.36z" fill="#e41a1c"/>
<path d="M6 34h1.06v1.06h-1.06z" fill="#e92e17"/>
<path d="M7 34h1.06v1.06h-1.06z" fill="#f3510d"/>
<path d="M8 34h1.06v1.06h-1.06z" fill="#fb7104"/>
<path d="M9 34h1.06v1.06h-1.06z" fill="#ff8e06"/>
<path d="M10 34h1.06v1.06h-1.06z" fill="#fa1"/>
<path d="M11 34h1.06v1.06h-1.06z" fill="#ffc11a"/>
<path d="M12 34h1.06v1.06h-1.06z" fill="#ffd623"/>
<path d="M13 34h1.06v1.06h-1.06z" fill="#ffe82a"/>
<path d="M14 34h1.06v1.06h-1.06z" fill="#fff830"/>
<path d="M15 34h1.06v1.06h-1.06z" fill="#f5fb34"/>
<path d="M16 34h1.06v1.06h-1.06z" fill="#e4f337"/>
<path d="M17 34h1.06v1.06h-1.06z" fill="#d4ec39"/>
<path d="M18 34h1.06v1.06h-1.06z" fill="#c5e53a"/>
<path d="M19 34h1.06v1.06h-1.06z" fill="#b8df3c"/>
<path d="M20 34h1.06v1.06h-1.06z" fill="#acda3e"/>
<path d="M21 34h1.06v1.06h-1.06z" fill="#a1d53f"/>
<path d="M22 34h1.06v1.06h-1.06z" fill="#97d040"/>
<path d="M23 34h1.06v1.06h-1.06z" fill="#8ecc42"/>
<path d="M24 34h1.06v1.06h-1.06z" fill="#85c843"/>
<path d="M25 34h1.06v1.06h-1.06z" fill="#7dc544"/>
<path d="M26 34h1.06v1.06h-1.06z" fill="#76c145"/>
<path d="M27 34h1.06v1.06h-1.06z" fill="#6fbe46"/>
<path d="M28 34h1.06v1.06h-1.06z" fill="#69bb46"/>
<path d="M29 34h1.06v1.06h-1.06z" fill="#62b947"/>
<path d="M30 34h1.06v1.06h-1.06z" fill="#5db648"/>
<path d="M31 34h1.06v1.06h-1.06z" fill="#57b449"/>
<path d="M32 34h1.06v1.06h-1.06z" fill="#52b149"/>
<path d="M33 34h1.06v1.06h-1.06z" fill="#4daf4a"/>
<path d="M34 34h1.06v1.06h-1.06z" fill="#4cae4d"/>
<path d="M35 34h1.06v1.06h-1.06z" fill="#4cad4f"/>
<path d="M36 34h1.06v1.06h-1.06z" fill="#4bab52"/>
<path d="M37 34h1.06v1.06h-1.06z" fill="#4baa54"/>
<path d="M38 34h1.3v1.06h-1.3z" fill="#4aa957"/>
<path d="M-.3 35h6.36v1.06h-6.36z" fill="#e41a1c"/>
<path d="M6 35h1.06v1.06h-1.06z" fill="#e72718"/>
<path d="M7 35h1.06v1.06h-1.06z" fill="#f04510"/>
<path d="M8 35h1.06v1.06h-1.06z" fill="#f86607"/>
<path d="M9 35h1.06v1.06h-1.06z" fill="#ff8101"/>
<path d="M10 35h1.06v1.06h-1.06z" fill="#ff9e0c"/>
<path d="M11 35h1.06v1.06h-1.06z" fill="#ffb616"/>
<path d="M12 35h1.06v1.06h-1.06z" fill="#ffcc1f"/>
<path d="M13 35h1.06v1.06h-1.06z" fill="#ffde26"/>
<path d="M14 35h1.06v1.06h-1.06z" fill="#ffef2d"/>
<path d="M15 35h1.06v1.06h-1.06z" fill="#fffd32"/>
<path d="M16 35h1.06v1.06h-1.06z" fill="#eff835"/>
<path d="M17 35h1.06v1.06h-1.06z" fill="#dff037"/>
<path d="M18 35h1.06v1.06h-1.06z" fill="#d0ea39"/>
<path d="M19 35h1.06v1.06h-1.06z" fill="#c2e43b"/>
<path d="M20 35h1.06v1.06h-1.06z" fill="#b6de3c"/>
<path d="M21 35h1.06v1.06h-1.06z" fill="#abd93e"/>
<path d="M22 35h1.06v1.06h-1.06z" fill="#a0d43f"/>
<path d="M23 35h1.06v1.06h-1.06z" fill="#97d040"/>
<path d="M24 35h1.06v1.06h-1.06z" fill="#8ecc42"/>
<path d="M25 35h1.06v1.06h-1.06z" fill="#85c843"/>
<path d="M26 35h1.06v1.06h-1.06z" fill="#7ec544"/>
<path d="M27 35h1.06v1.06h-1.06z" fill="#76c245"/>
<path d="M28 35h1.06v1.06h-1.06z" fill="#70bf46"/>
<path d="M29 35h1.06v1.06h-1.06z" fill="#69bc46"/>
<path d="M30 35h1.06v1.06h-1.06z" fill="#63b947"/>
<path d="M31 35h1.06v1.06h-1.06z" fill="#5eb748"/>
<path d="M32 35h1.06v1.06h-1.06z" fill="#58b449"/>
<path d="M33 35h1.06v1.06h-1.06z" fill="#53b249"/>
<path d="M34 35h1.06v1.06h-1.06z" fill="#4fb04a"/>
<path d="M35 35h1.06v1.06h-1.06z" fill="#4dae4c"/>
<path d="M36 35h1.06v1.06h-1.06z" fill="#4cad4e"/>
<path d="M37 35h1.06v1.06h-1.06z" fill="#4cac51"/>
<path d="M38 35h1.3v1.06h-1.3z" fill="#4bab53"/>
<path d="M-.3 36h6.36v1.06h-6.36z" fill="#e41a1c"/>
<path d="M6 36h1.06v1.06h-1.06z" fill="#e51f1b"/>
<path d="M7 36h1.06v1.06h-1.06z" fill="#eb3614"/>
<path d="M8 36h1.06v1.06h-1.06z" fill="#f4570b"/>
<path d="M9 36h1.06v1.06h-1.06z" fill="#fc7303"/>
<path d="M10 36h1.06v1.06h-1.06z" fill="#ff8e06"/>
<path d="M11 36h1.06v1.06h-1.06z" fill="#ffa810"/>
<path d="M12 36h1.06v1.06h-1.06z" fill="#ffbe19"/>
<path d="M13 36h1.06v1.06h-1.06z" fill="#ffd221"/>
<path d="M14 36h1.06v1.06h-1.06z" fill="#ffe328"/>
<path d="M15 36h1.06v1.06h-1.06z" fill="#fff22e"/>
<path d="M16 36h1.06v1.06h-1.06z" fill="#fefe33"/>
<path d="M17 36h1.06v1.06h-1.06z" fill="#edf735"/>
<path d="M18 36h1.06v1.06h-1.06z" fill="#ddf037"/>
<path d="M19 36h1.06v1.06h-1.06z" fill="#cfe939"/>
<path d="M20 36h1.06v1.06h-1.06z" fill="#c2e43b"/>
<path d="M21 36h1.06v1.06h-1.06z" fill="#b6de3c"/>
<path d="M22 36h1.06v1.06h-1.06z" fill="#acda3e"/>
<path d="M23 36h1.06v1.06h-1.06z" fill="#a2d53f"/>
<path d="M24 36h1.06v1.06h-1.06z" fill="#98d140"/>
<path d="M25 36h1.06v1.06h-1.06z" fill="#90cd41"/>
<path d="M26 36h1.06v1.06h-1.06z" fill="#87c942"/>
<path d="M27 36h1.06v1.06h-1.06z" fill="#80c643"/>
<path d="M28 36h1.06v1.06h-1.06z" fill="#79c344"/>
<path d="M29 36h1.06v1.06h-1.06z" fill="#72c045"/>
<path d="M30 36h1.06v1.06h-1.06z" fill="#6cbd46"/>
<path d="M31 36h1.06v1.06h-1.06z" fill="#66ba47"/>
<path d="M32 36h1.06v1.06h-1.06z" fill="#61b847"/>
<path d="M33 36h1.06v1.06h-1.06z" fill="#5bb548"/>
<path d="M34 36h1.06v1.06h-1.06z" fill="#56b349"/>
<path d="M35 36h1.06v1.06h-1.06z" fill="#52b149"/>
<path d="M36 36h1.06v1.06h-1.06z" fill="#4daf4a"/>
<path d="M37 36h1.06v1.06h-1.06z" fill="#4dae4c"/>
<path d="M38 36h1.3v1.06h-1.3z" fill="#4cad4f"/>
<path d="M-.3 37h7.36v1.06h-7.36z" fill="#e41a1c"/>
<path d="M7 37h1.06v1.06h-1.06z" fill="#e82818"/>
<path d="M8 37h1.06v1.06h-1.06z" fill="#f04610"/>
<path d="M9 37h1.06v1.06h-1.06z" fill="#f86408"/>
<path d="M10 37h1.06v1.06h-1.06z" fill="#fe7d01"/>
<path d="M11 37h1.06v1.06h-1.06z" fill="#ff970a"/>
<path d="M12 37h1.06v1.06h-1.06z" fill="#ffae13"/>
<path d="M13 37h1.06v1.06h-1.06z" fill="#ffc31b"/>
<path d="M14 37h1.06v1.06h-1.06z" fill="#ffd522"/>
<path d="M15 37h1.06v1.06h-1.06z" fill="#ffe529"/>
<path d="M16 37h1.06v1.06h-1.06z" fill="#fff32e"/>
<path d="M17 37h1.06v1.06h-1.06z" fill="#fdfe33"/>
<path d="M18 37h1.06v1.06h-1.06z" fill="#edf735"/>
<path d="M19 37h1.06v1.06h-1.06z" fill="#def037"/>
<path d="M20 37h1.06v1.06h-1.06z" fill="#d1ea39"/>
<path d="M21 37h1.06v1.06h-1.06z" fill="#c5e53b"/>
<path d="M22 37h1.06v1.06h-1.06z" fill="#b9e03c"/>
<path d="M23 37h1.06v1.06h-1.06z" fill="#afdb3d"/>
<path d="M24 37h1.06v1.06h-1.06z" fill="#a5d63f"/>
<path d="M25 37h1.06v1.06h-1.06z" fill="#9cd240"/>
<path d="M26 37h1.06v1.06h-1.06z" fill="#93cf41"/>
<path d="M27 37h1.06v1.06h-1.06z" fill="#8bcb42"/>
<path d="M28 37h1.06v1.06h-1.06z" fill="#84c843"/>
<path d="M29 37h1.06v1.06h-1.06z" fill="#7dc544"/>
<path d="M30 37h1.06v1.06h-1.06z" fill="#76c245"/>
<path d="M31 37h1.06v1.06h-1.06z" fill="#70bf45"/>
<path d="M32 37h1.06v1.06h-1.06z" fill="#6abc46"/>
<path d="M33 37h1.06v1.06h-1.06z" fill="#65ba47"/>
<path d="M34 37h1.06v1.06h-1.06z" fill="#60b748"/>
<path d="M35 37h1.06v1.06h-1.06z" fill="#5bb548"/>
<path d="M36 37h1.06v1.06h-1.06z" fill="#56b349"/>
<path d="M37 37h1.06v1.06h-1.06z" fill="#52b149"/>
<path d="M38 37h1.3v1.06h-1.3z" fill="#4daf4a"/>
<path d="M-.3 38h7.36v1.3h-7.36z" fill="#e41a1c"/>
<path d="M7 38h1.06v1.3h-1.06z" fill="#e51f1b"/>
<path d="M8 38h1.06v1.3h-1.06z" fill="#eb3415"/>
<path d="M9 38h1.06v1.3h-1.06z" fill="#f3530c"/>
<path d="M10 38h1.06v1.3h-1.06z" fill="#fa6d05"/>
<path d="M11 38h1.06v1.3h-1.06z" fill="#ff8502"/>
<path d="M12 38h1.06v1.3h-1.06z" fill="#ff9e0c"/>
<path d="M13 38h1.06v1.3h-1.06z" fill="#ffb315"/>
<path d="M14 38h1.06v1.3h-1.06z" fill="#ffc61c"/>
<path d="M15 38h1.06v1.3h-1.06z" fill="#ffd723"/>
<path d="M16 38h1.06v1.3h-1.06z" fill="#ffe629"/>
<path d="M17 38h1.06v1.3h-1.06z" fill="#fff32e"/>
<path d="M18 38h1.06v1.3h-1.06z" fill="#feff33"/>
<path d="M19 38h1.06v1.3h-1.06z" fill="#eff835"/>
<path d="M20 38h1.06v1.3h-1.06z" fill="#e0f137"/>
<path d="M21 38h1.06v1.3h-1.06z" fill="#d3eb39"/>
<path d="M22 38h1.06v1.3h-1.06z" fill="#c7e63a"/>
<path d="M23 38h1.06v1.3h-1.06z" fill="#bce13c"/>
<path d="M24 38h1.06v1.3h-1.06z" fill="#b2dc3d"/>
<path d="M25 38h1.06v1.3h-1.06z" fill="#a9d83e"/>
<path d="M26 38h1.06v1.3h-1.06z" fill="#a0d43f"/>
<path d="M27 38h1.06v1.3h-1.06z" fill="#97d040"/>
<path d="M28 38h1.06v1.3h-1.06z" fill="#90cd41"/>
<path d="M29 38h1.06v1.3h-1.06z" fill="#88ca42"/>
<path d="M30 38h1.06v1.3h-1.06z" fill="#81c743"/>
<path d="M31 38h1.06v1.3h-1.06z" fill="#7bc444"/>
<path d="M32 38h1.06v1.3h-1.06z" fill="#75c145"/>
<path d="M33 38h1.06v1.3h-1.06z" fill="#6fbe46"/>
<path d="M34 38h1.06v1.3h-1.06z" fill="#6abc46"/>
<path d="M35 38h1.06v1.3h-1.06z" fill="#64ba47"/>
<path d="M36 38h1.06v1.3h-1.06z" fill="#60b748"/>
<path d="M37 38h1.06v1.3h-1.06z" fill="#5bb548"/>
<path d="M38 38h1.3v1.3h-1.3z" fill="#56b349"/>
</g></g>
<path d="M134.1 13.45H169.52V585.68H745.45V624.55H134.1z" fill="#fff"/>
<path d="M200.63 618.55v-15.2M261.17 618.55v-15.2M321.71 618.55v-15.2M382.24 618.55v-15.2M442.77 618.55v-15.2M503.31 618.55v-15.2M563.85 618.55v-15.2M624.38 618.55v-15.2M684.92 618.55v-15.2M170.37 618.55v-10.3M230.9 618.55v-10.3M291.44 618.55v-10.3M351.97 618.55v-10.3M412.51 618.55v-10.3M473.04 618.55v-10.3M533.58 618.55v-10.3M594.11 618.55v-10.3M654.65 618.55v-10.3M715.18 618.55v-10.3M140.1 551.32h15.2M140.1 484.08h15.2M140.1 416.85h15.2M140.1 349.62h15.2M140.1 282.38h15.2M140.1 215.15h15.2M140.1 147.92h15.2M140.1 80.68h15.2M140.1 584.93h10.3M140.1 517.7h10.3M140.1 450.47h10.3M140.1 383.23h10.3M140.1 316h10.3M140.1 248.77h10.3M140.1 181.53h10.3M140.1 114.3h10.3M140.1 47.07h10.3" stroke="#000" stroke-width="2.9" fill="none"/>
<rect x="140.1" y="13.45" width="605.35" height="605.1" fill="none" stroke="#000" stroke-width="2.9"/>
<g font-size="39.5">
<text transform="translate(140.1,659.65) scale(0.919,1)" text-anchor="middle">0</text>
<text transform="translate(200.63,659.65) scale(0.919,1)" text-anchor="middle">1</text>
<text transform="translate(261.17,659.65) scale(0.919,1)" text-anchor="middle">2</text>
<text transform="translate(321.71,659.65) scale(0.919,1)" text-anchor="middle">3</text>
<text transform="translate(382.24,659.65) scale(0.919,1)" text-anchor="middle">4</text>
<text transform="translate(442.77,659.65) scale(0.919,1)" text-anchor="middle">5</text>
<text transform="translate(503.31,659.65) scale(0.919,1)" text-anchor="middle">6</text>
<text transform="translate(563.85,659.65) scale(0.919,1)" text-anchor="middle">7</text>
<text transform="translate(624.38,659.65) scale(0.919,1)" text-anchor="middle">8</text>
<text transform="translate(684.92,659.65) scale(0.919,1)" text-anchor="middle">9</text>
<text transform="translate(745.45,659.65) scale(0.892,1)" text-anchor="middle">10</text>
<text transform="translate(125.6,632.35) scale(0.919,1)" text-anchor="end">0</text>
<text transform="translate(125.6,565.12) scale(0.892,1)" text-anchor="end">10</text>
<text transform="translate(125.6,497.88) scale(0.892,1)" text-anchor="end">20</text>
<text transform="translate(125.6,430.65) scale(0.892,1)" text-anchor="end">30</text>
<text transform="translate(125.6,363.42) scale(0.892,1)" text-anchor="end">40</text>
<text transform="translate(125.6,296.18) scale(0.892,1)" text-anchor="end">50</text>
<text transform="translate(125.6,228.95) scale(0.892,1)" text-anchor="end">60</text>
<text transform="translate(125.6,161.72) scale(0.892,1)" text-anchor="end">70</text>
<text transform="translate(125.6,94.48) scale(0.892,1)" text-anchor="end">80</text>
<text transform="translate(125.6,27.25) scale(0.892,1)" text-anchor="end">90</text>
</g>
<g>
<text transform="translate(177.24,63.23) scale(0.930,1)" font-size="42.25" font-weight="bold">(</text>
<text transform="translate(192.56,62.2) scale(0.917,1)" font-size="34" font-weight="bold">a</text>
<text transform="translate(215.1,63.23) scale(0.930,1)" font-size="42.25" font-weight="bold">)</text>
<text transform="translate(242.59,62.2) scale(0.870,1)" font-size="37.5">5</text>
<text transform="translate(268.49,62.2) scale(1.052,1)" font-size="35.2">bar,</text>
<text transform="translate(343.3,62.2) scale(0.924,1)" font-size="37.5">32</text>
<text transform="translate(389.3,62.2) scale(1.086,1)" font-size="35.2">wt.%,</text>
<text transform="translate(495.71,62.2) scale(0.928,1)" font-size="37.5">0.35</text>
<text transform="translate(570.72,62.2) scale(0.968,1)" font-size="38.5">L</text>
<text transform="translate(598.29,62.2) scale(1.056,1)" font-size="35.2">min</text>
<text transform="translate(659.6,48) scale(1.488,1)" font-size="25.5">−</text>
<text transform="translate(683.3,46.8) scale(0.889,1)" font-size="25.5">1</text>
<text transform="translate(697.84,62.2) scale(1.282,1)" font-size="35.2">,</text>
<text transform="translate(395.01,109.5) scale(1.007,1)" font-size="35.2">mixed</text>
<text transform="translate(224.92,721.3) scale(1.039,1)" font-size="38">current</text>
<text transform="translate(362.69,721.3) scale(0.996,1)" font-size="38">density</text>
<text transform="translate(498.6,731.26) scale(0.946,1)" font-size="64.03" class="s">/</text>
<text transform="translate(531.84,721.3) scale(0.960,1)" font-size="41">kA</text>
<text transform="translate(586.09,721.3) scale(1.019,1)" font-size="38">m</text>
<text transform="translate(619.81,707.3) scale(1.372,1)" font-size="27.5">−</text>
<text transform="translate(642.18,705.9) scale(1.031,1)" font-size="27.5">2</text>
<text transform="translate(47.9,468.09) rotate(-90) scale(1.035,1)" font-size="38">temperature</text>
<text transform="translate(57.86,240.9) rotate(-90) scale(0.951,1)" font-size="64.03" class="s">/</text>
<text transform="translate(49.31,209.09) rotate(-90) scale(0.950,1)" font-size="43.6">°</text>
<text transform="translate(47.9,190.59) rotate(-90) scale(0.835,1)" font-size="43">C</text>
</g>
</g>
<g id="panel-b">
<clipPath id="clb"><rect x="972.32" y="13.45" width="580.08" height="576.23"/></clipPath>
<g clip-path="url(#clb)"><g transform="translate(976.32,14.2) scale(14.7494,14.6534)">
<path d="M-.3 -.3h1.36v1.36h-1.36z" fill="#449c75"/>
<path d="M1 -.3h1.06v1.36h-1.06z" fill="#409389"/>
<path d="M2 -.3h1.06v1.36h-1.06z" fill="#3e8e93"/>
<path d="M3 -.3h1.06v1.36h-1.06z" fill="#3d8b9a"/>
<path d="M4 -.3h1.06v1.36h-1.06z" fill="#3c899f"/>
<path d="M5 -.3h1.06v1.36h-1.06z" fill="#3b88a2"/>
<path d="M6 -.3h1.06v1.36h-1.06z" fill="#3b87a5"/>
<path d="M7 -.3h1.06v1.36h-1.06z" fill="#3a86a7"/>
<path d="M8 -.3h1.06v1.36h-1.06z" fill="#3a85a8"/>
<path d="M9 -.3h1.06v1.36h-1.06z" fill="#3a84aa"/>
<path d="M10 -.3h1.06v1.36h-1.06z" fill="#3a84ab"/>
<path d="M11 -.3h1.06v1.36h-1.06z" fill="#3983ac"/>
<path d="M12 -.3h2.06v1.36h-2.06z" fill="#3983ad"/>
<path d="M14 -.3h1.06v1.36h-1.06z" fill="#3982ae"/>
<path d="M15 -.3h2.06v1.36h-2.06z" fill="#3982af"/>
<path d="M17 -.3h2.06v1.36h-2.06z" fill="#3982b0"/>
<path d="M19 -.3h1.06v1.36h-1.06z" fill="#3981b0"/>
<path d="M20 -.3h3.06v1.36h-3.06z" fill="#3881b1"/>
<path d="M23 -.3h4.06v1.36h-4.06z" fill="#3881b2"/>
<path d="M27 -.3h1.06v1.36h-1.06z" fill="#3880b2"/>
<path d="M28 -.3h7.06v1.36h-7.06z" fill="#3880b3"/>
<path d="M35 -.3h4.3v1.36h-4.3z" fill="#3880b4"/>
<path d="M-.3 1h1.36v1.06h-1.36z" fill="#449b77"/>
<path d="M1 1h1.06v1.06h-1.06z" fill="#40928a"/>
<path d="M2 1h1.06v1.06h-1.06z" fill="#3e8e94"/>
<path d="M3 1h1.06v1.06h-1.06z" fill="#3d8b9b"/>
<path d="M4 1h1.06v1.06h-1.06z" fill="#3c899f"/>
<path d="M5 1h1.06v1.06h-1.06z" fill="#3b87a3"/>
<path d="M6 1h1.06v1.06h-1.06z" fill="#3b86a5"/>
<path d="M7 1h1.06v1.06h-1.06z" fill="#3a85a7"/>
<path d="M8 1h1.06v1.06h-1.06z" fill="#3a85a9"/>
<path d="M9 1h1.06v1.06h-1.06z" fill="#3a84aa"/>
<path d="M10 1h1.06v1.06h-1.06z" fill="#3a84ab"/>
<path d="M11 1h1.06v1.06h-1.06z" fill="#3983ac"/>
<path d="M12 1h1.06v1.06h-1.06z" fill="#3983ad"/>
<path d="M13 1h1.06v1.06h-1.06z" fill="#3983ae"/>
<path d="M14 1h1.06v1.06h-1.06z" fill="#3982ae"/>
<path d="M15 1h2.06v1.06h-2.06z" fill="#3982af"/>
<path d="M17 1h1.06v1.06h-1.06z" fill="#3982b0"/>
<path d="M18 1h1.06v1.06h-1.06z" fill="#3981b0"/>
<path d="M19 1h4.06v1.06h-4.06z" fill="#3881b1"/>
<path d="M23 1h4.06v1.06h-4.06z" fill="#3881b2"/>
<path d="M27 1h7.06v1.06h-7.06z" fill="#3880b3"/>
<path d="M34 1h5.3v1.06h-5.3z" fill="#3880b4"/>
<path d="M-.3 2h1.36v1.06h-1.36z" fill="#449a79"/>
<path d="M1 2h1.06v1.06h-1.06z" fill="#40928b"/>
<path d="M2 2h1.06v1.06h-1.06z" fill="#3e8d95"/>
<path d="M3 2h1.06v1.06h-1.06z" fill="#3d8b9c"/>
<path d="M4 2h1.06v1.06h-1.06z" fill="#3c89a0"/>
<path d="M5 2h1.06v1.06h-1.06z" fill="#3b87a3"/>
<path d="M6 2h1.06v1.06h-1.06z" fill="#3b86a6"/>
<path d="M7 2h1.06v1.06h-1.06z" fill="#3a85a8"/>
<path d="M8 2h1.06v1.06h-1.06z" fill="#3a85a9"/>
<path d="M9 2h1.06v1.06h-1.06z" fill="#3a84ab"/>
<path d="M10 2h1.06v1.06h-1.06z" fill="#3984ac"/>
<path d="M11 2h2.06v1.06h-2.06z" fill="#3983ad"/>
<path d="M13 2h1.06v1.06h-1.06z" fill="#3982ae"/>
<path d="M14 2h2.06v1.06h-2.06z" fill="#3982af"/>
<path d="M16 2h2.06v1.06h-2.06z" fill="#3982b0"/>
<path d="M18 2h1.06v1.06h-1.06z" fill="#3981b0"/>
<path d="M19 2h3.06v1.06h-3.06z" fill="#3881b1"/>
<path d="M22 2h4.06v1.06h-4.06z" fill="#3881b2"/>
<path d="M26 2h7.06v1.06h-7.06z" fill="#3880b3"/>
<path d="M33 2h6.3v1.06h-6.3z" fill="#3880b4"/>
<path d="M-.3 3h1.36v1.06h-1.36z" fill="#43997a"/>
<path d="M1 3h1.06v1.06h-1.06z" fill="#40918d"/>
<path d="M2 3h1.06v1.06h-1.06z" fill="#3e8d96"/>
<path d="M3 3h1.06v1.06h-1.06z" fill="#3c8a9d"/>
<path d="M4 3h1.06v1.06h-1.06z" fill="#3c88a1"/>
<path d="M5 3h1.06v1.06h-1.06z" fill="#3b87a4"/>
<path d="M6 3h1.06v1.06h-1.06z" fill="#3b86a6"/>
<path d="M7 3h1.06v1.06h-1.06z" fill="#3a85a8"/>
<path d="M8 3h1.06v1.06h-1.06z" fill="#3a84aa"/>
<path d="M9 3h1.06v1.06h-1.06z" fill="#3a84ab"/>
<path d="M10 3h1.06v1.06h-1.06z" fill="#3983ac"/>
<path d="M11 3h1.06v1.06h-1.06z" fill="#3983ad"/>
<path d="M12 3h1.06v1.06h-1.06z" fill="#3983ae"/>
<path d="M13 3h1.06v1.06h-1.06z" fill="#3982ae"/>
<path d="M14 3h2.06v1.06h-2.06z" fill="#3982af"/>
<path d="M16 3h1.06v1.06h-1.06z" fill="#3982b0"/>
<path d="M17 3h1.06v1.06h-1.06z" fill="#3981b0"/>
<path d="M18 3h3.06v1.06h-3.06z" fill="#3881b1"/>
<path d="M21 3h4.06v1.06h-4.06z" fill="#3881b2"/>
<path d="M25 3h7.06v1.06h-7.06z" fill="#3880b3"/>
<path d="M32 3h7.3v1.06h-7.3z" fill="#3880b4"/>
<path d="M-.3 4h1.36v1.06h-1.36z" fill="#43997c"/>
<path d="M1 4h1.06v1.06h-1.06z" fill="#3f918e"/>
<path d="M2 4h1.06v1.06h-1.06z" fill="#3e8d97"/>
<path d="M3 4h1.06v1.06h-1.06z" fill="#3c8a9d"/>
<path d="M4 4h1.06v1.06h-1.06z" fill="#3c88a1"/>
<path d="M5 4h1.06v1.06h-1.06z" fill="#3b87a4"/>
<path d="M6 4h1.06v1.06h-1.06z" fill="#3a86a7"/>
<path d="M7 4h1.06v1.06h-1.06z" fill="#3a85a9"/>
<path d="M8 4h1.06v1.06h-1.06z" fill="#3a84aa"/>
<path d="M9 4h1.06v1.06h-1.06z" fill="#3a84ab"/>
<path d="M10 4h1.06v1.06h-1.06z" fill="#3983ac"/>
<path d="M11 4h1.06v1.06h-1.06z" fill="#3983ad"/>
<path d="M12 4h1.06v1.06h-1.06z" fill="#3982ae"/>
<path d="M13 4h2.06v1.06h-2.06z" fill="#3982af"/>
<path d="M15 4h2.06v1.06h-2.06z" fill="#3982b0"/>
<path d="M17 4h1.06v1.06h-1.06z" fill="#3981b0"/>
<path d="M18 4h3.06v1.06h-3.06z" fill="#3881b1"/>
<path d="M21 4h3.06v1.06h-3.06z" fill="#3881b2"/>
<path d="M24 4h1.06v1.06h-1.06z" fill="#3880b2"/>
<path d="M25 4h6.06v1.06h-6.06z" fill="#3880b3"/>
<path d="M31 4h8.3v1.06h-8.3z" fill="#3880b4"/>
<path d="M-.3 5h1.36v1.06h-1.36z" fill="#43987e"/>
<path d="M1 5h1.06v1.06h-1.06z" fill="#3f908f"/>
<path d="M2 5h1.06v1.06h-1.06z" fill="#3d8c98"/>
<path d="M3 5h1.06v1.06h-1.06z" fill="#3c8a9e"/>
<path d="M4 5h1.06v1.06h-1.06z" fill="#3b88a2"/>
<path d="M5 5h1.06v1.06h-1.06z" fill="#3b86a5"/>
<path d="M6 5h1.06v1.06h-1.06z" fill="#3a85a7"/>
<path d="M7 5h1.06v1.06h-1.06z" fill="#3a85a9"/>
<path d="M8 5h1.06v1.06h-1.06z" fill="#3a84aa"/>
<path d="M9 5h1.06v1.06h-1.06z" fill="#3984ac"/>
<path d="M10 5h2.06v1.06h-2.06z" fill="#3983ad"/>
<path d="M12 5h1.06v1.06h-1.06z" fill="#3982ae"/>
<path d="M13 5h2.06v1.06h-2.06z" fill="#3982af"/>
<path d="M15 5h1.06v1.06h-1.06z" fill="#3982b0"/>
<path d="M16 5h1.06v1.06h-1.06z" fill="#3981b0"/>
<path d="M17 5h3.06v1.06h-3.06z" fill="#3881b1"/>
<path d="M20 5h3.06v1.06h-3.06z" fill="#3881b2"/>
<path d="M23 5h1.06v1.06h-1.06z" fill="#3880b2"/>
<path d="M24 5h6.06v1.06h-6.06z" fill="#3880b3"/>
<path d="M30 5h9.3v1.06h-9.3z" fill="#3880b4"/>
<path d="M-.3 6h1.36v1.06h-1.36z" fill="#429780"/>
<path d="M1 6h1.06v1.06h-1.06z" fill="#3f9090"/>
<path d="M2 6h1.06v1.06h-1.06z" fill="#3d8c99"/>
<path d="M3 6h1.06v1.06h-1.06z" fill="#3c899f"/>
<path d="M4 6h1.06v1.06h-1.06z" fill="#3b87a3"/>
<path d="M5 6h1.06v1.06h-1.06z" fill="#3b86a6"/>
<path d="M6 6h1.06v1.06h-1.06z" fill="#3a85a8"/>
<path d="M7 6h1.06v1.06h-1.06z" fill="#3a84a9"/>
<path d="M8 6h1.06v1.06h-1.06z" fill="#3a84ab"/>
<path d="M9 6h1.06v1.06h-1.06z" fill="#3983ac"/>
<path d="M10 6h1.06v1.06h-1.06z" fill="#3983ad"/>
<path d="M11 6h1.06v1.06h-1.06z" fill="#3983ae"/>
<path d="M12 6h1.06v1.06h-1.06z" fill="#3982ae"/>
<path d="M13 6h1.06v1.06h-1.06z" fill="#3982af"/>
<path d="M14 6h2.06v1.06h-2.06z" fill="#3982b0"/>
<path d="M16 6h3.06v1.06h-3.06z" fill="#3881b1"/>
<path d="M19 6h4.06v1.06h-4.06z" fill="#3881b2"/>
<path d="M23 6h6.06v1.06h-6.06z" fill="#3880b3"/>
<path d="M29 6h8.06v1.06h-8.06z" fill="#3880b4"/>
<path d="M37 6h2.3v1.06h-2.3z" fill="#3880b5"/>
<path d="M-.3 7h1.36v1.06h-1.36z" fill="#429681"/>
<path d="M1 7h1.06v1.06h-1.06z" fill="#3f8f91"/>
<path d="M2 7h1.06v1.06h-1.06z" fill="#3d8b9a"/>
<path d="M3 7h1.06v1.06h-1.06z" fill="#3c89a0"/>
<path d="M4 7h1.06v1.06h-1.06z" fill="#3b87a3"/>
<path d="M5 7h1.06v1.06h-1.06z" fill="#3b86a6"/>
<path d="M6 7h1.06v1.06h-1.06z" fill="#3a85a8"/>
<path d="M7 7h1.06v1.06h-1.06z" fill="#3a84aa"/>
<path d="M8 7h1.06v1.06h-1.06z" fill="#3a84ab"/>
<path d="M9 7h1.06v1.06h-1.06z" fill="#3983ac"/>
<path d="M10 7h1.06v1.06h-1.06z" fill="#3983ad"/>
<path d="M11 7h1.06v1.06h-1.06z" fill="#3982ae"/>
<path d="M12 7h2.06v1.06h-2.06z" fill="#3982af"/>
<path d="M14 7h1.06v1.06h-1.06z" fill="#3982b0"/>
<path d="M15 7h1.06v1.06h-1.06z" fill="#3981b0"/>
<path d="M16 7h3.06v1.06h-3.06z" fill="#3881b1"/>
<path d="M19 7h3.06v1.06h-3.06z" fill="#3881b2"/>
<path d="M22 7h6.06v1.06h-6.06z" fill="#3880b3"/>
<path d="M28 7h8.06v1.06h-8.06z" fill="#3880b4"/>
<path d="M36 7h2.06v1.06h-2.06z" fill="#3880b5"/>
<path d="M38 7h1.3v1.06h-1.3z" fill="#387fb5"/>
<path d="M-.3 8h1.36v1.06h-1.36z" fill="#429683"/>
<path d="M1 8h1.06v1.06h-1.06z" fill="#3e8f93"/>
<path d="M2 8h1.06v1.06h-1.06z" fill="#3d8b9b"/>
<path d="M3 8h1.06v1.06h-1.06z" fill="#3c89a0"/>
<path d="M4 8h1.06v1.06h-1.06z" fill="#3b87a4"/>
<path d="M5 8h1.06v1.06h-1.06z" fill="#3a86a7"/>
<path d="M6 8h1.06v1.06h-1.06z" fill="#3a85a9"/>
<path d="M7 8h1.06v1.06h-1.06z" fill="#3a84aa"/>
<path d="M8 8h1.06v1.06h-1.06z" fill="#3984ac"/>
<path d="M9 8h1.06v1.06h-1.06z" fill="#3983ad"/>
<path d="M10 8h1.06v1.06h-1.06z" fill="#3983ae"/>
<path d="M11 8h1.06v1.06h-1.06z" fill="#3982ae"/>
<path d="M12 8h1.06v1.06h-1.06z" fill="#3982af"/>
<path d="M13 8h2.06v1.06h-2.06z" fill="#3982b0"/>
<path d="M15 8h3.06v1.06h-3.06z" fill="#3881b1"/>
<path d="M18 8h3.06v1.06h-3.06z" fill="#3881b2"/>
<path d="M21 8h1.06v1.06h-1.06z" fill="#3880b2"/>
<path d="M22 8h5.06v1.06h-5.06z" fill="#3880b3"/>
<path d="M27 8h8.06v1.06h-8.06z" fill="#3880b4"/>
<path d="M35 8h2.06v1.06h-2.06z" fill="#3880b5"/>
<path d="M37 8h2.3v1.06h-2.3z" fill="#387fb5"/>
<path d="M-.3 9h1.36v1.06h-1.36z" fill="#419584"/>
<path d="M1 9h1.06v1.06h-1.06z" fill="#3e8e94"/>
<path d="M2 9h1.06v1.06h-1.06z" fill="#3d8b9c"/>
<path d="M3 9h1.06v1.06h-1.06z" fill="#3c88a1"/>
<path d="M4 9h1.06v1.06h-1.06z" fill="#3b87a5"/>
<path d="M5 9h1.06v1.06h-1.06z" fill="#3a85a7"/>
<path d="M6 9h1.06v1.06h-1.06z" fill="#3a85a9"/>
<path d="M7 9h1.06v1.06h-1.06z" fill="#3a84ab"/>
<path d="M8 9h1.06v1.06h-1.06z" fill="#3983ac"/>
<path d="M9 9h1.06v1.06h-1.06z" fill="#3983ad"/>
<path d="M10 9h1.06v1.06h-1.06z" fill="#3982ae"/>
<path d="M11 9h2.06v1.06h-2.06z" fill="#3982af"/>
<path d="M13 9h1.06v1.06h-1.06z" fill="#3982b0"/>
<path d="M14 9h1.06v1.06h-1.06z" fill="#3981b0"/>
<path d="M15 9h2.06v1.06h-2.06z" fill="#3881b1"/>
<path d="M17 9h4.06v1.06h-4.06z" fill="#3881b2"/>
<path d="M21 9h5.06v1.06h-5.06z" fill="#3880b3"/>
<path d="M26 9h8.06v1.06h-8.06z" fill="#3880b4"/>
<path d="M34 9h2.06v1.06h-2.06z" fill="#3880b5"/>
<path d="M36 9h3.3v1.06h-3.3z" fill="#387fb5"/>
<path d="M-.3 10h1.36v1.06h-1.36z" fill="#419486"/>
<path d="M1 10h1.06v1.06h-1.06z" fill="#3e8e95"/>
<path d="M2 10h1.06v1.06h-1.06z" fill="#3c8a9d"/>
<path d="M3 10h1.06v1.06h-1.06z" fill="#3b88a2"/>
<path d="M4 10h1.06v1.06h-1.06z" fill="#3b86a5"/>
<path d="M5 10h1.06v1.06h-1.06z" fill="#3a85a8"/>
<path d="M6 10h1.06v1.06h-1.06z" fill="#3a84aa"/>
<path d="M7 10h1.06v1.06h-1.06z" fill="#3a84ab"/>
<path d="M8 10h1.06v1.06h-1.06z" fill="#3983ac"/>
<path d="M9 10h1.06v1.06h-1.06z" fill="#3983ad"/>
<path d="M10 10h1.06v1.06h-1.06z" fill="#3982ae"/>
<path d="M11 10h1.06v1.06h-1.06z" fill="#3982af"/>
<path d="M12 10h2.06v1.06h-2.06z" fill="#3982b0"/>
<path d="M14 10h3.06v1.06h-3.06z" fill="#3881b1"/>
<path d="M17 10h3.06v1.06h-3.06z" fill="#3881b2"/>
<path d="M20 10h5.06v1.06h-5.06z" fill="#3880b3"/>
<path d="M25 10h8.06v1.06h-8.06z" fill="#3880b4"/>
<path d="M33 10h1.06v1.06h-1.06z" fill="#3880b5"/>
<path d="M34 10h5.3v1.06h-5.3z" fill="#387fb5"/>
<path d="M-.3 11h1.36v1.06h-1.36z" fill="#419487"/>
<path d="M1 11h1.06v1.06h-1.06z" fill="#3e8d96"/>
<path d="M2 11h1.06v1.06h-1.06z" fill="#3c8a9d"/>
<path d="M3 11h1.06v1.06h-1.06z" fill="#3b88a2"/>
<path d="M4 11h1.06v1.06h-1.06z" fill="#3b86a6"/>
<path d="M5 11h1.06v1.06h-1.06z" fill="#3a85a8"/>
<path d="M6 11h1.06v1.06h-1.06z" fill="#3a84aa"/>
<path d="M7 11h1.06v1.06h-1.06z" fill="#3a84ab"/>
<path d="M8 11h1.06v1.06h-1.06z" fill="#3983ad"/>
<path d="M9 11h1.06v1.06h-1.06z" fill="#3983ae"/>
<path d="M10 11h1.06v1.06h-1.06z" fill="#3982ae"/>
<path d="M11 11h1.06v1.06h-1.06z" fill="#3982af"/>
<path d="M12 11h1.06v1.06h-1.06z" fill="#3982b0"/>
<path d="M13 11h1.06v1.06h-1.06z" fill="#3981b0"/>
<path d="M14 11h2.06v1.06h-2.06z" fill="#3881b1"/>
<path d="M16 11h3.06v1.06h-3.06z" fill="#3881b2"/>
<path d="M19 11h1.06v1.06h-1.06z" fill="#3880b2"/>
<path d="M20 11h4.06v1.06h-4.06z" fill="#3880b3"/>
<path d="M24 11h8.06v1.06h-8.06z" fill="#3880b4"/>
<path d="M32 11h1.06v1.06h-1.06z" fill="#3880b5"/>
<path d="M33 11h6.3v1.06h-6.3z" fill="#387fb5"/>
<path d="M-.3 12h1.36v1.06h-1.36z" fill="#409389"/>
<path d="M1 12h1.06v1.06h-1.06z" fill="#3e8d97"/>
<path d="M2 12h1.06v1.06h-1.06z" fill="#3c899e"/>
<path d="M3 12h1.06v1.06h-1.06z" fill="#3b87a3"/>
<path d="M4 12h1.06v1.06h-1.06z" fill="#3b86a6"/>
<path d="M5 12h1.06v1.06h-1.06z" fill="#3a85a9"/>
<path d="M6 12h1.06v1.06h-1.06z" fill="#3a84aa"/>
<path d="M7 12h1.06v1.06h-1.06z" fill="#3983ac"/>
<path d="M8 12h1.06v1.06h-1.06z" fill="#3983ad"/>
<path d="M9 12h1.06v1.06h-1.06z" fill="#3982ae"/>
<path d="M10 12h2.06v1.06h-2.06z" fill="#3982af"/>
<path d="M12 12h1.06v1.06h-1.06z" fill="#3982b0"/>
<path d="M13 12h3.06v1.06h-3.06z" fill="#3881b1"/>
<path d="M16 12h3.06v1.06h-3.06z" fill="#3881b2"/>
<path d="M19 12h5.06v1.06h-5.06z" fill="#3880b3"/>
<path d="M24 12h7.06v1.06h-7.06z" fill="#3880b4"/>
<path d="M31 12h1.06v1.06h-1.06z" fill="#3880b5"/>
<path d="M32 12h7.3v1.06h-7.3z" fill="#387fb5"/>
<path d="M-.3 13h1.36v1.06h-1.36z" fill="#40928a"/>
<path d="M1 13h1.06v1.06h-1.06z" fill="#3d8c98"/>
<path d="M2 13h1.06v1.06h-1.06z" fill="#3c899f"/>
<path d="M3 13h1.06v1.06h-1.06z" fill="#3b87a4"/>
<path d="M4 13h1.06v1.06h-1.06z" fill="#3a86a7"/>
<path d="M5 13h1.06v1.06h-1.06z" fill="#3a85a9"/>
<path d="M6 13h1.06v1.06h-1.06z" fill="#3a84ab"/>
<path d="M7 13h1.06v1.06h-1.06z" fill="#3983ac"/>
<path d="M8 13h1.06v1.06h-1.06z" fill="#3983ad"/>
<path d="M9 13h1.06v1.06h-1.06z" fill="#3982ae"/>
<path d="M10 13h1.06v1.06h-1.06z" fill="#3982af"/>
<path d="M11 13h1.06v1.06h-1.06z" fill="#3982b0"/>
<path d="M12 13h1.06v1.06h-1.06z" fill="#3981b0"/>
<path d="M13 13h2.06v1.06h-2.06z" fill="#3881b1"/>
<path d="M15 13h3.06v1.06h-3.06z" fill="#3881b2"/>
<path d="M18 13h5.06v1.06h-5.06z" fill="#3880b3"/>
<path d="M23 13h7.06v1.06h-7.06z" fill="#3880b4"/>
<path d="M30 13h1.06v1.06h-1.06z" fill="#3880b5"/>
<path d="M31 13h8.3v1.06h-8.3z" fill="#387fb5"/>
<path d="M-.3 14h1.36v1.06h-1.36z" fill="#40928b"/>
<path d="M1 14h1.06v1.06h-1.06z" fill="#3d8c99"/>
<path d="M2 14h1.06v1.06h-1.06z" fill="#3c89a0"/>
<path d="M3 14h1.06v1.06h-1.06z" fill="#3b87a4"/>
<path d="M4 14h1.06v1.06h-1.06z" fill="#3a85a7"/>
<path d="M5 14h1.06v1.06h-1.06z" fill="#3a84a9"/>
<path d="M6 14h1.06v1.06h-1.06z" fill="#3a84ab"/>
<path d="M7 14h1.06v1.06h-1.06z" fill="#3983ad"/>
<path d="M8 14h1.06v1.06h-1.06z" fill="#3983ae"/>
<path d="M9 14h2.06v1.06h-2.06z" fill="#3982af"/>
<path d="M11 14h1.06v1.06h-1.06z" fill="#3982b0"/>
<path d="M12 14h1.06v1.06h-1.06z" fill="#3981b0"/>
<path d="M13 14h2.06v1.06h-2.06z" fill="#3881b1"/>
<path d="M15 14h2.06v1.06h-2.06z" fill="#3881b2"/>
<path d="M17 14h1.06v1.06h-1.06z" fill="#3880b2"/>
<path d="M18 14h4.06v1.06h-4.06z" fill="#3880b3"/>
<path d="M22 14h7.06v1.06h-7.06z" fill="#3880b4"/>
<path d="M29 14h1.06v1.06h-1.06z" fill="#3880b5"/>
<path d="M30 14h9.3v1.06h-9.3z" fill="#387fb5"/>
<path d="M-.3 15h1.36v1.06h-1.36z" fill="#40918d"/>
<path d="M1 15h1.06v1.06h-1.06z" fill="#3d8c9a"/>
<path d="M2 15h1.06v1.06h-1.06z" fill="#3c89a0"/>
<path d="M3 15h1.06v1.06h-1.06z" fill="#3b87a5"/>
<path d="M4 15h1.06v1.06h-1.06z" fill="#3a85a8"/>
<path d="M5 15h1.06v1.06h-1.06z" fill="#3a84aa"/>
<path d="M6 15h1.06v1.06h-1.06z" fill="#3984ac"/>
<path d="M7 15h1.06v1.06h-1.06z" fill="#3983ad"/>
<path d="M8 15h1.06v1.06h-1.06z" fill="#3982ae"/>
<path d="M9 15h1.06v1.06h-1.06z" fill="#3982af"/>
<path d="M10 15h1.06v1.06h-1.06z" fill="#3982b0"/>
<path d="M11 15h1.06v1.06h-1.06z" fill="#3981b0"/>
<path d="M12 15h2.06v1.06h-2.06z" fill="#3881b1"/>
<path d="M14 15h3.06v1.06h-3.06z" fill="#3881b2"/>
<path d="M17 15h5.06v1.06h-5.06z" fill="#3880b3"/>
<path d="M22 15h6.06v1.06h-6.06z" fill="#3880b4"/>
<path d="M28 15h1.06v1.06h-1.06z" fill="#3880b5"/>
<path d="M29 15h10.3v1.06h-10.3z" fill="#387fb5"/>
<path d="M-.3 16h1.36v1.06h-1.36z" fill="#3f918e"/>
<path d="M1 16h1.06v1.06h-1.06z" fill="#3d8b9a"/>
<path d="M2 16h1.06v1.06h-1.06z" fill="#3c88a1"/>
<path d="M3 16h1.06v1.06h-1.06z" fill="#3b86a5"/>
<path d="M4 16h1.06v1.06h-1.06z" fill="#3a85a8"/>
<path d="M5 16h1.06v1.06h-1.06z" fill="#3a84aa"/>
<path d="M6 16h1.06v1.06h-1.06z" fill="#3983ac"/>
<path d="M7 16h1.06v1.06h-1.06z" fill="#3983ad"/>
<path d="M8 16h1.06v1.06h-1.06z" fill="#3982ae"/>
<path d="M9 16h1.06v1.06h-1.06z" fill="#3982af"/>
<path d="M10 16h1.06v1.06h-1.06z" fill="#3982b0"/>
<path d="M11 16h1.06v1.06h-1.06z" fill="#3981b0"/>
<path d="M12 16h2.06v1.06h-2.06z" fill="#3881b1"/>
<path d="M14 16h2.06v1.06h-2.06z" fill="#3881b2"/>
<path d="M16 16h1.06v1.06h-1.06z" fill="#3880b2"/>
<path d="M17 16h4.06v1.06h-4.06z" fill="#3880b3"/>
<path d="M21 16h6.06v1.06h-6.06z" fill="#3880b4"/>
<path d="M27 16h2.06v1.06h-2.06z" fill="#3880b5"/>
<path d="M29 16h10.3v1.06h-10.3z" fill="#387fb5"/>
<path d="M-.3 17h1.36v1.06h-1.36z" fill="#3f908f"/>
<path d="M1 17h1.06v1.06h-1.06z" fill="#3d8b9b"/>
<path d="M2 17h1.06v1.06h-1.06z" fill="#3b88a2"/>
<path d="M3 17h1.06v1.06h-1.06z" fill="#3b86a6"/>
<path d="M4 17h1.06v1.06h-1.06z" fill="#3a85a9"/>
<path d="M5 17h1.06v1.06h-1.06z" fill="#3a84ab"/>
<path d="M6 17h1.06v1.06h-1.06z" fill="#3983ac"/>
<path d="M7 17h1.06v1.06h-1.06z" fill="#3983ad"/>
<path d="M8 17h1.06v1.06h-1.06z" fill="#3982ae"/>
<path d="M9 17h1.06v1.06h-1.06z" fill="#3982af"/>
<path d="M10 17h1.06v1.06h-1.06z" fill="#3982b0"/>
<path d="M11 17h2.06v1.06h-2.06z" fill="#3881b1"/>
<path d="M13 17h3.06v1.06h-3.06z" fill="#3881b2"/>
<path d="M16 17h4.06v1.06h-4.06z" fill="#3880b3"/>
<path d="M20 17h7.06v1.06h-7.06z" fill="#3880b4"/>
<path d="M27 17h1.06v1.06h-1.06z" fill="#3880b5"/>
<path d="M28 17h10.06v1.06h-10.06z" fill="#387fb5"/>
<path d="M38 17h1.3v1.06h-1.3z" fill="#377fb6"/>
<path d="M-.3 18h1.36v1.06h-1.36z" fill="#3f9090"/>
<path d="M1 18h1.06v1.06h-1.06z" fill="#3d8a9c"/>
<path d="M2 18h1.06v1.06h-1.06z" fill="#3b88a2"/>
<path d="M3 18h1.06v1.06h-1.06z" fill="#3b86a6"/>
<path d="M4 18h1.06v1.06h-1.06z" fill="#3a85a9"/>
<path d="M5 18h1.06v1.06h-1.06z" fill="#3a84ab"/>
<path d="M6 18h1.06v1.06h-1.06z" fill="#3983ad"/>
<path d="M7 18h1.06v1.06h-1.06z" fill="#3983ae"/>
<path d="M8 18h1.06v1.06h-1.06z" fill="#3982af"/>
<path d="M9 18h1.06v1.06h-1.06z" fill="#3982b0"/>
<path d="M10 18h1.06v1.06h-1.06z" fill="#3981b0"/>
<path d="M11 18h2.06v1.06h-2.06z" fill="#3881b1"/>
<path d="M13 18h2.06v1.06h-2.06z" fill="#3881b2"/>
<path d="M15 18h1.06v1.06h-1.06z" fill="#3880b2"/>
<path d="M16 18h4.06v1.06h-4.06z" fill="#3880b3"/>
<path d="M20 18h6.06v1.06h-6.06z" fill="#3880b4"/>
<path d="M26 18h1.06v1.06h-1.06z" fill="#3880b5"/>
<path d="M27 18h10.06v1.06h-10.06z" fill="#387fb5"/>
<path d="M37 18h2.3v1.06h-2.3z" fill="#377fb6"/>
<path d="M-.3 19h1.36v1.06h-1.36z" fill="#3f8f92"/>
<path d="M1 19h1.06v1.06h-1.06z" fill="#3c8a9d"/>
<path d="M2 19h1.06v1.06h-1.06z" fill="#3b87a3"/>
<path d="M3 19h1.06v1.06h-1.06z" fill="#3a86a7"/>
<path d="M4 19h1.06v1.06h-1.06z" fill="#3a84aa"/>
<path d="M5 19h1.06v1.06h-1.06z" fill="#3a84ab"/>
<path d="M6 19h1.06v1.06h-1.06z" fill="#3983ad"/>
<path d="M7 19h1.06v1.06h-1.06z" fill="#3982ae"/>
<path d="M8 19h1.06v1.06h-1.06z" fill="#3982af"/>
<path d="M9 19h1.06v1.06h-1.06z" fill="#3982b0"/>
<path d="M10 19h1.06v1.06h-1.06z" fill="#3981b0"/>
<path d="M11 19h1.06v1.06h-1.06z" fill="#3881b1"/>
<path d="M12 19h3.06v1.06h-3.06z" fill="#3881b2"/>
<path d="M15 19h4.06v1.06h-4.06z" fill="#3880b3"/>
<path d="M19 19h6.06v1.06h-6.06z" fill="#3880b4"/>
<path d="M25 19h1.06v1.06h-1.06z" fill="#3880b5"/>
<path d="M26 19h10.06v1.06h-10.06z" fill="#387fb5"/>
<path d="M36 19h3.3v1.06h-3.3z" fill="#377fb6"/>
<path d="M-.3 20h1.36v1.06h-1.36z" fill="#3e8f93"/>
<path d="M1 20h1.06v1.06h-1.06z" fill="#3c8a9e"/>
<path d="M2 20h1.06v1.06h-1.06z" fill="#3b87a4"/>
<path d="M3 20h1.06v1.06h-1.06z" fill="#3a85a7"/>
<path d="M4 20h1.06v1.06h-1.06z" fill="#3a84aa"/>
<path d="M5 20h1.06v1.06h-1.06z" fill="#3983ac"/>
<path d="M6 20h1.06v1.06h-1.06z" fill="#3983ad"/>
<path d="M7 20h1.06v1.06h-1.06z" fill="#3982ae"/>
<path d="M8 20h1.06v1.06h-1.06z" fill="#3982af"/>
<path d="M9 20h1.06v1.06h-1.06z" fill="#3982b0"/>
<path d="M10 20h2.06v1.06h-2.06z" fill="#3881b1"/>
<path d="M12 20h2.06v1.06h-2.06z" fill="#3881b2"/>
<path d="M14 20h1.06v1.06h-1.06z" fill="#3880b2"/>
<path d="M15 20h3.06v1.06h-3.06z" fill="#3880b3"/>
<path d="M18 20h6.06v1.06h-6.06z" fill="#3880b4"/>
<path d="M24 20h1.06v1.06h-1.06z" fill="#3880b5"/>
<path d="M25 20h10.06v1.06h-10.06z" fill="#387fb5"/>
<path d="M35 20h4.3v1.06h-4.3z" fill="#377fb6"/>
<path d="M-.3 21h1.36v1.06h-1.36z" fill="#3e8e94"/>
<path d="M1 21h1.06v1.06h-1.06z" fill="#3c899e"/>
<path d="M2 21h1.06v1.06h-1.06z" fill="#3b87a4"/>
<path d="M3 21h1.06v1.06h-1.06z" fill="#3a85a8"/>
<path d="M4 21h1.06v1.06h-1.06z" fill="#3a84aa"/>
<path d="M5 21h1.06v1.06h-1.06z" fill="#3983ac"/>
<path d="M6 21h1.06v1.06h-1.06z" fill="#3983ae"/>
<path d="M7 21h1.06v1.06h-1.06z" fill="#3982af"/>
<path d="M8 21h1.06v1.06h-1.06z" fill="#3982b0"/>
<path d="M9 21h1.06v1.06h-1.06z" fill="#3981b0"/>
<path d="M10 21h2.06v1.06h-2.06z" fill="#3881b1"/>
<path d="M12 21h2.06v1.06h-2.06z" fill="#3881b2"/>
<path d="M14 21h4.06v1.06h-4.06z" fill="#3880b3"/>
<path d="M18 21h5.06v1.06h-5.06z" fill="#3880b4"/>
<path d="M23 21h1.06v1.06h-1.06z" fill="#3880b5"/>
<path d="M24 21h10.06v1.06h-10.06z" fill="#387fb5"/>
<path d="M34 21h5.3v1.06h-5.3z" fill="#377fb6"/>
<path d="M-.3 22h1.36v1.06h-1.36z" fill="#3e8e95"/>
<path d="M1 22h1.06v1.06h-1.06z" fill="#3c899f"/>
<path d="M2 22h1.06v1.06h-1.06z" fill="#3b87a5"/>
<path d="M3 22h1.06v1.06h-1.06z" fill="#3a85a8"/>
<path d="M4 22h1.06v1.06h-1.06z" fill="#3a84ab"/>
<path d="M5 22h1.06v1.06h-1.06z" fill="#3983ad"/>
<path d="M6 22h1.06v1.06h-1.06z" fill="#3983ae"/>
<path d="M7 22h1.06v1.06h-1.06z" fill="#3982af"/>
<path d="M8 22h1.06v1.06h-1.06z" fill="#3982b0"/>
<path d="M9 22h2.06v1.06h-2.06z" fill="#3881b1"/>
<path d="M11 22h2.06v1.06h-2.06z" fill="#3881b2"/>
<path d="M13 22h1.06v1.06h-1.06z" fill="#3880b2"/>
<path d="M14 22h3.06v1.06h-3.06z" fill="#3880b3"/>
<path d="M17 22h6.06v1.06h-6.06z" fill="#3880b4"/>
<path d="M23 22h1.06v1.06h-1.06z" fill="#3880b5"/>
<path d="M24 22h8.06v1.06h-8.06z" fill="#387fb5"/>
<path d="M32 22h7.3v1.06h-7.3z" fill="#377fb6"/>
<path d="M-.3 23h1.36v1.06h-1.36z" fill="#3e8d96"/>
<path d="M1 23h1.06v1.06h-1.06z" fill="#3c89a0"/>
<path d="M2 23h1.06v1.06h-1.06z" fill="#3b86a5"/>
<path d="M3 23h1.06v1.06h-1.06z" fill="#3a85a9"/>
<path d="M4 23h1.06v1.06h-1.06z" fill="#3a84ab"/>
<path d="M5 23h1.06v1.06h-1.06z" fill="#3983ad"/>
<path d="M6 23h1.06v1.06h-1.06z" fill="#3982ae"/>
<path d="M7 23h1.06v1.06h-1.06z" fill="#3982af"/>
<path d="M8 23h1.06v1.06h-1.06z" fill="#3982b0"/>
<path d="M9 23h2.06v1.06h-2.06z" fill="#3881b1"/>
<path d="M11 23h2.06v1.06h-2.06z" fill="#3881b2"/>
<path d="M13 23h4.06v1.06h-4.06z" fill="#3880b3"/>
<path d="M17 23h5.06v1.06h-5.06z" fill="#3880b4"/>
<path d="M22 23h1.06v1.06h-1.06z" fill="#3880b5"/>
<path d="M23 23h8.06v1.06h-8.06z" fill="#387fb5"/>
<path d="M31 23h8.3v1.06h-8.3z" fill="#377fb6"/>
<path d="M-.3 24h1.36v1.06h-1.36z" fill="#3e8d97"/>
<path d="M1 24h1.06v1.06h-1.06z" fill="#3c88a1"/>
<path d="M2 24h1.06v1.06h-1.06z" fill="#3b86a6"/>
<path d="M3 24h1.06v1.06h-1.06z" fill="#3a85a9"/>
<path d="M4 24h1.06v1.06h-1.06z" fill="#3984ac"/>
<path d="M5 24h1.06v1.06h-1.06z" fill="#3983ad"/>
<path d="M6 24h1.06v1.06h-1.06z" fill="#3982ae"/>
<path d="M7 24h1.06v1.06h-1.06z" fill="#3982af"/>
<path d="M8 24h1.06v1.06h-1.06z" fill="#3981b0"/>
<path d="M9 24h1.06v1.06h-1.06z" fill="#3881b1"/>
<path d="M10 24h2.06v1.06h-2.06z" fill="#3881b2"/>
<path d="M12 24h1.06v1.06h-1.06z" fill="#3880b2"/>
<path d="M13 24h3.06v1.06h-3.06z" fill="#3880b3"/>
<path d="M16 24h5.06v1.06h-5.06z" fill="#3880b4"/>
<path d="M21 24h1.06v1.06h-1.06z" fill="#3880b5"/>
<path d="M22 24h9.06v1.06h-9.06z" fill="#387fb5"/>
<path d="M31 24h8.3v1.06h-8.3z" fill="#377fb6"/>
<path d="M-.3 25h1.36v1.06h-1.36z" fill="#3d8c98"/>
<path d="M1 25h1.06v1.06h-1.06z" fill="#3c88a1"/>
<path d="M2 25h1.06v1.06h-1.06z" fill="#3b86a6"/>
<path d="M3 25h1.06v1.06h-1.06z" fill="#3a84aa"/>
<path d="M4 25h1.06v1.06h-1.06z" fill="#3983ac"/>
<path d="M5 25h1.06v1.06h-1.06z" fill="#3983ad"/>
<path d="M6 25h1.06v1.06h-1.06z" fill="#3982af"/>
<path d="M7 25h1.06v1.06h-1.06z" fill="#3982b0"/>
<path d="M8 25h1.06v1.06h-1.06z" fill="#3981b0"/>
<path d="M9 25h1.06v1.06h-1.06z" fill="#3881b1"/>
<path d="M10 25h2.06v1.06h-2.06z" fill="#3881b2"/>
<path d="M12 25h4.06v1.06h-4.06z" fill="#3880b3"/>
<path d="M16 25h5.06v1.06h-5.06z" fill="#3880b4"/>
<path d="M21 25h9.06v1.06h-9.06z" fill="#387fb5"/>
<path d="M30 25h9.3v1.06h-9.3z" fill="#377fb6"/>
<path d="M-.3 26h1.36v1.06h-1.36z" fill="#3d8c99"/>
<path d="M1 26h1.06v1.06h-1.06z" fill="#3b88a2"/>
<path d="M2 26h1.06v1.06h-1.06z" fill="#3a86a7"/>
<path d="M3 26h1.06v1.06h-1.06z" fill="#3a84aa"/>
<path d="M4 26h1.06v1.06h-1.06z" fill="#3983ac"/>
<path d="M5 26h1.06v1.06h-1.06z" fill="#3983ae"/>
<path d="M6 26h1.06v1.06h-1.06z" fill="#3982af"/>
<path d="M7 26h1.06v1.06h-1.06z" fill="#3982b0"/>
<path d="M8 26h2.06v1.06h-2.06z" fill="#3881b1"/>
<path d="M10 26h2.06v1.06h-2.06z" fill="#3881b2"/>
<path d="M12 26h3.06v1.06h-3.06z" fill="#3880b3"/>
<path d="M15 26h5.06v1.06h-5.06z" fill="#3880b4"/>
<path d="M20 26h1.06v1.06h-1.06z" fill="#3880b5"/>
<path d="M21 26h8.06v1.06h-8.06z" fill="#387fb5"/>
<path d="M29 26h10.3v1.06h-10.3z" fill="#377fb6"/>
<path d="M-.3 27h1.36v1.06h-1.36z" fill="#3d8c9a"/>
<path d="M1 27h1.06v1.06h-1.06z" fill="#3b88a3"/>
<path d="M2 27h1.06v1.06h-1.06z" fill="#3a85a7"/>
<path d="M3 27h1.06v1.06h-1.06z" fill="#3a84aa"/>
<path d="M4 27h1.06v1.06h-1.06z" fill="#3983ad"/>
<path d="M5 27h1.06v1.06h-1.06z" fill="#3982ae"/>
<path d="M6 27h1.06v1.06h-1.06z" fill="#3982af"/>
<path d="M7 27h1.06v1.06h-1.06z" fill="#3981b0"/>
<path d="M8 27h1.06v1.06h-1.06z" fill="#3881b1"/>
<path d="M9 27h2.06v1.06h-2.06z" fill="#3881b2"/>
<path d="M11 27h1.06v1.06h-1.06z" fill="#3880b2"/>
<path d="M12 27h3.06v1.06h-3.06z" fill="#3880b3"/>
<path d="M15 27h4.06v1.06h-4.06z" fill="#3880b4"/>
<path d="M19 27h1.06v1.06h-1.06z" fill="#3880b5"/>
<path d="M20 27h8.06v1.06h-8.06z" fill="#387fb5"/>
<path d="M28 27h11.3v1.06h-11.3z" fill="#377fb6"/>
<path d="M-.3 28h1.36v1.06h-1.36z" fill="#3d8b9b"/>
<path d="M1 28h1.06v1.06h-1.06z" fill="#3b87a3"/>
<path d="M2 28h1.06v1.06h-1.06z" fill="#3a85a8"/>
<path d="M3 28h1.06v1.06h-1.06z" fill="#3a84ab"/>
<path d="M4 28h1.06v1.06h-1.06z" fill="#3983ad"/>
<path d="M5 28h1.06v1.06h-1.06z" fill="#3982ae"/>
<path d="M6 28h1.06v1.06h-1.06z" fill="#3982b0"/>
<path d="M7 28h1.06v1.06h-1.06z" fill="#3981b0"/>
<path d="M8 28h1.06v1.06h-1.06z" fill="#3881b1"/>
<path d="M9 28h2.06v1.06h-2.06z" fill="#3881b2"/>
<path d="M11 28h3.06v1.06h-3.06z" fill="#3880b3"/>
<path d="M14 28h5.06v1.06h-5.06z" fill="#3880b4"/>
<path d="M19 28h8.06v1.06h-8.06z" fill="#387fb5"/>
<path d="M27 28h12.3v1.06h-12.3z" fill="#377fb6"/>
<path d="M-.3 29h1.36v1.06h-1.36z" fill="#3d8b9b"/>
<path d="M1 29h1.06v1.06h-1.06z" fill="#3b87a4"/>
<path d="M2 29h1.06v1.06h-1.06z" fill="#3a85a8"/>
<path d="M3 29h1.06v1.06h-1.06z" fill="#3a84ab"/>
<path d="M4 29h1.06v1.06h-1.06z" fill="#3983ad"/>
<path d="M5 29h1.06v1.06h-1.06z" fill="#3982af"/>
<path d="M6 29h1.06v1.06h-1.06z" fill="#3982b0"/>
<path d="M7 29h2.06v1.06h-2.06z" fill="#3881b1"/>
<path d="M9 29h1.06v1.06h-1.06z" fill="#3881b2"/>
<path d="M10 29h1.06v1.06h-1.06z" fill="#3880b2"/>
<path d="M11 29h3.06v1.06h-3.06z" fill="#3880b3"/>
<path d="M14 29h4.06v1.06h-4.06z" fill="#3880b4"/>
<path d="M18 29h1.06v1.06h-1.06z" fill="#3880b5"/>
<path d="M19 29h7.06v1.06h-7.06z" fill="#387fb5"/>
<path d="M26 29h13.3v1.06h-13.3z" fill="#377fb6"/>
<path d="M-.3 30h1.36v1.06h-1.36z" fill="#3d8a9c"/>
<path d="M1 30h1.06v1.06h-1.06z" fill="#3b87a4"/>
<path d="M2 30h1.06v1.06h-1.06z" fill="#3a85a9"/>
<path d="M3 30h1.06v1.06h-1.06z" fill="#3984ac"/>
<path d="M4 30h1.06v1.06h-1.06z" fill="#3983ae"/>
<path d="M5 30h1.06v1.06h-1.06z" fill="#3982af"/>
<path d="M6 30h1.06v1.06h-1.06z" fill="#3982b0"/>
<path d="M7 30h1.06v1.06h-1.06z" fill="#3881b1"/>
<path d="M8 30h2.06v1.06h-2.06z" fill="#3881b2"/>
<path d="M10 30h3.06v1.06h-3.06z" fill="#3880b3"/>
<path d="M13 30h4.06v1.06h-4.06z" fill="#3880b4"/>
<path d="M17 30h1.06v1.06h-1.06z" fill="#3880b5"/>
<path d="M18 30h7.06v1.06h-7.06z" fill="#387fb5"/>
<path d="M25 30h14.3v1.06h-14.3z" fill="#377fb6"/>
<path d="M-.3 31h1.36v1.06h-1.36z" fill="#3c8a9d"/>
<path d="M1 31h1.06v1.06h-1.06z" fill="#3b86a5"/>
<path d="M2 31h1.06v1.06h-1.06z" fill="#3a85a9"/>
<path d="M3 31h1.06v1.06h-1.06z" fill="#3983ac"/>
<path d="M4 31h1.06v1.06h-1.06z" fill="#3983ae"/>
<path d="M5 31h1.06v1.06h-1.06z" fill="#3982af"/>
<path d="M6 31h1.06v1.06h-1.06z" fill="#3981b0"/>
<path d="M7 31h1.06v1.06h-1.06z" fill="#3881b1"/>
<path d="M8 31h2.06v1.06h-2.06z" fill="#3881b2"/>
<path d="M10 31h3.06v1.06h-3.06z" fill="#3880b3"/>
<path d="M13 31h4.06v1.06h-4.06z" fill="#3880b4"/>
<path d="M17 31h1.06v1.06h-1.06z" fill="#3880b5"/>
<path d="M18 31h6.06v1.06h-6.06z" fill="#387fb5"/>
<path d="M24 31h15.3v1.06h-15.3z" fill="#377fb6"/>
<path d="M-.3 32h1.36v1.06h-1.36z" fill="#3c8a9e"/>
<path d="M1 32h1.06v1.06h-1.06z" fill="#3b86a6"/>
<path d="M2 32h1.06v1.06h-1.06z" fill="#3a84aa"/>
<path d="M3 32h1.06v1.06h-1.06z" fill="#3983ac"/>
<path d="M4 32h1.06v1.06h-1.06z" fill="#3982ae"/>
<path d="M5 32h1.06v1.06h-1.06z" fill="#3982af"/>
<path d="M6 32h1.06v1.06h-1.06z" fill="#3981b0"/>
<path d="M7 32h1.06v1.06h-1.06z" fill="#3881b1"/>
<path d="M8 32h1.06v1.06h-1.06z" fill="#3881b2"/>
<path d="M9 32h1.06v1.06h-1.06z" fill="#3880b2"/>
<path d="M10 32h2.06v1.06h-2.06z" fill="#3880b3"/>
<path d="M12 32h4.06v1.06h-4.06z" fill="#3880b4"/>
<path d="M16 32h1.06v1.06h-1.06z" fill="#3880b5"/>
<path d="M17 32h7.06v1.06h-7.06z" fill="#387fb5"/>
<path d="M24 32h15.3v1.06h-15.3z" fill="#377fb6"/>
<path d="M-.3 33h1.36v1.06h-1.36z" fill="#3c899f"/>
<path d="M1 33h1.06v1.06h-1.06z" fill="#3b86a6"/>
<path d="M2 33h1.06v1.06h-1.06z" fill="#3a84aa"/>
<path d="M3 33h1.06v1.06h-1.06z" fill="#3983ad"/>
<path d="M4 33h1.06v1.06h-1.06z" fill="#3982ae"/>
<path d="M5 33h1.06v1.06h-1.06z" fill="#3982b0"/>
<path d="M6 33h2.06v1.06h-2.06z" fill="#3881b1"/>
<path d="M8 33h1.06v1.06h-1.06z" fill="#3881b2"/>
<path d="M9 33h3.06v1.06h-3.06z" fill="#3880b3"/>
<path d="M12 33h4.06v1.06h-4.06z" fill="#3880b4"/>
<path d="M16 33h1.06v1.06h-1.06z" fill="#3880b5"/>
<path d="M17 33h6.06v1.06h-6.06z" fill="#387fb5"/>
<path d="M23 33h16.3v1.06h-16.3z" fill="#377fb6"/>
<path d="M-.3 34h1.36v1.06h-1.36z" fill="#3c899f"/>
<path d="M1 34h1.06v1.06h-1.06z" fill="#3a86a7"/>
<path d="M2 34h1.06v1.06h-1.06z" fill="#3a84ab"/>
<path d="M3 34h1.06v1.06h-1.06z" fill="#3983ad"/>
<path d="M4 34h1.06v1.06h-1.06z" fill="#3982af"/>
<path d="M5 34h1.06v1.06h-1.06z" fill="#3982b0"/>
<path d="M6 34h1.06v1.06h-1.06z" fill="#3881b1"/>
<path d="M7 34h2.06v1.06h-2.06z" fill="#3881b2"/>
<path d="M9 34h2.06v1.06h-2.06z" fill="#3880b3"/>
<path d="M11 34h4.06v1.06h-4.06z" fill="#3880b4"/>
<path d="M15 34h1.06v1.06h-1.06z" fill="#3880b5"/>
<path d="M16 34h6.06v1.06h-6.06z" fill="#387fb5"/>
<path d="M22 34h16.06v1.06h-16.06z" fill="#377fb6"/>
<path d="M38 34h1.3v1.06h-1.3z" fill="#377fb7"/>
<path d="M-.3 35h1.36v1.06h-1.36z" fill="#3c89a0"/>
<path d="M1 35h1.06v1.06h-1.06z" fill="#3a86a7"/>
<path d="M2 35h1.06v1.06h-1.06z" fill="#3a84ab"/>
<path d="M3 35h1.06v1.06h-1.06z" fill="#3983ad"/>
<path d="M4 35h1.06v1.06h-1.06z" fill="#3982af"/>
<path d="M5 35h1.06v1.06h-1.06z" fill="#3981b0"/>
<path d="M6 35h1.06v1.06h-1.06z" fill="#3881b1"/>
<path d="M7 35h1.06v1.06h-1.06z" fill="#3881b2"/>
<path d="M8 35h1.06v1.06h-1.06z" fill="#3880b2"/>
<path d="M9 35h2.06v1.06h-2.06z" fill="#3880b3"/>
<path d="M11 35h4.06v1.06h-4.06z" fill="#3880b4"/>
<path d="M15 35h7.06v1.06h-7.06z" fill="#387fb5"/>
<path d="M22 35h15.06v1.06h-15.06z" fill="#377fb6"/>
<path d="M37 35h2.3v1.06h-2.3z" fill="#377fb7"/>
<path d="M-.3 36h1.36v1.06h-1.36z" fill="#3c88a1"/>
<path d="M1 36h1.06v1.06h-1.06z" fill="#3a85a8"/>
<path d="M2 36h1.06v1.06h-1.06z" fill="#3a84ab"/>
<path d="M3 36h1.06v1.06h-1.06z" fill="#3983ae"/>
<path d="M4 36h1.06v1.06h-1.06z" fill="#3982af"/>
<path d="M5 36h1.06v1.06h-1.06z" fill="#3981b0"/>
<path d="M6 36h1.06v1.06h-1.06z" fill="#3881b1"/>
<path d="M7 36h1.06v1.06h-1.06z" fill="#3881b2"/>
<path d="M8 36h3.06v1.06h-3.06z" fill="#3880b3"/>
<path d="M11 36h3.06v1.06h-3.06z" fill="#3880b4"/>
<path d="M14 36h1.06v1.06h-1.06z" fill="#3880b5"/>
<path d="M15 36h6.06v1.06h-6.06z" fill="#387fb5"/>
<path d="M21 36h15.06v1.06h-15.06z" fill="#377fb6"/>
<path d="M36 36h3.3v1.06h-3.3z" fill="#377fb7"/>
<path d="M-.3 37h1.36v1.06h-1.36z" fill="#3c88a1"/>
<path d="M1 37h1.06v1.06h-1.06z" fill="#3a85a8"/>
<path d="M2 37h1.06v1.06h-1.06z" fill="#3984ac"/>
<path d="M3 37h1.06v1.06h-1.06z" fill="#3982ae"/>
<path d="M4 37h1.06v1.06h-1.06z" fill="#3982af"/>
<path d="M5 37h2.06v1.06h-2.06z" fill="#3881b1"/>
<path d="M7 37h1.06v1.06h-1.06z" fill="#3881b2"/>
<path d="M8 37h2.06v1.06h-2.06z" fill="#3880b3"/>
<path d="M10 37h4.06v1.06h-4.06z" fill="#3880b4"/>
<path d="M14 37h6.06v1.06h-6.06z" fill="#387fb5"/>
<path d="M20 37h15.06v1.06h-15.06z" fill="#377fb6"/>
<path d="M35 37h4.3v1.06h-4.3z" fill="#377fb7"/>
<path d="M-.3 38h1.36v1.3h-1.36z" fill="#3b88a2"/>
<path d="M1 38h1.06v1.3h-1.06z" fill="#3a85a9"/>
<path d="M2 38h1.06v1.3h-1.06z" fill="#3983ac"/>
<path d="M3 38h1.06v1.3h-1.06z" fill="#3982ae"/>
<path d="M4 38h1.06v1.3h-1.06z" fill="#3982b0"/>
<path d="M5 38h1.06v1.3h-1.06z" fill="#3881b1"/>
<path d="M6 38h2.06v1.3h-2.06z" fill="#3881b2"/>
<path d="M8 38h2.06v1.3h-2.06z" fill="#3880b3"/>
<path d="M10 38h3.06v1.3h-3.06z" fill="#3880b4"/>
<path d="M13 38h1.06v1.3h-1.06z" fill="#3880b5"/>
<path d="M14 38h6.06v1.3h-6.06z" fill="#387fb5"/>
<path d="M20 38h14.06v1.3h-14.06z" fill="#377fb6"/>
<path d="M34 38h5.3v1.3h-5.3z" fill="#377fb7"/>
</g></g>
<path d="M940.9 13.45H976.32V585.68H1552.4V624.55H940.9z" fill="#fff"/>
<path d="M1007.45 618.55v-15.2M1068 618.55v-15.2M1128.55 618.55v-15.2M1189.1 618.55v-15.2M1249.65 618.55v-15.2M1310.2 618.55v-15.2M1370.75 618.55v-15.2M1431.3 618.55v-15.2M1491.85 618.55v-15.2M977.17 618.55v-10.3M1037.72 618.55v-10.3M1098.28 618.55v-10.3M1158.83 618.55v-10.3M1219.38 618.55v-10.3M1279.93 618.55v-10.3M1340.47 618.55v-10.3M1401.03 618.55v-10.3M1461.58 618.55v-10.3M1522.12 618.55v-10.3M946.9 551.32h15.2M946.9 484.08h15.2M946.9 416.85h15.2M946.9 349.62h15.2M946.9 282.38h15.2M946.9 215.15h15.2M946.9 147.92h15.2M946.9 80.68h15.2M946.9 584.93h10.3M946.9 517.7h10.3M946.9 450.47h10.3M946.9 383.23h10.3M946.9 316h10.3M946.9 248.77h10.3M946.9 181.53h10.3M946.9 114.3h10.3M946.9 47.07h10.3" stroke="#000" stroke-width="2.9" fill="none"/>
<rect x="946.9" y="13.45" width="605.5" height="605.1" fill="none" stroke="#000" stroke-width="2.9"/>
<g font-size="39.5">
<text transform="translate(946.9,659.65) scale(0.919,1)" text-anchor="middle">0</text>
<text transform="translate(1007.45,659.65) scale(0.919,1)" text-anchor="middle">1</text>
<text transform="translate(1068,659.65) scale(0.919,1)" text-anchor="middle">2</text>
<text transform="translate(1128.55,659.65) scale(0.919,1)" text-anchor="middle">3</text>
<text transform="translate(1189.1,659.65) scale(0.919,1)" text-anchor="middle">4</text>
<text transform="translate(1249.65,659.65) scale(0.919,1)" text-anchor="middle">5</text>
<text transform="translate(1310.2,659.65) scale(0.919,1)" text-anchor="middle">6</text>
<text transform="translate(1370.75,659.65) scale(0.919,1)" text-anchor="middle">7</text>
<text transform="translate(1431.3,659.65) scale(0.919,1)" text-anchor="middle">8</text>
<text transform="translate(1491.85,659.65) scale(0.919,1)" text-anchor="middle">9</text>
<text transform="translate(1552.4,659.65) scale(0.892,1)" text-anchor="middle">10</text>
<text transform="translate(932.4,632.35) scale(0.919,1)" text-anchor="end">0</text>
<text transform="translate(932.4,565.12) scale(0.892,1)" text-anchor="end">10</text>
<text transform="translate(932.4,497.88) scale(0.892,1)" text-anchor="end">20</text>
<text transform="translate(932.4,430.65) scale(0.892,1)" text-anchor="end">30</text>
<text transform="translate(932.4,363.42) scale(0.892,1)" text-anchor="end">40</text>
<text transform="translate(932.4,296.18) scale(0.892,1)" text-anchor="end">50</text>
<text transform="translate(932.4,228.95) scale(0.892,1)" text-anchor="end">60</text>
<text transform="translate(932.4,161.72) scale(0.892,1)" text-anchor="end">70</text>
<text transform="translate(932.4,94.48) scale(0.892,1)" text-anchor="end">80</text>
<text transform="translate(932.4,27.25) scale(0.892,1)" text-anchor="end">90</text>
</g>
<g>
<text transform="translate(983.34,63.23) scale(0.930,1)" font-size="42.25" font-weight="bold">(</text>
<text transform="translate(998.12,62.2) scale(1.033,1)" font-size="37" font-weight="bold">b</text>
<text transform="translate(1023.1,63.23) scale(0.930,1)" font-size="42.25" font-weight="bold">)</text>
<text transform="translate(1050.39,62.2) scale(0.870,1)" font-size="37.5">5</text>
<text transform="translate(1076.29,62.2) scale(1.052,1)" font-size="35.2">bar,</text>
<text transform="translate(1151.1,62.2) scale(0.924,1)" font-size="37.5">32</text>
<text transform="translate(1197.1,62.2) scale(1.086,1)" font-size="35.2">wt.%,</text>
<text transform="translate(1303.51,62.2) scale(0.928,1)" font-size="37.5">0.35</text>
<text transform="translate(1378.52,62.2) scale(0.968,1)" font-size="38.5">L</text>
<text transform="translate(1406.09,62.2) scale(1.056,1)" font-size="35.2">min</text>
<text transform="translate(1467.4,48) scale(1.488,1)" font-size="25.5">−</text>
<text transform="translate(1491.1,46.8) scale(0.889,1)" font-size="25.5">1</text>
<text transform="translate(1505.64,62.2) scale(1.282,1)" font-size="35.2">,</text>
<text transform="translate(1173.76,109.5) scale(0.966,1)" font-size="35.2">separated</text>
<text transform="translate(1031.72,721.3) scale(1.039,1)" font-size="38">current</text>
<text transform="translate(1169.49,721.3) scale(0.996,1)" font-size="38">density</text>
<text transform="translate(1305.4,731.26) scale(0.946,1)" font-size="64.03" class="s">/</text>
<text transform="translate(1338.64,721.3) scale(0.960,1)" font-size="41">kA</text>
<text transform="translate(1392.89,721.3) scale(1.019,1)" font-size="38">m</text>
<text transform="translate(1426.61,707.3) scale(1.372,1)" font-size="27.5">−</text>
<text transform="translate(1448.98,705.9) scale(1.031,1)" font-size="27.5">2</text>
<text transform="translate(854.7,468.09) rotate(-90) scale(1.035,1)" font-size="38">temperature</text>
<text transform="translate(864.66,240.9) rotate(-90) scale(0.951,1)" font-size="64.03" class="s">/</text>
<text transform="translate(856.11,209.09) rotate(-90) scale(0.950,1)" font-size="43.6">°</text>
<text transform="translate(854.7,190.59) rotate(-90) scale(0.835,1)" font-size="43">C</text>
</g>
</g>
<g id="panel-c">
<clipPath id="clc"><rect x="165.52" y="820.5" width="579.93" height="606.82"/></clipPath>
<g clip-path="url(#clc)"><g transform="translate(169.52,821.25) scale(14.7457,15.4378)">
<path d="M-.3 -.3h38.36v1.36h-38.36z" fill="#e41a1c"/>
<path d="M38 -.3h1.3v1.36h-1.3z" fill="#e41b1c"/>
<path d="M-.3 1h37.36v1.06h-37.36z" fill="#e41a1c"/>
<path d="M37 1h1.06v1.06h-1.06z" fill="#e41b1c"/>
<path d="M38 1h1.3v1.06h-1.3z" fill="#e6201a"/>
<path d="M-.3 2h36.36v1.06h-36.36z" fill="#e41a1c"/>
<path d="M36 2h1.06v1.06h-1.06z" fill="#e51c1b"/>
<path d="M37 2h1.06v1.06h-1.06z" fill="#e6221a"/>
<path d="M38 2h1.3v1.06h-1.3z" fill="#e92b17"/>
<path d="M-.3 3h35.36v1.06h-35.36z" fill="#e41a1c"/>
<path d="M35 3h1.06v1.06h-1.06z" fill="#e51d1b"/>
<path d="M36 3h1.06v1.06h-1.06z" fill="#e72519"/>
<path d="M37 3h1.06v1.06h-1.06z" fill="#ea2f16"/>
<path d="M38 3h1.3v1.06h-1.3z" fill="#ec3913"/>
<path d="M-.3 4h33.36v1.06h-33.36z" fill="#e41a1c"/>
<path d="M33 4h1.06v1.06h-1.06z" fill="#e41b1c"/>
<path d="M34 4h1.06v1.06h-1.06z" fill="#e51e1b"/>
<path d="M35 4h1.06v1.06h-1.06z" fill="#e72718"/>
<path d="M36 4h1.06v1.06h-1.06z" fill="#ea3215"/>
<path d="M37 4h1.06v1.06h-1.06z" fill="#ed3c12"/>
<path d="M38 4h1.3v1.06h-1.3z" fill="#f04610"/>
<path d="M-.3 5h32.36v1.06h-32.36z" fill="#e41a1c"/>
<path d="M32 5h1.06v1.06h-1.06z" fill="#e41c1c"/>
<path d="M33 5h1.06v1.06h-1.06z" fill="#e6211a"/>
<path d="M34 5h1.06v1.06h-1.06z" fill="#e82a18"/>
<path d="M35 5h1.06v1.06h-1.06z" fill="#eb3514"/>
<path d="M36 5h1.06v1.06h-1.06z" fill="#ee4012"/>
<path d="M37 5h1.06v1.06h-1.06z" fill="#f14a0f"/>
<path d="M38 5h1.3v1.06h-1.3z" fill="#f3530c"/>
<path d="M-.3 6h31.36v1.06h-31.36z" fill="#e41a1c"/>
<path d="M31 6h1.06v1.06h-1.06z" fill="#e51d1b"/>
<path d="M32 6h1.06v1.06h-1.06z" fill="#e72319"/>
<path d="M33 6h1.06v1.06h-1.06z" fill="#e92d17"/>
<path d="M34 6h1.06v1.06h-1.06z" fill="#ec3914"/>
<path d="M35 6h1.06v1.06h-1.06z" fill="#ef4311"/>
<path d="M36 6h1.06v1.06h-1.06z" fill="#f24d0e"/>
<path d="M37 6h1.06v1.06h-1.06z" fill="#f4570b"/>
<path d="M38 6h1.3v1.06h-1.3z" fill="#f76008"/>
<path d="M-.3 7h29.36v1.06h-29.36z" fill="#e41a1c"/>
<path d="M29 7h1.06v1.06h-1.06z" fill="#e41b1c"/>
<path d="M30 7h1.06v1.06h-1.06z" fill="#e51e1b"/>
<path d="M31 7h1.06v1.06h-1.06z" fill="#e72619"/>
<path d="M32 7h1.06v1.06h-1.06z" fill="#ea3116"/>
<path d="M33 7h1.06v1.06h-1.06z" fill="#ed3c13"/>
<path d="M34 7h1.06v1.06h-1.06z" fill="#f04710"/>
<path d="M35 7h1.06v1.06h-1.06z" fill="#f3510d"/>
<path d="M36 7h1.06v1.06h-1.06z" fill="#f55b0a"/>
<path d="M37 7h1.06v1.06h-1.06z" fill="#f86407"/>
<path d="M38 7h1.3v1.06h-1.3z" fill="#fa6d05"/>
<path d="M-.3 8h28.36v1.06h-28.36z" fill="#e41a1c"/>
<path d="M28 8h1.06v1.06h-1.06z" fill="#e41c1c"/>
<path d="M29 8h1.06v1.06h-1.06z" fill="#e6211a"/>
<path d="M30 8h1.06v1.06h-1.06z" fill="#e82a17"/>
<path d="M31 8h1.06v1.06h-1.06z" fill="#eb3514"/>
<path d="M32 8h1.06v1.06h-1.06z" fill="#ee4011"/>
<path d="M33 8h1.06v1.06h-1.06z" fill="#f14b0f"/>
<path d="M34 8h1.06v1.06h-1.06z" fill="#f4550c"/>
<path d="M35 8h1.06v1.06h-1.06z" fill="#f65f09"/>
<path d="M36 8h1.06v1.06h-1.06z" fill="#f96806"/>
<path d="M37 8h1.06v1.06h-1.06z" fill="#fb7104"/>
<path d="M38 8h1.3v1.06h-1.3z" fill="#fe7a01"/>
<path d="M-.3 9h27.36v1.06h-27.36z" fill="#e41a1c"/>
<path d="M27 9h1.06v1.06h-1.06z" fill="#e51d1b"/>
<path d="M28 9h1.06v1.06h-1.06z" fill="#e72419"/>
<path d="M29 9h1.06v1.06h-1.06z" fill="#e92f16"/>
<path d="M30 9h1.06v1.06h-1.06z" fill="#ec3a13"/>
<path d="M31 9h1.06v1.06h-1.06z" fill="#ef4410"/>
<path d="M32 9h1.06v1.06h-1.06z" fill="#f24f0d"/>
<path d="M33 9h1.06v1.06h-1.06z" fill="#f5590b"/>
<path d="M34 9h1.06v1.06h-1.06z" fill="#f76308"/>
<path d="M35 9h1.06v1.06h-1.06z" fill="#fa6c05"/>
<path d="M36 9h1.06v1.06h-1.06z" fill="#fc7503"/>
<path d="M37 9h1.06v1.06h-1.06z" fill="#ff7e00"/>
<path d="M38 9h1.3v1.06h-1.3z" fill="#ff8804"/>
<path d="M-.3 10h25.36v1.06h-25.36z" fill="#e41a1c"/>
<path d="M25 10h1.06v1.06h-1.06z" fill="#e41b1c"/>
<path d="M26 10h1.06v1.06h-1.06z" fill="#e51f1b"/>
<path d="M27 10h1.06v1.06h-1.06z" fill="#e82818"/>
<path d="M28 10h1.06v1.06h-1.06z" fill="#eb3315"/>
<path d="M29 10h1.06v1.06h-1.06z" fill="#ee3e12"/>
<path d="M30 10h1.06v1.06h-1.06z" fill="#f1490f"/>
<path d="M31 10h1.06v1.06h-1.06z" fill="#f3530c"/>
<path d="M32 10h1.06v1.06h-1.06z" fill="#f65d09"/>
<path d="M33 10h1.06v1.06h-1.06z" fill="#f96707"/>
<path d="M34 10h1.06v1.06h-1.06z" fill="#fb7104"/>
<path d="M35 10h1.06v1.06h-1.06z" fill="#fe7a01"/>
<path d="M36 10h1.06v1.06h-1.06z" fill="#ff8302"/>
<path d="M37 10h1.06v1.06h-1.06z" fill="#ff8e06"/>
<path d="M38 10h1.3v1.06h-1.3z" fill="#ff980a"/>
<path d="M-.3 11h24.36v1.06h-24.36z" fill="#e41a1c"/>
<path d="M24 11h1.06v1.06h-1.06z" fill="#e51c1b"/>
<path d="M25 11h1.06v1.06h-1.06z" fill="#e6221a"/>
<path d="M26 11h1.06v1.06h-1.06z" fill="#e92c17"/>
<path d="M27 11h1.06v1.06h-1.06z" fill="#ec3714"/>
<path d="M28 11h1.06v1.06h-1.06z" fill="#ef4311"/>
<path d="M29 11h1.06v1.06h-1.06z" fill="#f24d0e"/>
<path d="M30 11h1.06v1.06h-1.06z" fill="#f5580b"/>
<path d="M31 11h1.06v1.06h-1.06z" fill="#f76208"/>
<path d="M32 11h1.06v1.06h-1.06z" fill="#fa6b05"/>
<path d="M33 11h1.06v1.06h-1.06z" fill="#fc7503"/>
<path d="M34 11h1.06v1.06h-1.06z" fill="#ff7e00"/>
<path d="M35 11h1.06v1.06h-1.06z" fill="#ff8904"/>
<path d="M36 11h1.06v1.06h-1.06z" fill="#ff9308"/>
<path d="M37 11h1.06v1.06h-1.06z" fill="#ff9e0c"/>
<path d="M38 11h1.3v1.06h-1.3z" fill="#ffa710"/>
<path d="M-.3 12h22.36v1.06h-22.36z" fill="#e41a1c"/>
<path d="M22 12h1.06v1.06h-1.06z" fill="#e41b1c"/>
<path d="M23 12h1.06v1.06h-1.06z" fill="#e51e1b"/>
<path d="M24 12h1.06v1.06h-1.06z" fill="#e72619"/>
<path d="M25 12h1.06v1.06h-1.06z" fill="#ea3016"/>
<path d="M26 12h1.06v1.06h-1.06z" fill="#ed3c13"/>
<path d="M27 12h1.06v1.06h-1.06z" fill="#f0470f"/>
<path d="M28 12h1.06v1.06h-1.06z" fill="#f3520c"/>
<path d="M29 12h1.06v1.06h-1.06z" fill="#f65d0a"/>
<path d="M30 12h1.06v1.06h-1.06z" fill="#f86707"/>
<path d="M31 12h1.06v1.06h-1.06z" fill="#fb7004"/>
<path d="M32 12h1.06v1.06h-1.06z" fill="#fe7902"/>
<path d="M33 12h1.06v1.06h-1.06z" fill="#ff8402"/>
<path d="M34 12h1.06v1.06h-1.06z" fill="#ff8f06"/>
<path d="M35 12h1.06v1.06h-1.06z" fill="#ff990a"/>
<path d="M36 12h1.06v1.06h-1.06z" fill="#ffa30f"/>
<path d="M37 12h1.06v1.06h-1.06z" fill="#ffad12"/>
<path d="M38 12h1.3v1.06h-1.3z" fill="#ffb616"/>
<path d="M-.3 13h21.36v1.06h-21.36z" fill="#e41a1c"/>
<path d="M21 13h1.06v1.06h-1.06z" fill="#e51c1b"/>
<path d="M22 13h1.06v1.06h-1.06z" fill="#e6211a"/>
<path d="M23 13h1.06v1.06h-1.06z" fill="#e82a17"/>
<path d="M24 13h1.06v1.06h-1.06z" fill="#eb3614"/>
<path d="M25 13h1.06v1.06h-1.06z" fill="#ee4111"/>
<path d="M26 13h1.06v1.06h-1.06z" fill="#f14c0e"/>
<path d="M27 13h1.06v1.06h-1.06z" fill="#f4570b"/>
<path d="M28 13h1.06v1.06h-1.06z" fill="#f76208"/>
<path d="M29 13h1.06v1.06h-1.06z" fill="#fa6c05"/>
<path d="M30 13h1.06v1.06h-1.06z" fill="#fc7503"/>
<path d="M31 13h1.06v1.06h-1.06z" fill="#ff7e00"/>
<path d="M32 13h1.06v1.06h-1.06z" fill="#ff8a04"/>
<path d="M33 13h1.06v1.06h-1.06z" fill="#ff9509"/>
<path d="M34 13h1.06v1.06h-1.06z" fill="#ff9f0d"/>
<path d="M35 13h1.06v1.06h-1.06z" fill="#fa1"/>
<path d="M36 13h1.06v1.06h-1.06z" fill="#ffb315"/>
<path d="M37 13h1.06v1.06h-1.06z" fill="#ffbc18"/>
<path d="M38 13h1.3v1.06h-1.3z" fill="#ffc51c"/>
<path d="M-.3 14h20.36v1.06h-20.36z" fill="#e41a1c"/>
<path d="M20 14h1.06v1.06h-1.06z" fill="#e51e1b"/>
<path d="M21 14h1.06v1.06h-1.06z" fill="#e72619"/>
<path d="M22 14h1.06v1.06h-1.06z" fill="#ea3116"/>
<path d="M23 14h1.06v1.06h-1.06z" fill="#ed3c13"/>
<path d="M24 14h1.06v1.06h-1.06z" fill="#f04610"/>
<path d="M25 14h1.06v1.06h-1.06z" fill="#f3510d"/>
<path d="M26 14h1.06v1.06h-1.06z" fill="#f65c0a"/>
<path d="M27 14h1.06v1.06h-1.06z" fill="#f96707"/>
<path d="M28 14h1.06v1.06h-1.06z" fill="#fb7104"/>
<path d="M29 14h1.06v1.06h-1.06z" fill="#fe7a01"/>
<path d="M30 14h1.06v1.06h-1.06z" fill="#ff8502"/>
<path d="M31 14h1.06v1.06h-1.06z" fill="#ff9007"/>
<path d="M32 14h1.06v1.06h-1.06z" fill="#ff9b0b"/>
<path d="M33 14h1.06v1.06h-1.06z" fill="#ffa60f"/>
<path d="M34 14h1.06v1.06h-1.06z" fill="#ffb013"/>
<path d="M35 14h1.06v1.06h-1.06z" fill="#ffb917"/>
<path d="M36 14h1.06v1.06h-1.06z" fill="#ffc31b"/>
<path d="M37 14h1.06v1.06h-1.06z" fill="#ffcc1f"/>
<path d="M38 14h1.3v1.06h-1.3z" fill="#ffd422"/>
<path d="M-.3 15h19.36v1.06h-19.36z" fill="#e41a1c"/>
<path d="M19 15h1.06v1.06h-1.06z" fill="#e51f1b"/>
<path d="M20 15h1.06v1.06h-1.06z" fill="#e82a18"/>
<path d="M21 15h1.06v1.06h-1.06z" fill="#ec3714"/>
<path d="M22 15h1.06v1.06h-1.06z" fill="#ef4211"/>
<path d="M23 15h1.06v1.06h-1.06z" fill="#f24d0e"/>
<path d="M24 15h1.06v1.06h-1.06z" fill="#f4570b"/>
<path d="M25 15h1.06v1.06h-1.06z" fill="#f76208"/>
<path d="M26 15h1.06v1.06h-1.06z" fill="#fa6c05"/>
<path d="M27 15h1.06v1.06h-1.06z" fill="#fd7602"/>
<path d="M28 15h1.06v1.06h-1.06z" fill="#ff8000"/>
<path d="M29 15h1.06v1.06h-1.06z" fill="#ff8c05"/>
<path d="M30 15h1.06v1.06h-1.06z" fill="#ff970a"/>
<path d="M31 15h1.06v1.06h-1.06z" fill="#ffa20e"/>
<path d="M32 15h1.06v1.06h-1.06z" fill="#ffac12"/>
<path d="M33 15h1.06v1.06h-1.06z" fill="#ffb616"/>
<path d="M34 15h1.06v1.06h-1.06z" fill="#ffc01a"/>
<path d="M35 15h1.06v1.06h-1.06z" fill="#ffc91e"/>
<path d="M36 15h1.06v1.06h-1.06z" fill="#ffd221"/>
<path d="M37 15h1.06v1.06h-1.06z" fill="#ffdb24"/>
<path d="M38 15h1.3v1.06h-1.3z" fill="#ffe328"/>
<path d="M-.3 16h18.36v1.06h-18.36z" fill="#e41a1c"/>
<path d="M18 16h1.06v1.06h-1.06z" fill="#e51f1a"/>
<path d="M19 16h1.06v1.06h-1.06z" fill="#e92d17"/>
<path d="M20 16h1.06v1.06h-1.06z" fill="#ed3c13"/>
<path d="M21 16h1.06v1.06h-1.06z" fill="#f0480f"/>
<path d="M22 16h1.06v1.06h-1.06z" fill="#f3530c"/>
<path d="M23 16h1.06v1.06h-1.06z" fill="#f65d09"/>
<path d="M24 16h1.06v1.06h-1.06z" fill="#f96707"/>
<path d="M25 16h1.06v1.06h-1.06z" fill="#fb7204"/>
<path d="M26 16h1.06v1.06h-1.06z" fill="#fe7c01"/>
<path d="M27 16h1.06v1.06h-1.06z" fill="#ff8703"/>
<path d="M28 16h1.06v1.06h-1.06z" fill="#ff9308"/>
<path d="M29 16h1.06v1.06h-1.06z" fill="#ff9e0c"/>
<path d="M30 16h1.06v1.06h-1.06z" fill="#ffa911"/>
<path d="M31 16h1.06v1.06h-1.06z" fill="#ffb315"/>
<path d="M32 16h1.06v1.06h-1.06z" fill="#ffbd19"/>
<path d="M33 16h1.06v1.06h-1.06z" fill="#ffc71d"/>
<path d="M34 16h1.06v1.06h-1.06z" fill="#ffd020"/>
<path d="M35 16h1.06v1.06h-1.06z" fill="#ffd924"/>
<path d="M36 16h1.06v1.06h-1.06z" fill="#ffe127"/>
<path d="M37 16h1.06v1.06h-1.06z" fill="#ffe92a"/>
<path d="M38 16h1.3v1.06h-1.3z" fill="#fff12d"/>
<path d="M-.3 17h16.36v1.06h-16.36z" fill="#e41a1c"/>
<path d="M16 17h1.06v1.06h-1.06z" fill="#e41b1c"/>
<path d="M17 17h1.06v1.06h-1.06z" fill="#e6201a"/>
<path d="M18 17h1.06v1.06h-1.06z" fill="#e92e16"/>
<path d="M19 17h1.06v1.06h-1.06z" fill="#ee3f12"/>
<path d="M20 17h1.06v1.06h-1.06z" fill="#f24e0e"/>
<path d="M21 17h1.06v1.06h-1.06z" fill="#f55a0a"/>
<path d="M22 17h1.06v1.06h-1.06z" fill="#f86407"/>
<path d="M23 17h1.06v1.06h-1.06z" fill="#fa6e05"/>
<path d="M24 17h1.06v1.06h-1.06z" fill="#fd7802"/>
<path d="M25 17h1.06v1.06h-1.06z" fill="#ff8201"/>
<path d="M26 17h1.06v1.06h-1.06z" fill="#ff8e06"/>
<path d="M27 17h1.06v1.06h-1.06z" fill="#ff9a0b"/>
<path d="M28 17h1.06v1.06h-1.06z" fill="#ffa50f"/>
<path d="M29 17h1.06v1.06h-1.06z" fill="#ffb013"/>
<path d="M30 17h1.06v1.06h-1.06z" fill="#ffba18"/>
<path d="M31 17h1.06v1.06h-1.06z" fill="#ffc41c"/>
<path d="M32 17h1.06v1.06h-1.06z" fill="#ffce1f"/>
<path d="M33 17h1.06v1.06h-1.06z" fill="#ffd723"/>
<path d="M34 17h1.06v1.06h-1.06z" fill="#ffe027"/>
<path d="M35 17h1.06v1.06h-1.06z" fill="#ffe82a"/>
<path d="M36 17h1.06v1.06h-1.06z" fill="#fff02d"/>
<path d="M37 17h1.06v1.06h-1.06z" fill="#fff830"/>
<path d="M38 17h1.3v1.06h-1.3z" fill="#ff3"/>
<path d="M-.3 18h15.36v1.06h-15.36z" fill="#e41a1c"/>
<path d="M15 18h1.06v1.06h-1.06z" fill="#e41b1c"/>
<path d="M16 18h1.06v1.06h-1.06z" fill="#e6221a"/>
<path d="M17 18h1.06v1.06h-1.06z" fill="#ea3016"/>
<path d="M18 18h1.06v1.06h-1.06z" fill="#ef4111"/>
<path d="M19 18h1.06v1.06h-1.06z" fill="#f3510d"/>
<path d="M20 18h1.06v1.06h-1.06z" fill="#f76009"/>
<path d="M21 18h1.06v1.06h-1.06z" fill="#fa6b06"/>
<path d="M22 18h1.06v1.06h-1.06z" fill="#fc7503"/>
<path d="M23 18h1.06v1.06h-1.06z" fill="#ff7f00"/>
<path d="M24 18h1.06v1.06h-1.06z" fill="#ff8a04"/>
<path d="M25 18h1.06v1.06h-1.06z" fill="#ff9609"/>
<path d="M26 18h1.06v1.06h-1.06z" fill="#ffa20e"/>
<path d="M27 18h1.06v1.06h-1.06z" fill="#ffad12"/>
<path d="M28 18h1.06v1.06h-1.06z" fill="#ffb716"/>
<path d="M29 18h1.06v1.06h-1.06z" fill="#ffc21b"/>
<path d="M30 18h1.06v1.06h-1.06z" fill="#ffcc1f"/>
<path d="M31 18h1.06v1.06h-1.06z" fill="#ffd522"/>
<path d="M32 18h1.06v1.06h-1.06z" fill="#ffde26"/>
<path d="M33 18h1.06v1.06h-1.06z" fill="#ffe729"/>
<path d="M34 18h1.06v1.06h-1.06z" fill="#ffef2d"/>
<path d="M35 18h1.06v1.06h-1.06z" fill="#fff730"/>
<path d="M36 18h1.06v1.06h-1.06z" fill="#ff3"/>
<path d="M37 18h1.06v1.06h-1.06z" fill="#f5fb34"/>
<path d="M38 18h1.3v1.06h-1.3z" fill="#ecf635"/>
<path d="M-.3 19h14.36v1.06h-14.36z" fill="#e41a1c"/>
<path d="M14 19h1.06v1.06h-1.06z" fill="#e41c1c"/>
<path d="M15 19h1.06v1.06h-1.06z" fill="#e62319"/>
<path d="M16 19h1.06v1.06h-1.06z" fill="#ea3215"/>
<path d="M17 19h1.06v1.06h-1.06z" fill="#ef4410"/>
<path d="M18 19h1.06v1.06h-1.06z" fill="#f4540c"/>
<path d="M19 19h1.06v1.06h-1.06z" fill="#f86408"/>
<path d="M20 19h1.06v1.06h-1.06z" fill="#fb7104"/>
<path d="M21 19h1.06v1.06h-1.06z" fill="#fe7c01"/>
<path d="M22 19h1.06v1.06h-1.06z" fill="#ff8803"/>
<path d="M23 19h1.06v1.06h-1.06z" fill="#ff9308"/>
<path d="M24 19h1.06v1.06h-1.06z" fill="#ff9e0c"/>
<path d="M25 19h1.06v1.06h-1.06z" fill="#fa1"/>
<path d="M26 19h1.06v1.06h-1.06z" fill="#ffb515"/>
<path d="M27 19h1.06v1.06h-1.06z" fill="#ffbf1a"/>
<path d="M28 19h1.06v1.06h-1.06z" fill="#ffc91e"/>
<path d="M29 19h1.06v1.06h-1.06z" fill="#ffd322"/>
<path d="M30 19h1.06v1.06h-1.06z" fill="#ffdd25"/>
<path d="M31 19h1.06v1.06h-1.06z" fill="#ffe629"/>
<path d="M32 19h1.06v1.06h-1.06z" fill="#ffee2c"/>
<path d="M33 19h1.06v1.06h-1.06z" fill="#fff730"/>
<path d="M34 19h1.06v1.06h-1.06z" fill="#ff3"/>
<path d="M35 19h1.06v1.06h-1.06z" fill="#f5fb34"/>
<path d="M36 19h1.06v1.06h-1.06z" fill="#ebf636"/>
<path d="M37 19h1.06v1.06h-1.06z" fill="#e2f237"/>
<path d="M38 19h1.3v1.06h-1.3z" fill="#d9ee38"/>
<path d="M-.3 20h13.36v1.06h-13.36z" fill="#e41a1c"/>
<path d="M13 20h1.06v1.06h-1.06z" fill="#e51c1b"/>
<path d="M14 20h1.06v1.06h-1.06z" fill="#e72519"/>
<path d="M15 20h1.06v1.06h-1.06z" fill="#eb3515"/>
<path d="M16 20h1.06v1.06h-1.06z" fill="#f04610"/>
<path d="M17 20h1.06v1.06h-1.06z" fill="#f4570b"/>
<path d="M18 20h1.06v1.06h-1.06z" fill="#f96707"/>
<path d="M19 20h1.06v1.06h-1.06z" fill="#fd7603"/>
<path d="M20 20h1.06v1.06h-1.06z" fill="#ff8402"/>
<path d="M21 20h1.06v1.06h-1.06z" fill="#ff9107"/>
<path d="M22 20h1.06v1.06h-1.06z" fill="#ff9d0c"/>
<path d="M23 20h1.06v1.06h-1.06z" fill="#ffa810"/>
<path d="M24 20h1.06v1.06h-1.06z" fill="#ffb214"/>
<path d="M25 20h1.06v1.06h-1.06z" fill="#ffbd19"/>
<path d="M26 20h1.06v1.06h-1.06z" fill="#ffc81d"/>
<path d="M27 20h1.06v1.06h-1.06z" fill="#ffd221"/>
<path d="M28 20h1.06v1.06h-1.06z" fill="#ffdb25"/>
<path d="M29 20h1.06v1.06h-1.06z" fill="#ffe428"/>
<path d="M30 20h1.06v1.06h-1.06z" fill="#ffed2c"/>
<path d="M31 20h1.06v1.06h-1.06z" fill="#fff62f"/>
<path d="M32 20h1.06v1.06h-1.06z" fill="#fffe33"/>
<path d="M33 20h1.06v1.06h-1.06z" fill="#f5fb34"/>
<path d="M34 20h1.06v1.06h-1.06z" fill="#ebf636"/>
<path d="M35 20h1.06v1.06h-1.06z" fill="#e1f137"/>
<path d="M36 20h1.06v1.06h-1.06z" fill="#d7ed38"/>
<path d="M37 20h1.06v1.06h-1.06z" fill="#cfe939"/>
<path d="M38 20h1.3v1.06h-1.3z" fill="#c6e53a"/>
<path d="M-.3 21h12.36v1.06h-12.36z" fill="#e41a1c"/>
<path d="M12 21h1.06v1.06h-1.06z" fill="#e51d1b"/>
<path d="M13 21h1.06v1.06h-1.06z" fill="#e72619"/>
<path d="M14 21h1.06v1.06h-1.06z" fill="#ec3714"/>
<path d="M15 21h1.06v1.06h-1.06z" fill="#f14a0f"/>
<path d="M16 21h1.06v1.06h-1.06z" fill="#f55b0a"/>
<path d="M17 21h1.06v1.06h-1.06z" fill="#fa6b06"/>
<path d="M18 21h1.06v1.06h-1.06z" fill="#fe7a01"/>
<path d="M19 21h1.06v1.06h-1.06z" fill="#ff8a04"/>
<path d="M20 21h1.06v1.06h-1.06z" fill="#ff9a0b"/>
<path d="M21 21h1.06v1.06h-1.06z" fill="#ffa610"/>
<path d="M22 21h1.06v1.06h-1.06z" fill="#ffb114"/>
<path d="M23 21h1.06v1.06h-1.06z" fill="#ffbc18"/>
<path d="M24 21h1.06v1.06h-1.06z" fill="#ffc61c"/>
<path d="M25 21h1.06v1.06h-1.06z" fill="#ffd020"/>
<path d="M26 21h1.06v1.06h-1.06z" fill="#ffda24"/>
<path d="M27 21h1.06v1.06h-1.06z" fill="#ffe428"/>
<path d="M28 21h1.06v1.06h-1.06z" fill="#ffed2c"/>
<path d="M29 21h1.06v1.06h-1.06z" fill="#fff62f"/>
<path d="M30 21h1.06v1.06h-1.06z" fill="#fffe33"/>
<path d="M31 21h1.06v1.06h-1.06z" fill="#f5fa34"/>
<path d="M32 21h1.06v1.06h-1.06z" fill="#eaf636"/>
<path d="M33 21h1.06v1.06h-1.06z" fill="#e0f137"/>
<path d="M34 21h1.06v1.06h-1.06z" fill="#d6ed38"/>
<path d="M35 21h1.06v1.06h-1.06z" fill="#cde839"/>
<path d="M36 21h1.06v1.06h-1.06z" fill="#c4e43b"/>
<path d="M37 21h1.06v1.06h-1.06z" fill="#bce13c"/>
<path d="M38 21h1.3v1.06h-1.3z" fill="#b4dd3d"/>
<path d="M-.3 22h11.36v1.06h-11.36z" fill="#e41a1c"/>
<path d="M11 22h1.06v1.06h-1.06z" fill="#e51d1b"/>
<path d="M12 22h1.06v1.06h-1.06z" fill="#e82818"/>
<path d="M13 22h1.06v1.06h-1.06z" fill="#ed3a13"/>
<path d="M14 22h1.06v1.06h-1.06z" fill="#f24d0e"/>
<path d="M15 22h1.06v1.06h-1.06z" fill="#f65f09"/>
<path d="M16 22h1.06v1.06h-1.06z" fill="#fb6f04"/>
<path d="M17 22h1.06v1.06h-1.06z" fill="#ff7e00"/>
<path d="M18 22h1.06v1.06h-1.06z" fill="#ff9007"/>
<path d="M19 22h1.06v1.06h-1.06z" fill="#ffa10d"/>
<path d="M20 22h1.06v1.06h-1.06z" fill="#ffaf13"/>
<path d="M21 22h1.06v1.06h-1.06z" fill="#ffbb18"/>
<path d="M22 22h1.06v1.06h-1.06z" fill="#ffc61c"/>
<path d="M23 22h1.06v1.06h-1.06z" fill="#ffd020"/>
<path d="M24 22h1.06v1.06h-1.06z" fill="#ffd924"/>
<path d="M25 22h1.06v1.06h-1.06z" fill="#ffe328"/>
<path d="M26 22h1.06v1.06h-1.06z" fill="#ffed2c"/>
<path d="M27 22h1.06v1.06h-1.06z" fill="#fff62f"/>
<path d="M28 22h1.06v1.06h-1.06z" fill="#fffe33"/>
<path d="M29 22h1.06v1.06h-1.06z" fill="#f5fa34"/>
<path d="M30 22h1.06v1.06h-1.06z" fill="#e9f536"/>
<path d="M31 22h1.06v1.06h-1.06z" fill="#dff137"/>
<path d="M32 22h1.06v1.06h-1.06z" fill="#d5ec38"/>
<path d="M33 22h1.06v1.06h-1.06z" fill="#cbe83a"/>
<path d="M34 22h1.06v1.06h-1.06z" fill="#c2e43b"/>
<path d="M35 22h1.06v1.06h-1.06z" fill="#b9e03c"/>
<path d="M36 22h1.06v1.06h-1.06z" fill="#b1dc3d"/>
<path d="M37 22h1.06v1.06h-1.06z" fill="#a9d83e"/>
<path d="M38 22h1.3v1.06h-1.3z" fill="#a1d53f"/>
<path d="M-.3 23h10.36v1.06h-10.36z" fill="#e41a1c"/>
<path d="M10 23h1.06v1.06h-1.06z" fill="#e51d1b"/>
<path d="M11 23h1.06v1.06h-1.06z" fill="#e82918"/>
<path d="M12 23h1.06v1.06h-1.06z" fill="#ed3d12"/>
<path d="M13 23h1.06v1.06h-1.06z" fill="#f3510d"/>
<path d="M14 23h1.06v1.06h-1.06z" fill="#f86308"/>
<path d="M15 23h1.06v1.06h-1.06z" fill="#fc7403"/>
<path d="M16 23h1.06v1.06h-1.06z" fill="#ff8402"/>
<path d="M17 23h1.06v1.06h-1.06z" fill="#ff9609"/>
<path d="M18 23h1.06v1.06h-1.06z" fill="#ffa710"/>
<path d="M19 23h1.06v1.06h-1.06z" fill="#ffb716"/>
<path d="M20 23h1.06v1.06h-1.06z" fill="#ffc51c"/>
<path d="M21 23h1.06v1.06h-1.06z" fill="#ffd020"/>
<path d="M22 23h1.06v1.06h-1.06z" fill="#ffda24"/>
<path d="M23 23h1.06v1.06h-1.06z" fill="#ffe428"/>
<path d="M24 23h1.06v1.06h-1.06z" fill="#ffed2c"/>
<path d="M25 23h1.06v1.06h-1.06z" fill="#fff62f"/>
<path d="M26 23h1.06v1.06h-1.06z" fill="#ff3"/>
<path d="M27 23h1.06v1.06h-1.06z" fill="#f4fa34"/>
<path d="M28 23h1.06v1.06h-1.06z" fill="#e9f536"/>
<path d="M29 23h1.06v1.06h-1.06z" fill="#def037"/>
<path d="M30 23h1.06v1.06h-1.06z" fill="#d3eb39"/>
<path d="M31 23h1.06v1.06h-1.06z" fill="#c9e73a"/>
<path d="M32 23h1.06v1.06h-1.06z" fill="#c0e23b"/>
<path d="M33 23h1.06v1.06h-1.06z" fill="#b6de3c"/>
<path d="M34 23h1.06v1.06h-1.06z" fill="#aedb3d"/>
<path d="M35 23h1.06v1.06h-1.06z" fill="#a6d73f"/>
<path d="M36 23h1.06v1.06h-1.06z" fill="#9ed340"/>
<path d="M37 23h1.06v1.06h-1.06z" fill="#97d040"/>
<path d="M38 23h1.3v1.06h-1.3z" fill="#90cd41"/>
<path d="M-.3 24h9.36v1.06h-9.36z" fill="#e41a1c"/>
<path d="M9 24h1.06v1.06h-1.06z" fill="#e51e1b"/>
<path d="M10 24h1.06v1.06h-1.06z" fill="#e82b17"/>
<path d="M11 24h1.06v1.06h-1.06z" fill="#ee4012"/>
<path d="M12 24h1.06v1.06h-1.06z" fill="#f4550c"/>
<path d="M13 24h1.06v1.06h-1.06z" fill="#f96806"/>
<path d="M14 24h1.06v1.06h-1.06z" fill="#fd7902"/>
<path d="M15 24h1.06v1.06h-1.06z" fill="#ff8b05"/>
<path d="M16 24h1.06v1.06h-1.06z" fill="#ff9d0c"/>
<path d="M17 24h1.06v1.06h-1.06z" fill="#ffaf13"/>
<path d="M18 24h1.06v1.06h-1.06z" fill="#ffbe19"/>
<path d="M19 24h1.06v1.06h-1.06z" fill="#ffcd1f"/>
<path d="M20 24h1.06v1.06h-1.06z" fill="#ffda24"/>
<path d="M21 24h1.06v1.06h-1.06z" fill="#ffe529"/>
<path d="M22 24h1.06v1.06h-1.06z" fill="#ffee2c"/>
<path d="M23 24h1.06v1.06h-1.06z" fill="#fff730"/>
<path d="M24 24h1.06v1.06h-1.06z" fill="#feff33"/>
<path d="M25 24h1.06v1.06h-1.06z" fill="#f2f935"/>
<path d="M26 24h1.06v1.06h-1.06z" fill="#e7f436"/>
<path d="M27 24h1.06v1.06h-1.06z" fill="#dcef38"/>
<path d="M28 24h1.06v1.06h-1.06z" fill="#d1ea39"/>
<path d="M29 24h1.06v1.06h-1.06z" fill="#c7e63a"/>
<path d="M30 24h1.06v1.06h-1.06z" fill="#bde13c"/>
<path d="M31 24h1.06v1.06h-1.06z" fill="#b4dd3d"/>
<path d="M32 24h1.06v1.06h-1.06z" fill="#abd93e"/>
<path d="M33 24h1.06v1.06h-1.06z" fill="#a2d53f"/>
<path d="M34 24h1.06v1.06h-1.06z" fill="#9ad240"/>
<path d="M35 24h1.06v1.06h-1.06z" fill="#93ce41"/>
<path d="M36 24h1.06v1.06h-1.06z" fill="#8bcb42"/>
<path d="M37 24h1.06v1.06h-1.06z" fill="#85c843"/>
<path d="M38 24h1.3v1.06h-1.3z" fill="#7ec544"/>
<path d="M-.3 25h8.36v1.06h-8.36z" fill="#e41a1c"/>
<path d="M8 25h1.06v1.06h-1.06z" fill="#e51e1b"/>
<path d="M9 25h1.06v1.06h-1.06z" fill="#e92c17"/>
<path d="M10 25h1.06v1.06h-1.06z" fill="#ef4211"/>
<path d="M11 25h1.06v1.06h-1.06z" fill="#f5590a"/>
<path d="M12 25h1.06v1.06h-1.06z" fill="#fa6d05"/>
<path d="M13 25h1.06v1.06h-1.06z" fill="#ff7f00"/>
<path d="M14 25h1.06v1.06h-1.06z" fill="#ff9308"/>
<path d="M15 25h1.06v1.06h-1.06z" fill="#ffa60f"/>
<path d="M16 25h1.06v1.06h-1.06z" fill="#ffb616"/>
<path d="M17 25h1.06v1.06h-1.06z" fill="#ffc61c"/>
<path d="M18 25h1.06v1.06h-1.06z" fill="#ffd522"/>
<path d="M19 25h1.06v1.06h-1.06z" fill="#ffe328"/>
<path d="M20 25h1.06v1.06h-1.06z" fill="#ffef2d"/>
<path d="M21 25h1.06v1.06h-1.06z" fill="#fff931"/>
<path d="M22 25h1.06v1.06h-1.06z" fill="#fbfd34"/>
<path d="M23 25h1.06v1.06h-1.06z" fill="#eff835"/>
<path d="M24 25h1.06v1.06h-1.06z" fill="#e4f336"/>
<path d="M25 25h1.06v1.06h-1.06z" fill="#d9ee38"/>
<path d="M26 25h1.06v1.06h-1.06z" fill="#cee939"/>
<path d="M27 25h1.06v1.06h-1.06z" fill="#c4e43b"/>
<path d="M28 25h1.06v1.06h-1.06z" fill="#bae03c"/>
<path d="M29 25h1.06v1.06h-1.06z" fill="#b0dc3d"/>
<path d="M30 25h1.06v1.06h-1.06z" fill="#a7d83e"/>
<path d="M31 25h1.06v1.06h-1.06z" fill="#9ed43f"/>
<path d="M32 25h1.06v1.06h-1.06z" fill="#96d041"/>
<path d="M33 25h1.06v1.06h-1.06z" fill="#8ecc42"/>
<path d="M34 25h1.06v1.06h-1.06z" fill="#87c943"/>
<path d="M35 25h1.06v1.06h-1.06z" fill="#80c643"/>
<path d="M36 25h1.06v1.06h-1.06z" fill="#79c344"/>
<path d="M37 25h1.06v1.06h-1.06z" fill="#73c045"/>
<path d="M38 25h1.3v1.06h-1.3z" fill="#6dbd46"/>
<path d="M-.3 26h7.36v1.06h-7.36z" fill="#e41a1c"/>
<path d="M7 26h1.06v1.06h-1.06z" fill="#e51e1b"/>
<path d="M8 26h1.06v1.06h-1.06z" fill="#e92d17"/>
<path d="M9 26h1.06v1.06h-1.06z" fill="#ef4510"/>
<path d="M10 26h1.06v1.06h-1.06z" fill="#f65d09"/>
<path d="M11 26h1.06v1.06h-1.06z" fill="#fc7303"/>
<path d="M12 26h1.06v1.06h-1.06z" fill="#ff8703"/>
<path d="M13 26h1.06v1.06h-1.06z" fill="#ff9c0c"/>
<path d="M14 26h1.06v1.06h-1.06z" fill="#ffaf13"/>
<path d="M15 26h1.06v1.06h-1.06z" fill="#ffc01a"/>
<path d="M16 26h1.06v1.06h-1.06z" fill="#ffcf20"/>
<path d="M17 26h1.06v1.06h-1.06z" fill="#ffde26"/>
<path d="M18 26h1.06v1.06h-1.06z" fill="#ffec2b"/>
<path d="M19 26h1.06v1.06h-1.06z" fill="#fff931"/>
<path d="M20 26h1.06v1.06h-1.06z" fill="#f8fc34"/>
<path d="M21 26h1.06v1.06h-1.06z" fill="#ebf636"/>
<path d="M22 26h1.06v1.06h-1.06z" fill="#dff137"/>
<path d="M23 26h1.06v1.06h-1.06z" fill="#d5ec38"/>
<path d="M24 26h1.06v1.06h-1.06z" fill="#cae73a"/>
<path d="M25 26h1.06v1.06h-1.06z" fill="#c0e33b"/>
<path d="M26 26h1.06v1.06h-1.06z" fill="#b6de3c"/>
<path d="M27 26h1.06v1.06h-1.06z" fill="#acda3e"/>
<path d="M28 26h1.06v1.06h-1.06z" fill="#a3d63f"/>
<path d="M29 26h1.06v1.06h-1.06z" fill="#9ad240"/>
<path d="M30 26h1.06v1.06h-1.06z" fill="#92ce41"/>
<path d="M31 26h1.06v1.06h-1.06z" fill="#8aca42"/>
<path d="M32 26h1.06v1.06h-1.06z" fill="#82c743"/>
<path d="M33 26h1.06v1.06h-1.06z" fill="#7bc444"/>
<path d="M34 26h1.06v1.06h-1.06z" fill="#74c045"/>
<path d="M35 26h1.06v1.06h-1.06z" fill="#6dbe46"/>
<path d="M36 26h1.06v1.06h-1.06z" fill="#67bb47"/>
<path d="M37 26h1.06v1.06h-1.06z" fill="#61b847"/>
<path d="M38 26h1.3v1.06h-1.3z" fill="#5cb648"/>
<path d="M-.3 27h6.36v1.06h-6.36z" fill="#e41a1c"/>
<path d="M6 27h1.06v1.06h-1.06z" fill="#e51c1b"/>
<path d="M7 27h1.06v1.06h-1.06z" fill="#e92b17"/>
<path d="M8 27h1.06v1.06h-1.06z" fill="#f04710"/>
<path d="M9 27h1.06v1.06h-1.06z" fill="#f76108"/>
<path d="M10 27h1.06v1.06h-1.06z" fill="#fd7802"/>
<path d="M11 27h1.06v1.06h-1.06z" fill="#ff8f06"/>
<path d="M12 27h1.06v1.06h-1.06z" fill="#ffa50f"/>
<path d="M13 27h1.06v1.06h-1.06z" fill="#ffb917"/>
<path d="M14 27h1.06v1.06h-1.06z" fill="#ffca1e"/>
<path d="M15 27h1.06v1.06h-1.06z" fill="#ffda24"/>
<path d="M16 27h1.06v1.06h-1.06z" fill="#ffe82a"/>
<path d="M17 27h1.06v1.06h-1.06z" fill="#fff62f"/>
<path d="M18 27h1.06v1.06h-1.06z" fill="#fafd34"/>
<path d="M19 27h1.06v1.06h-1.06z" fill="#e9f536"/>
<path d="M20 27h1.06v1.06h-1.06z" fill="#dbef38"/>
<path d="M21 27h1.06v1.06h-1.06z" fill="#cfe939"/>
<path d="M22 27h1.06v1.06h-1.06z" fill="#c4e53b"/>
<path d="M23 27h1.06v1.06h-1.06z" fill="#bae03c"/>
<path d="M24 27h1.06v1.06h-1.06z" fill="#b1dc3d"/>
<path d="M25 27h1.06v1.06h-1.06z" fill="#a7d83e"/>
<path d="M26 27h1.06v1.06h-1.06z" fill="#9ed340"/>
<path d="M27 27h1.06v1.06h-1.06z" fill="#95cf41"/>
<path d="M28 27h1.06v1.06h-1.06z" fill="#8dcc42"/>
<path d="M29 27h1.06v1.06h-1.06z" fill="#85c843"/>
<path d="M30 27h1.06v1.06h-1.06z" fill="#7dc444"/>
<path d="M31 27h1.06v1.06h-1.06z" fill="#75c145"/>
<path d="M32 27h1.06v1.06h-1.06z" fill="#6ebe46"/>
<path d="M33 27h1.06v1.06h-1.06z" fill="#67bb47"/>
<path d="M34 27h1.06v1.06h-1.06z" fill="#61b847"/>
<path d="M35 27h1.06v1.06h-1.06z" fill="#5bb548"/>
<path d="M36 27h1.06v1.06h-1.06z" fill="#56b349"/>
<path d="M37 27h1.06v1.06h-1.06z" fill="#50b14a"/>
<path d="M38 27h1.3v1.06h-1.3z" fill="#4daf4b"/>
<path d="M-.3 28h6.36v1.06h-6.36z" fill="#e41a1c"/>
<path d="M6 28h1.06v1.06h-1.06z" fill="#e82818"/>
<path d="M7 28h1.06v1.06h-1.06z" fill="#f04610"/>
<path d="M8 28h1.06v1.06h-1.06z" fill="#f86507"/>
<path d="M9 28h1.06v1.06h-1.06z" fill="#ff7e00"/>
<path d="M10 28h1.06v1.06h-1.06z" fill="#ff980a"/>
<path d="M11 28h1.06v1.06h-1.06z" fill="#ffaf13"/>
<path d="M12 28h1.06v1.06h-1.06z" fill="#ffc31b"/>
<path d="M13 28h1.06v1.06h-1.06z" fill="#ffd522"/>
<path d="M14 28h1.06v1.06h-1.06z" fill="#ffe529"/>
<path d="M15 28h1.06v1.06h-1.06z" fill="#fff32e"/>
<path d="M16 28h1.06v1.06h-1.06z" fill="#fdfe33"/>
<path d="M17 28h1.06v1.06h-1.06z" fill="#ebf636"/>
<path d="M18 28h1.06v1.06h-1.06z" fill="#dbef38"/>
<path d="M19 28h1.06v1.06h-1.06z" fill="#cce83a"/>
<path d="M20 28h1.06v1.06h-1.06z" fill="#bee23b"/>
<path d="M21 28h1.06v1.06h-1.06z" fill="#b3dd3d"/>
<path d="M22 28h1.06v1.06h-1.06z" fill="#aad93e"/>
<path d="M23 28h1.06v1.06h-1.06z" fill="#a0d43f"/>
<path d="M24 28h1.06v1.06h-1.06z" fill="#98d140"/>
<path d="M25 28h1.06v1.06h-1.06z" fill="#8fcd41"/>
<path d="M26 28h1.06v1.06h-1.06z" fill="#86c943"/>
<path d="M27 28h1.06v1.06h-1.06z" fill="#7ec544"/>
<path d="M28 28h1.06v1.06h-1.06z" fill="#77c245"/>
<path d="M29 28h1.06v1.06h-1.06z" fill="#6fbe46"/>
<path d="M30 28h1.06v1.06h-1.06z" fill="#68bb47"/>
<path d="M31 28h1.06v1.06h-1.06z" fill="#61b847"/>
<path d="M32 28h1.06v1.06h-1.06z" fill="#5bb548"/>
<path d="M33 28h1.06v1.06h-1.06z" fill="#55b249"/>
<path d="M34 28h1.06v1.06h-1.06z" fill="#4fb04a"/>
<path d="M35 28h1.06v1.06h-1.06z" fill="#4dae4c"/>
<path d="M36 28h1.06v1.06h-1.06z" fill="#4cad4f"/>
<path d="M37 28h1.06v1.06h-1.06z" fill="#4bab52"/>
<path d="M38 28h1.3v1.06h-1.3z" fill="#4baa55"/>
<path d="M-.3 29h5.36v1.06h-5.36z" fill="#e41a1c"/>
<path d="M5 29h1.06v1.06h-1.06z" fill="#e72519"/>
<path d="M6 29h1.06v1.06h-1.06z" fill="#ef4311"/>
<path d="M7 29h1.06v1.06h-1.06z" fill="#f96806"/>
<path d="M8 29h1.06v1.06h-1.06z" fill="#ff8503"/>
<path d="M9 29h1.06v1.06h-1.06z" fill="#ffa20e"/>
<path d="M10 29h1.06v1.06h-1.06z" fill="#ffba17"/>
<path d="M11 29h1.06v1.06h-1.06z" fill="#ffcf20"/>
<path d="M12 29h1.06v1.06h-1.06z" fill="#ffe127"/>
<path d="M13 29h1.06v1.06h-1.06z" fill="#fff12e"/>
<path d="M14 29h1.06v1.06h-1.06z" fill="#fefe33"/>
<path d="M15 29h1.06v1.06h-1.06z" fill="#ecf636"/>
<path d="M16 29h1.06v1.06h-1.06z" fill="#dbef38"/>
<path d="M17 29h1.06v1.06h-1.06z" fill="#cbe83a"/>
<path d="M18 29h1.06v1.06h-1.06z" fill="#bce13c"/>
<path d="M19 29h1.06v1.06h-1.06z" fill="#aedb3d"/>
<path d="M20 29h1.06v1.06h-1.06z" fill="#a2d53f"/>
<path d="M21 29h1.06v1.06h-1.06z" fill="#98d140"/>
<path d="M22 29h1.06v1.06h-1.06z" fill="#8fcd41"/>
<path d="M23 29h1.06v1.06h-1.06z" fill="#87c943"/>
<path d="M24 29h1.06v1.06h-1.06z" fill="#7fc544"/>
<path d="M25 29h1.06v1.06h-1.06z" fill="#77c245"/>
<path d="M26 29h1.06v1.06h-1.06z" fill="#6fbe46"/>
<path d="M27 29h1.06v1.06h-1.06z" fill="#68bb47"/>
<path d="M28 29h1.06v1.06h-1.06z" fill="#61b847"/>
<path d="M29 29h1.06v1.06h-1.06z" fill="#5ab548"/>
<path d="M30 29h1.06v1.06h-1.06z" fill="#53b249"/>
<path d="M31 29h1.06v1.06h-1.06z" fill="#4daf4a"/>
<path d="M32 29h1.06v1.06h-1.06z" fill="#4cad4d"/>
<path d="M33 29h1.06v1.06h-1.06z" fill="#4cac51"/>
<path d="M34 29h1.06v1.06h-1.06z" fill="#4bab54"/>
<path d="M35 29h1.06v1.06h-1.06z" fill="#4aa957"/>
<path d="M36 29h1.06v1.06h-1.06z" fill="#4aa85a"/>
<path d="M37 29h1.06v1.06h-1.06z" fill="#49a75d"/>
<path d="M38 29h1.3v1.06h-1.3z" fill="#49a65f"/>
<path d="M-.3 30h4.36v1.06h-4.36z" fill="#e41a1c"/>
<path d="M4 30h1.06v1.06h-1.06z" fill="#e62319"/>
<path d="M5 30h1.06v1.06h-1.06z" fill="#ef4211"/>
<path d="M6 30h1.06v1.06h-1.06z" fill="#f96906"/>
<path d="M7 30h1.06v1.06h-1.06z" fill="#ff8c05"/>
<path d="M8 30h1.06v1.06h-1.06z" fill="#ffac12"/>
<path d="M9 30h1.06v1.06h-1.06z" fill="#ffc61c"/>
<path d="M10 30h1.06v1.06h-1.06z" fill="#ffdc25"/>
<path d="M11 30h1.06v1.06h-1.06z" fill="#ffee2c"/>
<path d="M12 30h1.06v1.06h-1.06z" fill="#ff3"/>
<path d="M13 30h1.06v1.06h-1.06z" fill="#ebf636"/>
<path d="M14 30h1.06v1.06h-1.06z" fill="#d8ee38"/>
<path d="M15 30h1.06v1.06h-1.06z" fill="#c8e63a"/>
<path d="M16 30h1.06v1.06h-1.06z" fill="#b9e03c"/>
<path d="M17 30h1.06v1.06h-1.06z" fill="#abd93e"/>
<path d="M18 30h1.06v1.06h-1.06z" fill="#9dd340"/>
<path d="M19 30h1.06v1.06h-1.06z" fill="#91ce41"/>
<path d="M20 30h1.06v1.06h-1.06z" fill="#86c943"/>
<path d="M21 30h1.06v1.06h-1.06z" fill="#7dc544"/>
<path d="M22 30h1.06v1.06h-1.06z" fill="#75c145"/>
<path d="M23 30h1.06v1.06h-1.06z" fill="#6dbe46"/>
<path d="M24 30h1.06v1.06h-1.06z" fill="#66ba47"/>
<path d="M25 30h1.06v1.06h-1.06z" fill="#5fb748"/>
<path d="M26 30h1.06v1.06h-1.06z" fill="#58b449"/>
<path d="M27 30h1.06v1.06h-1.06z" fill="#52b149"/>
<path d="M28 30h1.06v1.06h-1.06z" fill="#4daf4b"/>
<path d="M29 30h1.06v1.06h-1.06z" fill="#4cad4f"/>
<path d="M30 30h1.06v1.06h-1.06z" fill="#4bab52"/>
<path d="M31 30h1.06v1.06h-1.06z" fill="#4baa56"/>
<path d="M32 30h1.06v1.06h-1.06z" fill="#4aa859"/>
<path d="M33 30h1.06v1.06h-1.06z" fill="#49a75c"/>
<path d="M34 30h1.06v1.06h-1.06z" fill="#49a65f"/>
<path d="M35 30h1.06v1.06h-1.06z" fill="#48a462"/>
<path d="M36 30h1.06v1.06h-1.06z" fill="#48a364"/>
<path d="M37 30h1.06v1.06h-1.06z" fill="#47a267"/>
<path d="M38 30h1.3v1.06h-1.3z" fill="#47a169"/>
<path d="M-.3 31h3.36v1.06h-3.36z" fill="#e41a1c"/>
<path d="M3 31h1.06v1.06h-1.06z" fill="#e6221a"/>
<path d="M4 31h1.06v1.06h-1.06z" fill="#ee3f12"/>
<path d="M5 31h1.06v1.06h-1.06z" fill="#f96906"/>
<path d="M6 31h1.06v1.06h-1.06z" fill="#ff9207"/>
<path d="M7 31h1.06v1.06h-1.06z" fill="#ffb616"/>
<path d="M8 31h1.06v1.06h-1.06z" fill="#ffd321"/>
<path d="M9 31h1.06v1.06h-1.06z" fill="#ffea2b"/>
<path d="M10 31h1.06v1.06h-1.06z" fill="#fffd32"/>
<path d="M11 31h1.06v1.06h-1.06z" fill="#eaf636"/>
<path d="M12 31h1.06v1.06h-1.06z" fill="#d6ec38"/>
<path d="M13 31h1.06v1.06h-1.06z" fill="#c4e43b"/>
<path d="M14 31h1.06v1.06h-1.06z" fill="#b4dd3d"/>
<path d="M15 31h1.06v1.06h-1.06z" fill="#a5d73f"/>
<path d="M16 31h1.06v1.06h-1.06z" fill="#98d140"/>
<path d="M17 31h1.06v1.06h-1.06z" fill="#8bcb42"/>
<path d="M18 31h1.06v1.06h-1.06z" fill="#7fc544"/>
<path d="M19 31h1.06v1.06h-1.06z" fill="#74c145"/>
<path d="M20 31h1.06v1.06h-1.06z" fill="#6bbc46"/>
<path d="M21 31h1.06v1.06h-1.06z" fill="#62b947"/>
<path d="M22 31h1.06v1.06h-1.06z" fill="#5bb548"/>
<path d="M23 31h1.06v1.06h-1.06z" fill="#54b249"/>
<path d="M24 31h1.06v1.06h-1.06z" fill="#4eb04a"/>
<path d="M25 31h1.06v1.06h-1.06z" fill="#4cae4d"/>
<path d="M26 31h1.06v1.06h-1.06z" fill="#4cac51"/>
<path d="M27 31h1.06v1.06h-1.06z" fill="#4baa55"/>
<path d="M28 31h1.06v1.06h-1.06z" fill="#4aa958"/>
<path d="M29 31h1.06v1.06h-1.06z" fill="#4aa75b"/>
<path d="M30 31h1.06v1.06h-1.06z" fill="#49a65f"/>
<path d="M31 31h1.06v1.06h-1.06z" fill="#48a462"/>
<path d="M32 31h1.06v1.06h-1.06z" fill="#48a365"/>
<path d="M33 31h1.06v1.06h-1.06z" fill="#47a267"/>
<path d="M34 31h1.06v1.06h-1.06z" fill="#47a16a"/>
<path d="M35 31h1.06v1.06h-1.06z" fill="#46a06c"/>
<path d="M36 31h1.06v1.06h-1.06z" fill="#469f6e"/>
<path d="M37 31h1.06v1.06h-1.06z" fill="#459e70"/>
<path d="M38 31h1.3v1.06h-1.3z" fill="#459d72"/>
<path d="M-.3 32h2.36v1.06h-2.36z" fill="#e41a1c"/>
<path d="M2 32h1.06v1.06h-1.06z" fill="#e51f1b"/>
<path d="M3 32h1.06v1.06h-1.06z" fill="#ed3b13"/>
<path d="M4 32h1.06v1.06h-1.06z" fill="#f96a06"/>
<path d="M5 32h1.06v1.06h-1.06z" fill="#ff990a"/>
<path d="M6 32h1.06v1.06h-1.06z" fill="#ffc11a"/>
<path d="M7 32h1.06v1.06h-1.06z" fill="#ffe127"/>
<path d="M8 32h1.06v1.06h-1.06z" fill="#fffa31"/>
<path d="M9 32h1.06v1.06h-1.06z" fill="#eaf636"/>
<path d="M10 32h1.06v1.06h-1.06z" fill="#d3eb39"/>
<path d="M11 32h1.06v1.06h-1.06z" fill="#bee23b"/>
<path d="M12 32h1.06v1.06h-1.06z" fill="#adda3e"/>
<path d="M13 32h1.06v1.06h-1.06z" fill="#9dd340"/>
<path d="M14 32h1.06v1.06h-1.06z" fill="#8fcd41"/>
<path d="M15 32h1.06v1.06h-1.06z" fill="#82c743"/>
<path d="M16 32h1.06v1.06h-1.06z" fill="#77c245"/>
<path d="M17 32h1.06v1.06h-1.06z" fill="#6bbd46"/>
<path d="M18 32h1.06v1.06h-1.06z" fill="#61b847"/>
<path d="M19 32h1.06v1.06h-1.06z" fill="#57b449"/>
<path d="M20 32h1.06v1.06h-1.06z" fill="#4fb04a"/>
<path d="M21 32h1.06v1.06h-1.06z" fill="#4cae4d"/>
<path d="M22 32h1.06v1.06h-1.06z" fill="#4cac51"/>
<path d="M23 32h1.06v1.06h-1.06z" fill="#4baa55"/>
<path d="M24 32h1.06v1.06h-1.06z" fill="#4aa958"/>
<path d="M25 32h1.06v1.06h-1.06z" fill="#4aa75b"/>
<path d="M26 32h1.06v1.06h-1.06z" fill="#49a65f"/>
<path d="M27 32h1.06v1.06h-1.06z" fill="#48a462"/>
<path d="M28 32h1.06v1.06h-1.06z" fill="#48a365"/>
<path d="M29 32h1.06v1.06h-1.06z" fill="#47a268"/>
<path d="M30 32h1.06v1.06h-1.06z" fill="#46a06b"/>
<path d="M31 32h1.06v1.06h-1.06z" fill="#469f6d"/>
<path d="M32 32h1.06v1.06h-1.06z" fill="#459e70"/>
<path d="M33 32h1.06v1.06h-1.06z" fill="#459d72"/>
<path d="M34 32h1.06v1.06h-1.06z" fill="#459c74"/>
<path d="M35 32h1.06v1.06h-1.06z" fill="#449b76"/>
<path d="M36 32h1.06v1.06h-1.06z" fill="#449a78"/>
<path d="M37 32h1.06v1.06h-1.06z" fill="#439a7a"/>
<path d="M38 32h1.3v1.06h-1.3z" fill="#43997c"/>
<path d="M-.3 33h1.36v1.06h-1.36z" fill="#e41a1c"/>
<path d="M1 33h1.06v1.06h-1.06z" fill="#e41c1c"/>
<path d="M2 33h1.06v1.06h-1.06z" fill="#eb3514"/>
<path d="M3 33h1.06v1.06h-1.06z" fill="#f96a06"/>
<path d="M4 33h1.06v1.06h-1.06z" fill="#ffa10e"/>
<path d="M5 33h1.06v1.06h-1.06z" fill="#ffce1f"/>
<path d="M6 33h1.06v1.06h-1.06z" fill="#fff02d"/>
<path d="M7 33h1.06v1.06h-1.06z" fill="#eef835"/>
<path d="M8 33h1.06v1.06h-1.06z" fill="#d1ea39"/>
<path d="M9 33h1.06v1.06h-1.06z" fill="#b9df3c"/>
<path d="M10 33h1.06v1.06h-1.06z" fill="#a4d63f"/>
<path d="M11 33h1.06v1.06h-1.06z" fill="#93ce41"/>
<path d="M12 33h1.06v1.06h-1.06z" fill="#84c843"/>
<path d="M13 33h1.06v1.06h-1.06z" fill="#76c245"/>
<path d="M14 33h1.06v1.06h-1.06z" fill="#6abc46"/>
<path d="M15 33h1.06v1.06h-1.06z" fill="#60b748"/>
<path d="M16 33h1.06v1.06h-1.06z" fill="#56b349"/>
<path d="M17 33h1.06v1.06h-1.06z" fill="#4daf4b"/>
<path d="M18 33h1.06v1.06h-1.06z" fill="#4cac50"/>
<path d="M19 33h1.06v1.06h-1.06z" fill="#4baa55"/>
<path d="M20 33h1.06v1.06h-1.06z" fill="#4aa859"/>
<path d="M21 33h1.06v1.06h-1.06z" fill="#49a65d"/>
<path d="M22 33h1.06v1.06h-1.06z" fill="#48a561"/>
<path d="M23 33h1.06v1.06h-1.06z" fill="#48a464"/>
<path d="M24 33h1.06v1.06h-1.06z" fill="#47a267"/>
<path d="M25 33h1.06v1.06h-1.06z" fill="#47a16a"/>
<path d="M26 33h1.06v1.06h-1.06z" fill="#46a06c"/>
<path d="M27 33h1.06v1.06h-1.06z" fill="#469e6f"/>
<path d="M28 33h1.06v1.06h-1.06z" fill="#459d72"/>
<path d="M29 33h1.06v1.06h-1.06z" fill="#459c74"/>
<path d="M30 33h1.06v1.06h-1.06z" fill="#449b76"/>
<path d="M31 33h1.06v1.06h-1.06z" fill="#449a79"/>
<path d="M32 33h1.06v1.06h-1.06z" fill="#43997b"/>
<path d="M33 33h1.06v1.06h-1.06z" fill="#43987d"/>
<path d="M34 33h1.06v1.06h-1.06z" fill="#42987f"/>
<path d="M35 33h1.06v1.06h-1.06z" fill="#429780"/>
<path d="M36 33h1.06v1.06h-1.06z" fill="#429682"/>
<path d="M37 33h1.06v1.06h-1.06z" fill="#429583"/>
<path d="M38 33h1.3v1.06h-1.3z" fill="#419585"/>
<path d="M-.3 34h1.36v1.06h-1.36z" fill="#e41a1c"/>
<path d="M1 34h1.06v1.06h-1.06z" fill="#ea3016"/>
<path d="M2 34h1.06v1.06h-1.06z" fill="#f96806"/>
<path d="M3 34h1.06v1.06h-1.06z" fill="#ffab11"/>
<path d="M4 34h1.06v1.06h-1.06z" fill="#ffde26"/>
<path d="M5 34h1.06v1.06h-1.06z" fill="#fafd34"/>
<path d="M6 34h1.06v1.06h-1.06z" fill="#d3eb39"/>
<path d="M7 34h1.06v1.06h-1.06z" fill="#b4dd3d"/>
<path d="M8 34h1.06v1.06h-1.06z" fill="#9bd240"/>
<path d="M9 34h1.06v1.06h-1.06z" fill="#87c943"/>
<path d="M10 34h1.06v1.06h-1.06z" fill="#76c145"/>
<path d="M11 34h1.06v1.06h-1.06z" fill="#68bb47"/>
<path d="M12 34h1.06v1.06h-1.06z" fill="#5bb548"/>
<path d="M13 34h1.06v1.06h-1.06z" fill="#50b04a"/>
<path d="M14 34h1.06v1.06h-1.06z" fill="#4cad4e"/>
<path d="M15 34h1.06v1.06h-1.06z" fill="#4bab54"/>
<path d="M16 34h1.06v1.06h-1.06z" fill="#4aa859"/>
<path d="M17 34h1.06v1.06h-1.06z" fill="#49a65e"/>
<path d="M18 34h1.06v1.06h-1.06z" fill="#48a462"/>
<path d="M19 34h1.06v1.06h-1.06z" fill="#47a266"/>
<path d="M20 34h1.06v1.06h-1.06z" fill="#47a16a"/>
<path d="M21 34h1.06v1.06h-1.06z" fill="#469f6d"/>
<path d="M22 34h1.06v1.06h-1.06z" fill="#459e70"/>
<path d="M23 34h1.06v1.06h-1.06z" fill="#459d73"/>
<path d="M24 34h1.06v1.06h-1.06z" fill="#449c75"/>
<path d="M25 34h1.06v1.06h-1.06z" fill="#449b77"/>
<path d="M26 34h1.06v1.06h-1.06z" fill="#439a7a"/>
<path d="M27 34h1.06v1.06h-1.06z" fill="#43997c"/>
<path d="M28 34h1.06v1.06h-1.06z" fill="#43987e"/>
<path d="M29 34h1.06v1.06h-1.06z" fill="#429780"/>
<path d="M30 34h1.06v1.06h-1.06z" fill="#429682"/>
<path d="M31 34h1.06v1.06h-1.06z" fill="#419584"/>
<path d="M32 34h1.06v1.06h-1.06z" fill="#419486"/>
<path d="M33 34h1.06v1.06h-1.06z" fill="#419487"/>
<path d="M34 34h1.06v1.06h-1.06z" fill="#409389"/>
<path d="M35 34h1.06v1.06h-1.06z" fill="#40928a"/>
<path d="M36 34h1.06v1.06h-1.06z" fill="#40928b"/>
<path d="M37 34h1.06v1.06h-1.06z" fill="#40918d"/>
<path d="M38 34h1.3v1.06h-1.3z" fill="#3f918e"/>
<path d="M-.3 35h1.36v1.06h-1.36z" fill="#e92e16"/>
<path d="M1 35h1.06v1.06h-1.06z" fill="#f96a06"/>
<path d="M2 35h1.06v1.06h-1.06z" fill="#ffb817"/>
<path d="M3 35h1.06v1.06h-1.06z" fill="#fff22e"/>
<path d="M4 35h1.06v1.06h-1.06z" fill="#d9ee38"/>
<path d="M5 35h1.06v1.06h-1.06z" fill="#b0dc3d"/>
<path d="M6 35h1.06v1.06h-1.06z" fill="#91ce41"/>
<path d="M7 35h1.06v1.06h-1.06z" fill="#79c344"/>
<path d="M8 35h1.06v1.06h-1.06z" fill="#65ba47"/>
<path d="M9 35h1.06v1.06h-1.06z" fill="#55b349"/>
<path d="M10 35h1.06v1.06h-1.06z" fill="#4cae4d"/>
<path d="M11 35h1.06v1.06h-1.06z" fill="#4baa54"/>
<path d="M12 35h1.06v1.06h-1.06z" fill="#4aa85a"/>
<path d="M13 35h1.06v1.06h-1.06z" fill="#49a560"/>
<path d="M14 35h1.06v1.06h-1.06z" fill="#48a365"/>
<path d="M15 35h1.06v1.06h-1.06z" fill="#47a169"/>
<path d="M16 35h1.06v1.06h-1.06z" fill="#469f6d"/>
<path d="M17 35h1.06v1.06h-1.06z" fill="#459e71"/>
<path d="M18 35h1.06v1.06h-1.06z" fill="#459c74"/>
<path d="M19 35h1.06v1.06h-1.06z" fill="#449b78"/>
<path d="M20 35h1.06v1.06h-1.06z" fill="#43997b"/>
<path d="M21 35h1.06v1.06h-1.06z" fill="#43987d"/>
<path d="M22 35h1.06v1.06h-1.06z" fill="#42977f"/>
<path d="M23 35h1.06v1.06h-1.06z" fill="#429681"/>
<path d="M24 35h1.06v1.06h-1.06z" fill="#429683"/>
<path d="M25 35h1.06v1.06h-1.06z" fill="#419585"/>
<path d="M26 35h1.06v1.06h-1.06z" fill="#419487"/>
<path d="M27 35h1.06v1.06h-1.06z" fill="#409389"/>
<path d="M28 35h1.06v1.06h-1.06z" fill="#40928a"/>
<path d="M29 35h1.06v1.06h-1.06z" fill="#40928c"/>
<path d="M30 35h1.06v1.06h-1.06z" fill="#40918d"/>
<path d="M31 35h1.06v1.06h-1.06z" fill="#3f908f"/>
<path d="M32 35h1.06v1.06h-1.06z" fill="#3f9090"/>
<path d="M33 35h1.06v1.06h-1.06z" fill="#3f8f92"/>
<path d="M34 35h1.06v1.06h-1.06z" fill="#3e8f93"/>
<path d="M35 35h1.06v1.06h-1.06z" fill="#3e8e94"/>
<path d="M36 35h1.06v1.06h-1.06z" fill="#3e8e95"/>
<path d="M37 35h1.06v1.06h-1.06z" fill="#3e8d96"/>
<path d="M38 35h1.3v1.06h-1.3z" fill="#3e8d97"/>
<path d="M-.3 36h1.36v1.06h-1.36z" fill="#fb6f04"/>
<path d="M1 36h1.06v1.06h-1.06z" fill="#ffcb1e"/>
<path d="M2 36h1.06v1.06h-1.06z" fill="#ebf636"/>
<path d="M3 36h1.06v1.06h-1.06z" fill="#afdb3d"/>
<path d="M4 36h1.06v1.06h-1.06z" fill="#85c843"/>
<path d="M5 36h1.06v1.06h-1.06z" fill="#67bb47"/>
<path d="M6 36h1.06v1.06h-1.06z" fill="#50b04a"/>
<path d="M7 36h1.06v1.06h-1.06z" fill="#4bab53"/>
<path d="M8 36h1.06v1.06h-1.06z" fill="#49a75c"/>
<path d="M9 36h1.06v1.06h-1.06z" fill="#48a463"/>
<path d="M10 36h1.06v1.06h-1.06z" fill="#47a169"/>
<path d="M11 36h1.06v1.06h-1.06z" fill="#469f6f"/>
<path d="M12 36h1.06v1.06h-1.06z" fill="#459d73"/>
<path d="M13 36h1.06v1.06h-1.06z" fill="#449b77"/>
<path d="M14 36h1.06v1.06h-1.06z" fill="#43997b"/>
<path d="M15 36h1.06v1.06h-1.06z" fill="#43987e"/>
<path d="M16 36h1.06v1.06h-1.06z" fill="#429781"/>
<path d="M17 36h1.06v1.06h-1.06z" fill="#419584"/>
<path d="M18 36h1.06v1.06h-1.06z" fill="#419486"/>
<path d="M19 36h1.06v1.06h-1.06z" fill="#409389"/>
<path d="M20 36h1.06v1.06h-1.06z" fill="#40928b"/>
<path d="M21 36h1.06v1.06h-1.06z" fill="#40918d"/>
<path d="M22 36h1.06v1.06h-1.06z" fill="#3f918e"/>
<path d="M23 36h1.06v1.06h-1.06z" fill="#3f9090"/>
<path d="M24 36h1.06v1.06h-1.06z" fill="#3f8f91"/>
<path d="M25 36h1.06v1.06h-1.06z" fill="#3f8f92"/>
<path d="M26 36h1.06v1.06h-1.06z" fill="#3e8e94"/>
<path d="M27 36h1.06v1.06h-1.06z" fill="#3e8e95"/>
<path d="M28 36h1.06v1.06h-1.06z" fill="#3e8d96"/>
<path d="M29 36h1.06v1.06h-1.06z" fill="#3e8d97"/>
<path d="M30 36h1.06v1.06h-1.06z" fill="#3d8c99"/>
<path d="M31 36h1.06v1.06h-1.06z" fill="#3d8c9a"/>
<path d="M32 36h1.06v1.06h-1.06z" fill="#3d8b9b"/>
<path d="M33 36h1.06v1.06h-1.06z" fill="#3d8b9c"/>
<path d="M34 36h1.06v1.06h-1.06z" fill="#3d8a9c"/>
<path d="M35 36h1.06v1.06h-1.06z" fill="#3c8a9d"/>
<path d="M36 36h1.06v1.06h-1.06z" fill="#3c8a9e"/>
<path d="M37 36h2.3v1.06h-2.3z" fill="#3c899f"/>
<path d="M-.3 37h1.36v1.06h-1.36z" fill="#ffe729"/>
<path d="M1 37h1.06v1.06h-1.06z" fill="#b5de3d"/>
<path d="M2 37h1.06v1.06h-1.06z" fill="#76c145"/>
<path d="M3 37h1.06v1.06h-1.06z" fill="#4daf4a"/>
<path d="M4 37h1.06v1.06h-1.06z" fill="#4aa75b"/>
<path d="M5 37h1.06v1.06h-1.06z" fill="#47a267"/>
<path d="M6 37h1.06v1.06h-1.06z" fill="#459e70"/>
<path d="M7 37h1.06v1.06h-1.06z" fill="#449b77"/>
<path d="M8 37h1.06v1.06h-1.06z" fill="#43987d"/>
<path d="M9 37h1.06v1.06h-1.06z" fill="#429681"/>
<path d="M10 37h1.06v1.06h-1.06z" fill="#419585"/>
<path d="M11 37h1.06v1.06h-1.06z" fill="#409389"/>
<path d="M12 37h1.06v1.06h-1.06z" fill="#40928b"/>
<path d="M13 37h1.06v1.06h-1.06z" fill="#3f918e"/>
<path d="M14 37h1.06v1.06h-1.06z" fill="#3f9090"/>
<path d="M15 37h1.06v1.06h-1.06z" fill="#3f8f92"/>
<path d="M16 37h1.06v1.06h-1.06z" fill="#3e8e94"/>
<path d="M17 37h1.06v1.06h-1.06z" fill="#3e8d96"/>
<path d="M18 37h1.06v1.06h-1.06z" fill="#3d8c98"/>
<path d="M19 37h1.06v1.06h-1.06z" fill="#3d8c99"/>
<path d="M20 37h1.06v1.06h-1.06z" fill="#3d8b9a"/>
<path d="M21 37h1.06v1.06h-1.06z" fill="#3d8b9c"/>
<path d="M22 37h1.06v1.06h-1.06z" fill="#3c8a9d"/>
<path d="M23 37h1.06v1.06h-1.06z" fill="#3c8a9e"/>
<path d="M24 37h2.06v1.06h-2.06z" fill="#3c899f"/>
<path d="M26 37h1.06v1.06h-1.06z" fill="#3c89a0"/>
<path d="M27 37h1.06v1.06h-1.06z" fill="#3c88a1"/>
<path d="M28 37h1.06v1.06h-1.06z" fill="#3b88a2"/>
<path d="M29 37h1.06v1.06h-1.06z" fill="#3b88a3"/>
<path d="M30 37h1.06v1.06h-1.06z" fill="#3b87a3"/>
<path d="M31 37h1.06v1.06h-1.06z" fill="#3b87a4"/>
<path d="M32 37h1.06v1.06h-1.06z" fill="#3b87a5"/>
<path d="M33 37h1.06v1.06h-1.06z" fill="#3b86a5"/>
<path d="M34 37h2.06v1.06h-2.06z" fill="#3b86a6"/>
<path d="M36 37h1.06v1.06h-1.06z" fill="#3a86a7"/>
<path d="M37 37h1.06v1.06h-1.06z" fill="#3a85a7"/>
<path d="M38 37h1.3v1.06h-1.3z" fill="#3a85a8"/>
<path d="M-.3 38h1.36v1.3h-1.36z" fill="#6bbc46"/>
<path d="M1 38h1.06v1.3h-1.06z" fill="#49a65f"/>
<path d="M2 38h1.06v1.3h-1.06z" fill="#449c75"/>
<path d="M3 38h1.06v1.3h-1.06z" fill="#429682"/>
<path d="M4 38h1.06v1.3h-1.06z" fill="#40928b"/>
<path d="M5 38h1.06v1.3h-1.06z" fill="#3f8f91"/>
<path d="M6 38h1.06v1.3h-1.06z" fill="#3e8e95"/>
<path d="M7 38h1.06v1.3h-1.06z" fill="#3d8c98"/>
<path d="M8 38h1.06v1.3h-1.06z" fill="#3d8b9b"/>
<path d="M9 38h1.06v1.3h-1.06z" fill="#3c8a9d"/>
<path d="M10 38h1.06v1.3h-1.06z" fill="#3c899f"/>
<path d="M11 38h1.06v1.3h-1.06z" fill="#3c88a0"/>
<path d="M12 38h1.06v1.3h-1.06z" fill="#3b88a2"/>
<path d="M13 38h1.06v1.3h-1.06z" fill="#3b87a3"/>
<path d="M14 38h1.06v1.3h-1.06z" fill="#3b87a4"/>
<path d="M15 38h1.06v1.3h-1.06z" fill="#3b86a5"/>
<path d="M16 38h1.06v1.3h-1.06z" fill="#3b86a6"/>
<path d="M17 38h1.06v1.3h-1.06z" fill="#3a86a7"/>
<path d="M18 38h1.06v1.3h-1.06z" fill="#3a85a7"/>
<path d="M19 38h1.06v1.3h-1.06z" fill="#3a85a8"/>
<path d="M20 38h2.06v1.3h-2.06z" fill="#3a85a9"/>
<path d="M22 38h2.06v1.3h-2.06z" fill="#3a84aa"/>
<path d="M24 38h3.06v1.3h-3.06z" fill="#3a84ab"/>
<path d="M27 38h3.06v1.3h-3.06z" fill="#3983ac"/>
<path d="M30 38h3.06v1.3h-3.06z" fill="#3983ad"/>
<path d="M33 38h2.06v1.3h-2.06z" fill="#3983ae"/>
<path d="M35 38h2.06v1.3h-2.06z" fill="#3982ae"/>
<path d="M37 38h2.3v1.3h-2.3z" fill="#3982af"/>
</g></g>
<path d="M134.1 820.5H169.52V1423.32H745.45V1431.6H134.1z" fill="#fff"/>
<path d="M200.63 1425.6v-15.2M261.17 1425.6v-15.2M321.71 1425.6v-15.2M382.24 1425.6v-15.2M442.77 1425.6v-15.2M503.31 1425.6v-15.2M563.85 1425.6v-15.2M624.38 1425.6v-15.2M684.92 1425.6v-15.2M170.37 1425.6v-10.3M230.9 1425.6v-10.3M291.44 1425.6v-10.3M351.97 1425.6v-10.3M412.51 1425.6v-10.3M473.04 1425.6v-10.3M533.58 1425.6v-10.3M594.11 1425.6v-10.3M654.65 1425.6v-10.3M715.18 1425.6v-10.3M140.1 1365.09h15.2M140.1 1304.58h15.2M140.1 1244.07h15.2M140.1 1183.56h15.2M140.1 1123.05h15.2M140.1 1062.54h15.2M140.1 1002.03h15.2M140.1 941.52h15.2M140.1 881.01h15.2M140.1 1395.34h10.3M140.1 1334.84h10.3M140.1 1274.32h10.3M140.1 1213.82h10.3M140.1 1153.3h10.3M140.1 1092.8h10.3M140.1 1032.28h10.3M140.1 971.77h10.3M140.1 911.26h10.3M140.1 850.75h10.3" stroke="#000" stroke-width="2.9" fill="none"/>
<rect x="140.1" y="820.5" width="605.35" height="605.1" fill="none" stroke="#000" stroke-width="2.9"/>
<g font-size="39.5">
<text transform="translate(140.1,1466.7) scale(0.919,1)" text-anchor="middle">0</text>
<text transform="translate(200.63,1466.7) scale(0.919,1)" text-anchor="middle">1</text>
<text transform="translate(261.17,1466.7) scale(0.919,1)" text-anchor="middle">2</text>
<text transform="translate(321.71,1466.7) scale(0.919,1)" text-anchor="middle">3</text>
<text transform="translate(382.24,1466.7) scale(0.919,1)" text-anchor="middle">4</text>
<text transform="translate(442.77,1466.7) scale(0.919,1)" text-anchor="middle">5</text>
<text transform="translate(503.31,1466.7) scale(0.919,1)" text-anchor="middle">6</text>
<text transform="translate(563.85,1466.7) scale(0.919,1)" text-anchor="middle">7</text>
<text transform="translate(624.38,1466.7) scale(0.919,1)" text-anchor="middle">8</text>
<text transform="translate(684.92,1466.7) scale(0.919,1)" text-anchor="middle">9</text>
<text transform="translate(745.45,1466.7) scale(0.892,1)" text-anchor="middle">10</text>
<text transform="translate(125.6,1439.4) scale(0.917,1)" text-anchor="end">0.0</text>
<text transform="translate(125.6,1378.89) scale(0.917,1)" text-anchor="end">0.2</text>
<text transform="translate(125.6,1318.38) scale(0.917,1)" text-anchor="end">0.4</text>
<text transform="translate(125.6,1257.87) scale(0.917,1)" text-anchor="end">0.6</text>
<text transform="translate(125.6,1197.36) scale(0.917,1)" text-anchor="end">0.8</text>
<text transform="translate(125.6,1136.85) scale(0.917,1)" text-anchor="end">1.0</text>
<text transform="translate(125.6,1076.34) scale(0.917,1)" text-anchor="end">1.2</text>
<text transform="translate(125.6,1015.83) scale(0.917,1)" text-anchor="end">1.4</text>
<text transform="translate(125.6,955.32) scale(0.917,1)" text-anchor="end">1.6</text>
<text transform="translate(125.6,894.81) scale(0.917,1)" text-anchor="end">1.8</text>
<text transform="translate(125.6,834.3) scale(0.917,1)" text-anchor="end">2.0</text>
</g>
<g>
<text transform="translate(236.04,865.22) scale(0.939,1)" font-size="41.82" font-weight="bold">(</text>
<text transform="translate(251.12,864.4) scale(1.014,1)" font-size="34" font-weight="bold">c</text>
<text transform="translate(272.7,865.22) scale(0.939,1)" font-size="41.82" font-weight="bold">)</text>
<text transform="translate(299.62,864.4) scale(0.921,1)" font-size="37.5">5</text>
<text transform="translate(325.99,864.4) scale(1.054,1)" font-size="35.2">bar,</text>
<text transform="translate(399.58,864.4) scale(0.915,1)" font-size="37.5">60</text>
<text transform="translate(444.52,866.91) scale(1.041,1)" font-size="42.88">°</text>
<text transform="translate(463.5,864.4) scale(0.830,1)" font-size="38.5">C</text>
<text transform="translate(486.15,864.4) scale(1.340,1)" font-size="35.2">,</text>
<text transform="translate(511.12,864.4) scale(0.913,1)" font-size="37.5">32</text>
<text transform="translate(557.5,864.4) scale(1.086,1)" font-size="35.2">wt.%,</text>
<text transform="translate(395.01,912) scale(1.007,1)" font-size="35.2">mixed</text>
<text transform="translate(224.92,1528.35) scale(1.039,1)" font-size="38">current</text>
<text transform="translate(362.69,1528.35) scale(0.996,1)" font-size="38">density</text>
<text transform="translate(498.6,1538.31) scale(0.946,1)" font-size="64.03" class="s">/</text>
<text transform="translate(531.84,1528.35) scale(0.960,1)" font-size="41">kA</text>
<text transform="translate(586.09,1528.35) scale(1.019,1)" font-size="38">m</text>
<text transform="translate(619.81,1514.35) scale(1.372,1)" font-size="27.5">−</text>
<text transform="translate(642.18,1512.95) scale(1.031,1)" font-size="27.5">2</text>
<text transform="translate(36.9,1358.19) rotate(-90) scale(1.004,1)" font-size="38">volume</text>
<text transform="translate(36.9,1220.78) rotate(-90) scale(1.017,1)" font-size="38">flow</text>
<text transform="translate(36.9,1137.2) rotate(-90) scale(1.012,1)" font-size="38">rate</text>
<text transform="translate(46.86,1054) rotate(-90) scale(0.946,1)" font-size="64.03" class="s">/</text>
<text transform="translate(36.9,1020.93) rotate(-90) scale(0.883,1)" font-size="43">L</text>
<text transform="translate(36.9,991.16) rotate(-90) scale(1.038,1)" font-size="38">min</text>
<text transform="translate(22.9,927.84) rotate(-90) scale(1.410,1)" font-size="27.5">−</text>
<text transform="translate(21.5,904.12) rotate(-90) scale(0.883,1)" font-size="27.5">1</text>
</g>
</g>
<g id="panel-d">
<clipPath id="cld"><rect x="972.32" y="820.5" width="580.08" height="606.82"/></clipPath>
<g clip-path="url(#cld)"><g transform="translate(976.32,821.25) scale(14.7494,15.4378)">
<path d="M-.3 -.3h1.36v1.36h-1.36z" fill="#47a268"/>
<path d="M1 -.3h1.06v1.36h-1.06z" fill="#429681"/>
<path d="M2 -.3h1.06v1.36h-1.06z" fill="#3f918e"/>
<path d="M3 -.3h1.06v1.36h-1.06z" fill="#3e8d97"/>
<path d="M4 -.3h1.06v1.36h-1.06z" fill="#3d8a9c"/>
<path d="M5 -.3h1.06v1.36h-1.06z" fill="#3c89a0"/>
<path d="M6 -.3h1.06v1.36h-1.06z" fill="#3b87a3"/>
<path d="M7 -.3h1.06v1.36h-1.06z" fill="#3b86a5"/>
<path d="M8 -.3h1.06v1.36h-1.06z" fill="#3a85a7"/>
<path d="M9 -.3h1.06v1.36h-1.06z" fill="#3a85a9"/>
<path d="M10 -.3h1.06v1.36h-1.06z" fill="#3a84aa"/>
<path d="M11 -.3h1.06v1.36h-1.06z" fill="#3a84ab"/>
<path d="M12 -.3h1.06v1.36h-1.06z" fill="#3983ac"/>
<path d="M13 -.3h1.06v1.36h-1.06z" fill="#3983ad"/>
<path d="M14 -.3h1.06v1.36h-1.06z" fill="#3983ae"/>
<path d="M15 -.3h1.06v1.36h-1.06z" fill="#3982ae"/>
<path d="M16 -.3h2.06v1.36h-2.06z" fill="#3982af"/>
<path d="M18 -.3h1.06v1.36h-1.06z" fill="#3982b0"/>
<path d="M19 -.3h1.06v1.36h-1.06z" fill="#3981b0"/>
<path d="M20 -.3h3.06v1.36h-3.06z" fill="#3881b1"/>
<path d="M23 -.3h4.06v1.36h-4.06z" fill="#3881b2"/>
<path d="M27 -.3h6.06v1.36h-6.06z" fill="#3880b3"/>
<path d="M33 -.3h6.3v1.36h-6.3z" fill="#3880b4"/>
<path d="M-.3 1h1.36v1.06h-1.36z" fill="#47a169"/>
<path d="M1 1h1.06v1.06h-1.06z" fill="#429682"/>
<path d="M2 1h1.06v1.06h-1.06z" fill="#3f908f"/>
<path d="M3 1h1.06v1.06h-1.06z" fill="#3e8d97"/>
<path d="M4 1h1.06v1.06h-1.06z" fill="#3d8a9c"/>
<path d="M5 1h1.06v1.06h-1.06z" fill="#3c89a0"/>
<path d="M6 1h1.06v1.06h-1.06z" fill="#3b87a3"/>
<path d="M7 1h1.06v1.06h-1.06z" fill="#3b86a6"/>
<path d="M8 1h1.06v1.06h-1.06z" fill="#3a85a8"/>
<path d="M9 1h1.06v1.06h-1.06z" fill="#3a85a9"/>
<path d="M10 1h1.06v1.06h-1.06z" fill="#3a84aa"/>
<path d="M11 1h1.06v1.06h-1.06z" fill="#3a84ab"/>
<path d="M12 1h1.06v1.06h-1.06z" fill="#3983ac"/>
<path d="M13 1h1.06v1.06h-1.06z" fill="#3983ad"/>
<path d="M14 1h1.06v1.06h-1.06z" fill="#3982ae"/>
<path d="M15 1h2.06v1.06h-2.06z" fill="#3982af"/>
<path d="M17 1h2.06v1.06h-2.06z" fill="#3982b0"/>
<path d="M19 1h1.06v1.06h-1.06z" fill="#3981b0"/>
<path d="M20 1h3.06v1.06h-3.06z" fill="#3881b1"/>
<path d="M23 1h3.06v1.06h-3.06z" fill="#3881b2"/>
<path d="M26 1h1.06v1.06h-1.06z" fill="#3880b2"/>
<path d="M27 1h6.06v1.06h-6.06z" fill="#3880b3"/>
<path d="M33 1h6.3v1.06h-6.3z" fill="#3880b4"/>
<path d="M-.3 2h1.36v1.06h-1.36z" fill="#47a16a"/>
<path d="M1 2h1.06v1.06h-1.06z" fill="#429682"/>
<path d="M2 2h1.06v1.06h-1.06z" fill="#3f908f"/>
<path d="M3 2h1.06v1.06h-1.06z" fill="#3e8d97"/>
<path d="M4 2h1.06v1.06h-1.06z" fill="#3c8a9d"/>
<path d="M5 2h1.06v1.06h-1.06z" fill="#3c88a1"/>
<path d="M6 2h1.06v1.06h-1.06z" fill="#3b87a4"/>
<path d="M7 2h1.06v1.06h-1.06z" fill="#3b86a6"/>
<path d="M8 2h1.06v1.06h-1.06z" fill="#3a85a8"/>
<path d="M9 2h1.06v1.06h-1.06z" fill="#3a85a9"/>
<path d="M10 2h1.06v1.06h-1.06z" fill="#3a84ab"/>
<path d="M11 2h1.06v1.06h-1.06z" fill="#3984ac"/>
<path d="M12 2h2.06v1.06h-2.06z" fill="#3983ad"/>
<path d="M14 2h1.06v1.06h-1.06z" fill="#3982ae"/>
<path d="M15 2h2.06v1.06h-2.06z" fill="#3982af"/>
<path d="M17 2h2.06v1.06h-2.06z" fill="#3982b0"/>
<path d="M19 2h3.06v1.06h-3.06z" fill="#3881b1"/>
<path d="M22 2h4.06v1.06h-4.06z" fill="#3881b2"/>
<path d="M26 2h1.06v1.06h-1.06z" fill="#3880b2"/>
<path d="M27 2h5.06v1.06h-5.06z" fill="#3880b3"/>
<path d="M32 2h7.3v1.06h-7.3z" fill="#3880b4"/>
<path d="M-.3 3h1.36v1.06h-1.36z" fill="#46a06b"/>
<path d="M1 3h1.06v1.06h-1.06z" fill="#429683"/>
<path d="M2 3h1.06v1.06h-1.06z" fill="#3f9090"/>
<path d="M3 3h1.06v1.06h-1.06z" fill="#3d8c98"/>
<path d="M4 3h1.06v1.06h-1.06z" fill="#3c8a9d"/>
<path d="M5 3h1.06v1.06h-1.06z" fill="#3c88a1"/>
<path d="M6 3h1.06v1.06h-1.06z" fill="#3b87a4"/>
<path d="M7 3h1.06v1.06h-1.06z" fill="#3b86a6"/>
<path d="M8 3h1.06v1.06h-1.06z" fill="#3a85a8"/>
<path d="M9 3h1.06v1.06h-1.06z" fill="#3a84a9"/>
<path d="M10 3h1.06v1.06h-1.06z" fill="#3a84ab"/>
<path d="M11 3h1.06v1.06h-1.06z" fill="#3983ac"/>
<path d="M12 3h2.06v1.06h-2.06z" fill="#3983ad"/>
<path d="M14 3h1.06v1.06h-1.06z" fill="#3982ae"/>
<path d="M15 3h2.06v1.06h-2.06z" fill="#3982af"/>
<path d="M17 3h1.06v1.06h-1.06z" fill="#3982b0"/>
<path d="M18 3h1.06v1.06h-1.06z" fill="#3981b0"/>
<path d="M19 3h3.06v1.06h-3.06z" fill="#3881b1"/>
<path d="M22 3h4.06v1.06h-4.06z" fill="#3881b2"/>
<path d="M26 3h6.06v1.06h-6.06z" fill="#3880b3"/>
<path d="M32 3h7.3v1.06h-7.3z" fill="#3880b4"/>
<path d="M-.3 4h1.36v1.06h-1.36z" fill="#46a06c"/>
<path d="M1 4h1.06v1.06h-1.06z" fill="#419584"/>
<path d="M2 4h1.06v1.06h-1.06z" fill="#3f9090"/>
<path d="M3 4h1.06v1.06h-1.06z" fill="#3d8c98"/>
<path d="M4 4h1.06v1.06h-1.06z" fill="#3c8a9d"/>
<path d="M5 4h1.06v1.06h-1.06z" fill="#3c88a1"/>
<path d="M6 4h1.06v1.06h-1.06z" fill="#3b87a4"/>
<path d="M7 4h1.06v1.06h-1.06z" fill="#3b86a6"/>
<path d="M8 4h1.06v1.06h-1.06z" fill="#3a85a8"/>
<path d="M9 4h1.06v1.06h-1.06z" fill="#3a84aa"/>
<path d="M10 4h1.06v1.06h-1.06z" fill="#3a84ab"/>
<path d="M11 4h1.06v1.06h-1.06z" fill="#3983ac"/>
<path d="M12 4h1.06v1.06h-1.06z" fill="#3983ad"/>
<path d="M13 4h1.06v1.06h-1.06z" fill="#3983ae"/>
<path d="M14 4h1.06v1.06h-1.06z" fill="#3982ae"/>
<path d="M15 4h2.06v1.06h-2.06z" fill="#3982af"/>
<path d="M17 4h1.06v1.06h-1.06z" fill="#3982b0"/>
<path d="M18 4h1.06v1.06h-1.06z" fill="#3981b0"/>
<path d="M19 4h3.06v1.06h-3.06z" fill="#3881b1"/>
<path d="M22 4h3.06v1.06h-3.06z" fill="#3881b2"/>
<path d="M25 4h1.06v1.06h-1.06z" fill="#3880b2"/>
<path d="M26 4h6.06v1.06h-6.06z" fill="#3880b3"/>
<path d="M32 4h7.3v1.06h-7.3z" fill="#3880b4"/>
<path d="M-.3 5h1.36v1.06h-1.36z" fill="#46a06d"/>
<path d="M1 5h1.06v1.06h-1.06z" fill="#419584"/>
<path d="M2 5h1.06v1.06h-1.06z" fill="#3f8f91"/>
<path d="M3 5h1.06v1.06h-1.06z" fill="#3d8c99"/>
<path d="M4 5h1.06v1.06h-1.06z" fill="#3c8a9e"/>
<path d="M5 5h1.06v1.06h-1.06z" fill="#3b88a2"/>
<path d="M6 5h1.06v1.06h-1.06z" fill="#3b87a4"/>
<path d="M7 5h1.06v1.06h-1.06z" fill="#3a86a7"/>
<path d="M8 5h1.06v1.06h-1.06z" fill="#3a85a8"/>
<path d="M9 5h1.06v1.06h-1.06z" fill="#3a84aa"/>
<path d="M10 5h1.06v1.06h-1.06z" fill="#3a84ab"/>
<path d="M11 5h1.06v1.06h-1.06z" fill="#3983ac"/>
<path d="M12 5h1.06v1.06h-1.06z" fill="#3983ad"/>
<path d="M13 5h1.06v1.06h-1.06z" fill="#3983ae"/>
<path d="M14 5h1.06v1.06h-1.06z" fill="#3982ae"/>
<path d="M15 5h1.06v1.06h-1.06z" fill="#3982af"/>
<path d="M16 5h2.06v1.06h-2.06z" fill="#3982b0"/>
<path d="M18 5h1.06v1.06h-1.06z" fill="#3981b0"/>
<path d="M19 5h3.06v1.06h-3.06z" fill="#3881b1"/>
<path d="M22 5h3.06v1.06h-3.06z" fill="#3881b2"/>
<path d="M25 5h1.06v1.06h-1.06z" fill="#3880b2"/>
<path d="M26 5h5.06v1.06h-5.06z" fill="#3880b3"/>
<path d="M31 5h8.3v1.06h-8.3z" fill="#3880b4"/>
<path d="M-.3 6h1.36v1.06h-1.36z" fill="#469f6e"/>
<path d="M1 6h1.06v1.06h-1.06z" fill="#419585"/>
<path d="M2 6h1.06v1.06h-1.06z" fill="#3f8f91"/>
<path d="M3 6h1.06v1.06h-1.06z" fill="#3d8c99"/>
<path d="M4 6h1.06v1.06h-1.06z" fill="#3c8a9e"/>
<path d="M5 6h1.06v1.06h-1.06z" fill="#3b88a2"/>
<path d="M6 6h1.06v1.06h-1.06z" fill="#3b87a5"/>
<path d="M7 6h1.06v1.06h-1.06z" fill="#3a86a7"/>
<path d="M8 6h1.06v1.06h-1.06z" fill="#3a85a9"/>
<path d="M9 6h1.06v1.06h-1.06z" fill="#3a84aa"/>
<path d="M10 6h1.06v1.06h-1.06z" fill="#3a84ab"/>
<path d="M11 6h1.06v1.06h-1.06z" fill="#3983ac"/>
<path d="M12 6h1.06v1.06h-1.06z" fill="#3983ad"/>
<path d="M13 6h1.06v1.06h-1.06z" fill="#3983ae"/>
<path d="M14 6h2.06v1.06h-2.06z" fill="#3982af"/>
<path d="M16 6h2.06v1.06h-2.06z" fill="#3982b0"/>
<path d="M18 6h3.06v1.06h-3.06z" fill="#3881b1"/>
<path d="M21 6h4.06v1.06h-4.06z" fill="#3881b2"/>
<path d="M25 6h6.06v1.06h-6.06z" fill="#3880b3"/>
<path d="M31 6h8.3v1.06h-8.3z" fill="#3880b4"/>
<path d="M-.3 7h1.36v1.06h-1.36z" fill="#469f6f"/>
<path d="M1 7h1.06v1.06h-1.06z" fill="#419486"/>
<path d="M2 7h1.06v1.06h-1.06z" fill="#3f8f92"/>
<path d="M3 7h1.06v1.06h-1.06z" fill="#3d8c99"/>
<path d="M4 7h1.06v1.06h-1.06z" fill="#3c899e"/>
<path d="M5 7h1.06v1.06h-1.06z" fill="#3b88a2"/>
<path d="M6 7h1.06v1.06h-1.06z" fill="#3b86a5"/>
<path d="M7 7h1.06v1.06h-1.06z" fill="#3a86a7"/>
<path d="M8 7h1.06v1.06h-1.06z" fill="#3a85a9"/>
<path d="M9 7h1.06v1.06h-1.06z" fill="#3a84aa"/>
<path d="M10 7h1.06v1.06h-1.06z" fill="#3a84ab"/>
<path d="M11 7h1.06v1.06h-1.06z" fill="#3983ac"/>
<path d="M12 7h1.06v1.06h-1.06z" fill="#3983ad"/>
<path d="M13 7h1.06v1.06h-1.06z" fill="#3982ae"/>
<path d="M14 7h2.06v1.06h-2.06z" fill="#3982af"/>
<path d="M16 7h1.06v1.06h-1.06z" fill="#3982b0"/>
<path d="M17 7h1.06v1.06h-1.06z" fill="#3981b0"/>
<path d="M18 7h3.06v1.06h-3.06z" fill="#3881b1"/>
<path d="M21 7h3.06v1.06h-3.06z" fill="#3881b2"/>
<path d="M24 7h1.06v1.06h-1.06z" fill="#3880b2"/>
<path d="M25 7h5.06v1.06h-5.06z" fill="#3880b3"/>
<path d="M30 7h9.3v1.06h-9.3z" fill="#3880b4"/>
<path d="M-.3 8h1.36v1.06h-1.36z" fill="#459e70"/>
<path d="M1 8h1.06v1.06h-1.06z" fill="#419486"/>
<path d="M2 8h1.06v1.06h-1.06z" fill="#3f8f92"/>
<path d="M3 8h1.06v1.06h-1.06z" fill="#3d8b9a"/>
<path d="M4 8h1.06v1.06h-1.06z" fill="#3c899f"/>
<path d="M5 8h1.06v1.06h-1.06z" fill="#3b88a2"/>
<path d="M6 8h1.06v1.06h-1.06z" fill="#3b86a5"/>
<path d="M7 8h1.06v1.06h-1.06z" fill="#3a85a7"/>
<path d="M8 8h1.06v1.06h-1.06z" fill="#3a85a9"/>
<path d="M9 8h1.06v1.06h-1.06z" fill="#3a84aa"/>
<path d="M10 8h1.06v1.06h-1.06z" fill="#3984ac"/>
<path d="M11 8h2.06v1.06h-2.06z" fill="#3983ad"/>
<path d="M13 8h1.06v1.06h-1.06z" fill="#3982ae"/>
<path d="M14 8h2.06v1.06h-2.06z" fill="#3982af"/>
<path d="M16 8h1.06v1.06h-1.06z" fill="#3982b0"/>
<path d="M17 8h1.06v1.06h-1.06z" fill="#3981b0"/>
<path d="M18 8h3.06v1.06h-3.06z" fill="#3881b1"/>
<path d="M21 8h3.06v1.06h-3.06z" fill="#3881b2"/>
<path d="M24 8h1.06v1.06h-1.06z" fill="#3880b2"/>
<path d="M25 8h5.06v1.06h-5.06z" fill="#3880b3"/>
<path d="M30 8h8.06v1.06h-8.06z" fill="#3880b4"/>
<path d="M38 8h1.3v1.06h-1.3z" fill="#3880b5"/>
<path d="M-.3 9h1.36v1.06h-1.36z" fill="#459e71"/>
<path d="M1 9h1.06v1.06h-1.06z" fill="#419487"/>
<path d="M2 9h1.06v1.06h-1.06z" fill="#3e8f93"/>
<path d="M3 9h1.06v1.06h-1.06z" fill="#3d8b9a"/>
<path d="M4 9h1.06v1.06h-1.06z" fill="#3c899f"/>
<path d="M5 9h1.06v1.06h-1.06z" fill="#3b87a3"/>
<path d="M6 9h1.06v1.06h-1.06z" fill="#3b86a5"/>
<path d="M7 9h1.06v1.06h-1.06z" fill="#3a85a8"/>
<path d="M8 9h1.06v1.06h-1.06z" fill="#3a85a9"/>
<path d="M9 9h1.06v1.06h-1.06z" fill="#3a84ab"/>
<path d="M10 9h1.06v1.06h-1.06z" fill="#3983ac"/>
<path d="M11 9h1.06v1.06h-1.06z" fill="#3983ad"/>
<path d="M12 9h1.06v1.06h-1.06z" fill="#3983ae"/>
<path d="M13 9h1.06v1.06h-1.06z" fill="#3982ae"/>
<path d="M14 9h2.06v1.06h-2.06z" fill="#3982af"/>
<path d="M16 9h1.06v1.06h-1.06z" fill="#3982b0"/>
<path d="M17 9h1.06v1.06h-1.06z" fill="#3981b0"/>
<path d="M18 9h2.06v1.06h-2.06z" fill="#3881b1"/>
<path d="M20 9h4.06v1.06h-4.06z" fill="#3881b2"/>
<path d="M24 9h6.06v1.06h-6.06z" fill="#3880b3"/>
<path d="M30 9h8.06v1.06h-8.06z" fill="#3880b4"/>
<path d="M38 9h1.3v1.06h-1.3z" fill="#3880b5"/>
<path d="M-.3 10h1.36v1.06h-1.36z" fill="#459d72"/>
<path d="M1 10h1.06v1.06h-1.06z" fill="#419388"/>
<path d="M2 10h1.06v1.06h-1.06z" fill="#3e8e93"/>
<path d="M3 10h1.06v1.06h-1.06z" fill="#3d8b9b"/>
<path d="M4 10h1.06v1.06h-1.06z" fill="#3c89a0"/>
<path d="M5 10h1.06v1.06h-1.06z" fill="#3b87a3"/>
<path d="M6 10h1.06v1.06h-1.06z" fill="#3b86a6"/>
<path d="M7 10h1.06v1.06h-1.06z" fill="#3a85a8"/>
<path d="M8 10h1.06v1.06h-1.06z" fill="#3a84a9"/>
<path d="M9 10h1.06v1.06h-1.06z" fill="#3a84ab"/>
<path d="M10 10h1.06v1.06h-1.06z" fill="#3983ac"/>
<path d="M11 10h1.06v1.06h-1.06z" fill="#3983ad"/>
<path d="M12 10h1.06v1.06h-1.06z" fill="#3983ae"/>
<path d="M13 10h1.06v1.06h-1.06z" fill="#3982ae"/>
<path d="M14 10h1.06v1.06h-1.06z" fill="#3982af"/>
<path d="M15 10h2.06v1.06h-2.06z" fill="#3982b0"/>
<path d="M17 10h3.06v1.06h-3.06z" fill="#3881b1"/>
<path d="M20 10h3.06v1.06h-3.06z" fill="#3881b2"/>
<path d="M23 10h1.06v1.06h-1.06z" fill="#3880b2"/>
<path d="M24 10h5.06v1.06h-5.06z" fill="#3880b3"/>
<path d="M29 10h8.06v1.06h-8.06z" fill="#3880b4"/>
<path d="M37 10h2.3v1.06h-2.3z" fill="#3880b5"/>
<path d="M-.3 11h1.36v1.06h-1.36z" fill="#459d73"/>
<path d="M1 11h1.06v1.06h-1.06z" fill="#419388"/>
<path d="M2 11h1.06v1.06h-1.06z" fill="#3e8e94"/>
<path d="M3 11h1.06v1.06h-1.06z" fill="#3d8b9b"/>
<path d="M4 11h1.06v1.06h-1.06z" fill="#3c89a0"/>
<path d="M5 11h1.06v1.06h-1.06z" fill="#3b87a3"/>
<path d="M6 11h1.06v1.06h-1.06z" fill="#3b86a6"/>
<path d="M7 11h1.06v1.06h-1.06z" fill="#3a85a8"/>
<path d="M8 11h1.06v1.06h-1.06z" fill="#3a84aa"/>
<path d="M9 11h1.06v1.06h-1.06z" fill="#3a84ab"/>
<path d="M10 11h1.06v1.06h-1.06z" fill="#3983ac"/>
<path d="M11 11h1.06v1.06h-1.06z" fill="#3983ad"/>
<path d="M12 11h1.06v1.06h-1.06z" fill="#3983ae"/>
<path d="M13 11h2.06v1.06h-2.06z" fill="#3982af"/>
<path d="M15 11h1.06v1.06h-1.06z" fill="#3982b0"/>
<path d="M16 11h1.06v1.06h-1.06z" fill="#3981b0"/>
<path d="M17 11h3.06v1.06h-3.06z" fill="#3881b1"/>
<path d="M20 11h3.06v1.06h-3.06z" fill="#3881b2"/>
<path d="M23 11h1.06v1.06h-1.06z" fill="#3880b2"/>
<path d="M24 11h5.06v1.06h-5.06z" fill="#3880b3"/>
<path d="M29 11h8.06v1.06h-8.06z" fill="#3880b4"/>
<path d="M37 11h1.06v1.06h-1.06z" fill="#3880b5"/>
<path d="M38 11h1.3v1.06h-1.3z" fill="#387fb5"/>
<path d="M-.3 12h1.36v1.06h-1.36z" fill="#459c74"/>
<path d="M1 12h1.06v1.06h-1.06z" fill="#409389"/>
<path d="M2 12h1.06v1.06h-1.06z" fill="#3e8e94"/>
<path d="M3 12h1.06v1.06h-1.06z" fill="#3d8b9b"/>
<path d="M4 12h1.06v1.06h-1.06z" fill="#3c89a0"/>
<path d="M5 12h1.06v1.06h-1.06z" fill="#3b87a4"/>
<path d="M6 12h1.06v1.06h-1.06z" fill="#3b86a6"/>
<path d="M7 12h1.06v1.06h-1.06z" fill="#3a85a8"/>
<path d="M8 12h1.06v1.06h-1.06z" fill="#3a84aa"/>
<path d="M9 12h1.06v1.06h-1.06z" fill="#3a84ab"/>
<path d="M10 12h1.06v1.06h-1.06z" fill="#3983ac"/>
<path d="M11 12h1.06v1.06h-1.06z" fill="#3983ad"/>
<path d="M12 12h1.06v1.06h-1.06z" fill="#3982ae"/>
<path d="M13 12h2.06v1.06h-2.06z" fill="#3982af"/>
<path d="M15 12h1.06v1.06h-1.06z" fill="#3982b0"/>
<path d="M16 12h1.06v1.06h-1.06z" fill="#3981b0"/>
<path d="M17 12h3.06v1.06h-3.06z" fill="#3881b1"/>
<path d="M20 12h3.06v1.06h-3.06z" fill="#3881b2"/>
<path d="M23 12h5.06v1.06h-5.06z" fill="#3880b3"/>
<path d="M28 12h8.06v1.06h-8.06z" fill="#3880b4"/>
<path d="M36 12h2.06v1.06h-2.06z" fill="#3880b5"/>
<path d="M38 12h1.3v1.06h-1.3z" fill="#387fb5"/>
<path d="M-.3 13h1.36v1.06h-1.36z" fill="#449c75"/>
<path d="M1 13h1.06v1.06h-1.06z" fill="#40938a"/>
<path d="M2 13h1.06v1.06h-1.06z" fill="#3e8e95"/>
<path d="M3 13h1.06v1.06h-1.06z" fill="#3d8b9c"/>
<path d="M4 13h1.06v1.06h-1.06z" fill="#3c88a1"/>
<path d="M5 13h1.06v1.06h-1.06z" fill="#3b87a4"/>
<path d="M6 13h1.06v1.06h-1.06z" fill="#3b86a6"/>
<path d="M7 13h1.06v1.06h-1.06z" fill="#3a85a8"/>
<path d="M8 13h1.06v1.06h-1.06z" fill="#3a84aa"/>
<path d="M9 13h1.06v1.06h-1.06z" fill="#3a84ab"/>
<path d="M10 13h1.06v1.06h-1.06z" fill="#3983ac"/>
<path d="M11 13h1.06v1.06h-1.06z" fill="#3983ad"/>
<path d="M12 13h1.06v1.06h-1.06z" fill="#3982ae"/>
<path d="M13 13h2.06v1.06h-2.06z" fill="#3982af"/>
<path d="M15 13h1.06v1.06h-1.06z" fill="#3982b0"/>
<path d="M16 13h1.06v1.06h-1.06z" fill="#3981b0"/>
<path d="M17 13h2.06v1.06h-2.06z" fill="#3881b1"/>
<path d="M19 13h3.06v1.06h-3.06z" fill="#3881b2"/>
<path d="M22 13h1.06v1.06h-1.06z" fill="#3880b2"/>
<path d="M23 13h5.06v1.06h-5.06z" fill="#3880b3"/>
<path d="M28 13h8.06v1.06h-8.06z" fill="#3880b4"/>
<path d="M36 13h1.06v1.06h-1.06z" fill="#3880b5"/>
<path d="M37 13h2.3v1.06h-2.3z" fill="#387fb5"/>
<path d="M-.3 14h1.36v1.06h-1.36z" fill="#449c76"/>
<path d="M1 14h1.06v1.06h-1.06z" fill="#40928a"/>
<path d="M2 14h1.06v1.06h-1.06z" fill="#3e8d95"/>
<path d="M3 14h1.06v1.06h-1.06z" fill="#3d8a9c"/>
<path d="M4 14h1.06v1.06h-1.06z" fill="#3c88a1"/>
<path d="M5 14h1.06v1.06h-1.06z" fill="#3b87a4"/>
<path d="M6 14h1.06v1.06h-1.06z" fill="#3a86a7"/>
<path d="M7 14h1.06v1.06h-1.06z" fill="#3a85a9"/>
<path d="M8 14h1.06v1.06h-1.06z" fill="#3a84aa"/>
<path d="M9 14h1.06v1.06h-1.06z" fill="#3984ac"/>
<path d="M10 14h1.06v1.06h-1.06z" fill="#3983ad"/>
<path d="M11 14h1.06v1.06h-1.06z" fill="#3983ae"/>
<path d="M12 14h1.06v1.06h-1.06z" fill="#3982ae"/>
<path d="M13 14h1.06v1.06h-1.06z" fill="#3982af"/>
<path d="M14 14h2.06v1.06h-2.06z" fill="#3982b0"/>
<path d="M16 14h3.06v1.06h-3.06z" fill="#3881b1"/>
<path d="M19 14h3.06v1.06h-3.06z" fill="#3881b2"/>
<path d="M22 14h1.06v1.06h-1.06z" fill="#3880b2"/>
<path d="M23 14h5.06v1.06h-5.06z" fill="#3880b3"/>
<path d="M28 14h7.06v1.06h-7.06z" fill="#3880b4"/>
<path d="M35 14h2.06v1.06h-2.06z" fill="#3880b5"/>
<path d="M37 14h2.3v1.06h-2.3z" fill="#387fb5"/>
<path d="M-.3 15h1.36v1.06h-1.36z" fill="#449b77"/>
<path d="M1 15h1.06v1.06h-1.06z" fill="#40928b"/>
<path d="M2 15h1.06v1.06h-1.06z" fill="#3e8d96"/>
<path d="M3 15h1.06v1.06h-1.06z" fill="#3c8a9d"/>
<path d="M4 15h1.06v1.06h-1.06z" fill="#3c88a1"/>
<path d="M5 15h1.06v1.06h-1.06z" fill="#3b87a4"/>
<path d="M6 15h1.06v1.06h-1.06z" fill="#3a86a7"/>
<path d="M7 15h1.06v1.06h-1.06z" fill="#3a85a9"/>
<path d="M8 15h1.06v1.06h-1.06z" fill="#3a84aa"/>
<path d="M9 15h1.06v1.06h-1.06z" fill="#3983ac"/>
<path d="M10 15h1.06v1.06h-1.06z" fill="#3983ad"/>
<path d="M11 15h1.06v1.06h-1.06z" fill="#3983ae"/>
<path d="M12 15h1.06v1.06h-1.06z" fill="#3982ae"/>
<path d="M13 15h1.06v1.06h-1.06z" fill="#3982af"/>
<path d="M14 15h1.06v1.06h-1.06z" fill="#3982b0"/>
<path d="M15 15h1.06v1.06h-1.06z" fill="#3981b0"/>
<path d="M16 15h3.06v1.06h-3.06z" fill="#3881b1"/>
<path d="M19 15h3.06v1.06h-3.06z" fill="#3881b2"/>
<path d="M22 15h5.06v1.06h-5.06z" fill="#3880b3"/>
<path d="M27 15h8.06v1.06h-8.06z" fill="#3880b4"/>
<path d="M35 15h1.06v1.06h-1.06z" fill="#3880b5"/>
<path d="M36 15h3.3v1.06h-3.3z" fill="#387fb5"/>
<path d="M-.3 16h1.36v1.06h-1.36z" fill="#449b78"/>
<path d="M1 16h1.06v1.06h-1.06z" fill="#40928c"/>
<path d="M2 16h1.06v1.06h-1.06z" fill="#3e8d97"/>
<path d="M3 16h1.06v1.06h-1.06z" fill="#3c8a9d"/>
<path d="M4 16h1.06v1.06h-1.06z" fill="#3b88a2"/>
<path d="M5 16h1.06v1.06h-1.06z" fill="#3b87a5"/>
<path d="M6 16h1.06v1.06h-1.06z" fill="#3a85a7"/>
<path d="M7 16h1.06v1.06h-1.06z" fill="#3a85a9"/>
<path d="M8 16h1.06v1.06h-1.06z" fill="#3a84ab"/>
<path d="M9 16h1.06v1.06h-1.06z" fill="#3983ac"/>
<path d="M10 16h1.06v1.06h-1.06z" fill="#3983ad"/>
<path d="M11 16h1.06v1.06h-1.06z" fill="#3983ae"/>
<path d="M12 16h2.06v1.06h-2.06z" fill="#3982af"/>
<path d="M14 16h1.06v1.06h-1.06z" fill="#3982b0"/>
<path d="M15 16h1.06v1.06h-1.06z" fill="#3981b0"/>
<path d="M16 16h2.06v1.06h-2.06z" fill="#3881b1"/>
<path d="M18 16h3.06v1.06h-3.06z" fill="#3881b2"/>
<path d="M21 16h1.06v1.06h-1.06z" fill="#3880b2"/>
<path d="M22 16h5.06v1.06h-5.06z" fill="#3880b3"/>
<path d="M27 16h7.06v1.06h-7.06z" fill="#3880b4"/>
<path d="M34 16h2.06v1.06h-2.06z" fill="#3880b5"/>
<path d="M36 16h3.3v1.06h-3.3z" fill="#387fb5"/>
<path d="M-.3 17h1.36v1.06h-1.36z" fill="#449a79"/>
<path d="M1 17h1.06v1.06h-1.06z" fill="#40918d"/>
<path d="M2 17h1.06v1.06h-1.06z" fill="#3e8d97"/>
<path d="M3 17h1.06v1.06h-1.06z" fill="#3c8a9e"/>
<path d="M4 17h1.06v1.06h-1.06z" fill="#3b88a2"/>
<path d="M5 17h1.06v1.06h-1.06z" fill="#3b86a5"/>
<path d="M6 17h1.06v1.06h-1.06z" fill="#3a85a7"/>
<path d="M7 17h1.06v1.06h-1.06z" fill="#3a85a9"/>
<path d="M8 17h1.06v1.06h-1.06z" fill="#3a84ab"/>
<path d="M9 17h1.06v1.06h-1.06z" fill="#3983ac"/>
<path d="M10 17h1.06v1.06h-1.06z" fill="#3983ad"/>
<path d="M11 17h1.06v1.06h-1.06z" fill="#3982ae"/>
<path d="M12 17h2.06v1.06h-2.06z" fill="#3982af"/>
<path d="M14 17h1.06v1.06h-1.06z" fill="#3982b0"/>
<path d="M15 17h1.06v1.06h-1.06z" fill="#3981b0"/>
<path d="M16 17h2.06v1.06h-2.06z" fill="#3881b1"/>
<path d="M18 17h3.06v1.06h-3.06z" fill="#3881b2"/>
<path d="M21 17h1.06v1.06h-1.06z" fill="#3880b2"/>
<path d="M22 17h4.06v1.06h-4.06z" fill="#3880b3"/>
<path d="M26 17h8.06v1.06h-8.06z" fill="#3880b4"/>
<path d="M34 17h1.06v1.06h-1.06z" fill="#3880b5"/>
<path d="M35 17h4.3v1.06h-4.3z" fill="#387fb5"/>
<path d="M-.3 18h1.36v1.06h-1.36z" fill="#449a79"/>
<path d="M1 18h1.06v1.06h-1.06z" fill="#40918d"/>
<path d="M2 18h1.06v1.06h-1.06z" fill="#3d8c98"/>
<path d="M3 18h1.06v1.06h-1.06z" fill="#3c8a9e"/>
<path d="M4 18h1.06v1.06h-1.06z" fill="#3b88a2"/>
<path d="M5 18h1.06v1.06h-1.06z" fill="#3b86a5"/>
<path d="M6 18h1.06v1.06h-1.06z" fill="#3a85a8"/>
<path d="M7 18h1.06v1.06h-1.06z" fill="#3a84aa"/>
<path d="M8 18h1.06v1.06h-1.06z" fill="#3a84ab"/>
<path d="M9 18h1.06v1.06h-1.06z" fill="#3983ac"/>
<path d="M10 18h1.06v1.06h-1.06z" fill="#3983ad"/>
<path d="M11 18h1.06v1.06h-1.06z" fill="#3982ae"/>
<path d="M12 18h2.06v1.06h-2.06z" fill="#3982af"/>
<path d="M14 18h1.06v1.06h-1.06z" fill="#3982b0"/>
<path d="M15 18h3.06v1.06h-3.06z" fill="#3881b1"/>
<path d="M18 18h3.06v1.06h-3.06z" fill="#3881b2"/>
<path d="M21 18h5.06v1.06h-5.06z" fill="#3880b3"/>
<path d="M26 18h7.06v1.06h-7.06z" fill="#3880b4"/>
<path d="M33 18h2.06v1.06h-2.06z" fill="#3880b5"/>
<path d="M35 18h4.3v1.06h-4.3z" fill="#387fb5"/>
<path d="M-.3 19h1.36v1.06h-1.36z" fill="#43997a"/>
<path d="M1 19h1.06v1.06h-1.06z" fill="#3f918e"/>
<path d="M2 19h1.06v1.06h-1.06z" fill="#3d8c98"/>
<path d="M3 19h1.06v1.06h-1.06z" fill="#3c899e"/>
<path d="M4 19h1.06v1.06h-1.06z" fill="#3b88a3"/>
<path d="M5 19h1.06v1.06h-1.06z" fill="#3b86a6"/>
<path d="M6 19h1.06v1.06h-1.06z" fill="#3a85a8"/>
<path d="M7 19h1.06v1.06h-1.06z" fill="#3a84aa"/>
<path d="M8 19h1.06v1.06h-1.06z" fill="#3a84ab"/>
<path d="M9 19h1.06v1.06h-1.06z" fill="#3983ac"/>
<path d="M10 19h1.06v1.06h-1.06z" fill="#3983ad"/>
<path d="M11 19h1.06v1.06h-1.06z" fill="#3982ae"/>
<path d="M12 19h1.06v1.06h-1.06z" fill="#3982af"/>
<path d="M13 19h1.06v1.06h-1.06z" fill="#3982b0"/>
<path d="M14 19h1.06v1.06h-1.06z" fill="#3981b0"/>
<path d="M15 19h3.06v1.06h-3.06z" fill="#3881b1"/>
<path d="M18 19h2.06v1.06h-2.06z" fill="#3881b2"/>
<path d="M20 19h1.06v1.06h-1.06z" fill="#3880b2"/>
<path d="M21 19h5.06v1.06h-5.06z" fill="#3880b3"/>
<path d="M26 19h7.06v1.06h-7.06z" fill="#3880b4"/>
<path d="M33 19h1.06v1.06h-1.06z" fill="#3880b5"/>
<path d="M34 19h5.3v1.06h-5.3z" fill="#387fb5"/>
<path d="M-.3 20h1.36v1.06h-1.36z" fill="#43997b"/>
<path d="M1 20h1.06v1.06h-1.06z" fill="#3f908f"/>
<path d="M2 20h1.06v1.06h-1.06z" fill="#3d8c99"/>
<path d="M3 20h1.06v1.06h-1.06z" fill="#3c899f"/>
<path d="M4 20h1.06v1.06h-1.06z" fill="#3b87a3"/>
<path d="M5 20h1.06v1.06h-1.06z" fill="#3b86a6"/>
<path d="M6 20h1.06v1.06h-1.06z" fill="#3a85a8"/>
<path d="M7 20h1.06v1.06h-1.06z" fill="#3a84aa"/>
<path d="M8 20h1.06v1.06h-1.06z" fill="#3a84ab"/>
<path d="M9 20h1.06v1.06h-1.06z" fill="#3983ad"/>
<path d="M10 20h1.06v1.06h-1.06z" fill="#3983ae"/>
<path d="M11 20h1.06v1.06h-1.06z" fill="#3982ae"/>
<path d="M12 20h1.06v1.06h-1.06z" fill="#3982af"/>
<path d="M13 20h1.06v1.06h-1.06z" fill="#3982b0"/>
<path d="M14 20h1.06v1.06h-1.06z" fill="#3981b0"/>
<path d="M15 20h2.06v1.06h-2.06z" fill="#3881b1"/>
<path d="M17 20h3.06v1.06h-3.06z" fill="#3881b2"/>
<path d="M20 20h1.06v1.06h-1.06z" fill="#3880b2"/>
<path d="M21 20h4.06v1.06h-4.06z" fill="#3880b3"/>
<path d="M25 20h7.06v1.06h-7.06z" fill="#3880b4"/>
<path d="M32 20h2.06v1.06h-2.06z" fill="#3880b5"/>
<path d="M34 20h5.3v1.06h-5.3z" fill="#387fb5"/>
<path d="M-.3 21h1.36v1.06h-1.36z" fill="#43997c"/>
<path d="M1 21h1.06v1.06h-1.06z" fill="#3f908f"/>
<path d="M2 21h1.06v1.06h-1.06z" fill="#3d8c99"/>
<path d="M3 21h1.06v1.06h-1.06z" fill="#3c899f"/>
<path d="M4 21h1.06v1.06h-1.06z" fill="#3b87a3"/>
<path d="M5 21h1.06v1.06h-1.06z" fill="#3b86a6"/>
<path d="M6 21h1.06v1.06h-1.06z" fill="#3a85a8"/>
<path d="M7 21h1.06v1.06h-1.06z" fill="#3a84aa"/>
<path d="M8 21h1.06v1.06h-1.06z" fill="#3983ac"/>
<path d="M9 21h1.06v1.06h-1.06z" fill="#3983ad"/>
<path d="M10 21h1.06v1.06h-1.06z" fill="#3983ae"/>
<path d="M11 21h2.06v1.06h-2.06z" fill="#3982af"/>
<path d="M13 21h1.06v1.06h-1.06z" fill="#3982b0"/>
<path d="M14 21h1.06v1.06h-1.06z" fill="#3981b0"/>
<path d="M15 21h2.06v1.06h-2.06z" fill="#3881b1"/>
<path d="M17 21h3.06v1.06h-3.06z" fill="#3881b2"/>
<path d="M20 21h5.06v1.06h-5.06z" fill="#3880b3"/>
<path d="M25 21h7.06v1.06h-7.06z" fill="#3880b4"/>
<path d="M32 21h1.06v1.06h-1.06z" fill="#3880b5"/>
<path d="M33 21h6.3v1.06h-6.3z" fill="#387fb5"/>
<path d="M-.3 22h1.36v1.06h-1.36z" fill="#43987d"/>
<path d="M1 22h1.06v1.06h-1.06z" fill="#3f9090"/>
<path d="M2 22h1.06v1.06h-1.06z" fill="#3d8c9a"/>
<path d="M3 22h1.06v1.06h-1.06z" fill="#3c89a0"/>
<path d="M4 22h1.06v1.06h-1.06z" fill="#3b87a4"/>
<path d="M5 22h1.06v1.06h-1.06z" fill="#3a86a7"/>
<path d="M6 22h1.06v1.06h-1.06z" fill="#3a85a9"/>
<path d="M7 22h1.06v1.06h-1.06z" fill="#3a84aa"/>
<path d="M8 22h1.06v1.06h-1.06z" fill="#3983ac"/>
<path d="M9 22h1.06v1.06h-1.06z" fill="#3983ad"/>
<path d="M10 22h1.06v1.06h-1.06z" fill="#3982ae"/>
<path d="M11 22h2.06v1.06h-2.06z" fill="#3982af"/>
<path d="M13 22h1.06v1.06h-1.06z" fill="#3982b0"/>
<path d="M14 22h3.06v1.06h-3.06z" fill="#3881b1"/>
<path d="M17 22h2.06v1.06h-2.06z" fill="#3881b2"/>
<path d="M19 22h1.06v1.06h-1.06z" fill="#3880b2"/>
<path d="M20 22h4.06v1.06h-4.06z" fill="#3880b3"/>
<path d="M24 22h7.06v1.06h-7.06z" fill="#3880b4"/>
<path d="M31 22h1.06v1.06h-1.06z" fill="#3880b5"/>
<path d="M32 22h7.3v1.06h-7.3z" fill="#387fb5"/>
<path d="M-.3 23h1.36v1.06h-1.36z" fill="#43987e"/>
<path d="M1 23h1.06v1.06h-1.06z" fill="#3f9091"/>
<path d="M2 23h1.06v1.06h-1.06z" fill="#3d8b9a"/>
<path d="M3 23h1.06v1.06h-1.06z" fill="#3c89a0"/>
<path d="M4 23h1.06v1.06h-1.06z" fill="#3b87a4"/>
<path d="M5 23h1.06v1.06h-1.06z" fill="#3a86a7"/>
<path d="M6 23h1.06v1.06h-1.06z" fill="#3a85a9"/>
<path d="M7 23h1.06v1.06h-1.06z" fill="#3a84ab"/>
<path d="M8 23h1.06v1.06h-1.06z" fill="#3983ac"/>
<path d="M9 23h1.06v1.06h-1.06z" fill="#3983ad"/>
<path d="M10 23h1.06v1.06h-1.06z" fill="#3982ae"/>
<path d="M11 23h1.06v1.06h-1.06z" fill="#3982af"/>
<path d="M12 23h1.06v1.06h-1.06z" fill="#3982b0"/>
<path d="M13 23h1.06v1.06h-1.06z" fill="#3981b0"/>
<path d="M14 23h2.06v1.06h-2.06z" fill="#3881b1"/>
<path d="M16 23h3.06v1.06h-3.06z" fill="#3881b2"/>
<path d="M19 23h1.06v1.06h-1.06z" fill="#3880b2"/>
<path d="M20 23h4.06v1.06h-4.06z" fill="#3880b3"/>
<path d="M24 23h7.06v1.06h-7.06z" fill="#3880b4"/>
<path d="M31 23h1.06v1.06h-1.06z" fill="#3880b5"/>
<path d="M32 23h7.3v1.06h-7.3z" fill="#387fb5"/>
<path d="M-.3 24h1.36v1.06h-1.36z" fill="#42977f"/>
<path d="M1 24h1.06v1.06h-1.06z" fill="#3f8f91"/>
<path d="M2 24h1.06v1.06h-1.06z" fill="#3d8b9b"/>
<path d="M3 24h1.06v1.06h-1.06z" fill="#3c89a0"/>
<path d="M4 24h1.06v1.06h-1.06z" fill="#3b87a4"/>
<path d="M5 24h1.06v1.06h-1.06z" fill="#3a86a7"/>
<path d="M6 24h1.06v1.06h-1.06z" fill="#3a85a9"/>
<path d="M7 24h1.06v1.06h-1.06z" fill="#3a84ab"/>
<path d="M8 24h1.06v1.06h-1.06z" fill="#3983ac"/>
<path d="M9 24h1.06v1.06h-1.06z" fill="#3983ad"/>
<path d="M10 24h1.06v1.06h-1.06z" fill="#3982ae"/>
<path d="M11 24h1.06v1.06h-1.06z" fill="#3982af"/>
<path d="M12 24h1.06v1.06h-1.06z" fill="#3982b0"/>
<path d="M13 24h1.06v1.06h-1.06z" fill="#3981b0"/>
<path d="M14 24h2.06v1.06h-2.06z" fill="#3881b1"/>
<path d="M16 24h3.06v1.06h-3.06z" fill="#3881b2"/>
<path d="M19 24h5.06v1.06h-5.06z" fill="#3880b3"/>
<path d="M24 24h6.06v1.06h-6.06z" fill="#3880b4"/>
<path d="M30 24h1.06v1.06h-1.06z" fill="#3880b5"/>
<path d="M31 24h8.3v1.06h-8.3z" fill="#387fb5"/>
<path d="M-.3 25h1.36v1.06h-1.36z" fill="#429780"/>
<path d="M1 25h1.06v1.06h-1.06z" fill="#3f8f92"/>
<path d="M2 25h1.06v1.06h-1.06z" fill="#3d8b9b"/>
<path d="M3 25h1.06v1.06h-1.06z" fill="#3c88a1"/>
<path d="M4 25h1.06v1.06h-1.06z" fill="#3b87a5"/>
<path d="M5 25h1.06v1.06h-1.06z" fill="#3a85a7"/>
<path d="M6 25h1.06v1.06h-1.06z" fill="#3a84aa"/>
<path d="M7 25h1.06v1.06h-1.06z" fill="#3a84ab"/>
<path d="M8 25h1.06v1.06h-1.06z" fill="#3983ac"/>
<path d="M9 25h1.06v1.06h-1.06z" fill="#3983ae"/>
<path d="M10 25h1.06v1.06h-1.06z" fill="#3982ae"/>
<path d="M11 25h1.06v1.06h-1.06z" fill="#3982af"/>
<path d="M12 25h1.06v1.06h-1.06z" fill="#3982b0"/>
<path d="M13 25h1.06v1.06h-1.06z" fill="#3981b0"/>
<path d="M14 25h2.06v1.06h-2.06z" fill="#3881b1"/>
<path d="M16 25h2.06v1.06h-2.06z" fill="#3881b2"/>
<path d="M18 25h1.06v1.06h-1.06z" fill="#3880b2"/>
<path d="M19 25h4.06v1.06h-4.06z" fill="#3880b3"/>
<path d="M23 25h7.06v1.06h-7.06z" fill="#3880b4"/>
<path d="M30 25h1.06v1.06h-1.06z" fill="#3880b5"/>
<path d="M31 25h8.3v1.06h-8.3z" fill="#387fb5"/>
<path d="M-.3 26h1.36v1.06h-1.36z" fill="#429681"/>
<path d="M1 26h1.06v1.06h-1.06z" fill="#3e8f93"/>
<path d="M2 26h1.06v1.06h-1.06z" fill="#3d8b9c"/>
<path d="M3 26h1.06v1.06h-1.06z" fill="#3c88a1"/>
<path d="M4 26h1.06v1.06h-1.06z" fill="#3b86a5"/>
<path d="M5 26h1.06v1.06h-1.06z" fill="#3a85a8"/>
<path d="M6 26h1.06v1.06h-1.06z" fill="#3a84aa"/>
<path d="M7 26h1.06v1.06h-1.06z" fill="#3a84ab"/>
<path d="M8 26h1.06v1.06h-1.06z" fill="#3983ad"/>
<path d="M9 26h1.06v1.06h-1.06z" fill="#3983ae"/>
<path d="M10 26h2.06v1.06h-2.06z" fill="#3982af"/>
<path d="M12 26h1.06v1.06h-1.06z" fill="#3982b0"/>
<path d="M13 26h3.06v1.06h-3.06z" fill="#3881b1"/>
<path d="M16 26h2.06v1.06h-2.06z" fill="#3881b2"/>
<path d="M18 26h1.06v1.06h-1.06z" fill="#3880b2"/>
<path d="M19 26h4.06v1.06h-4.06z" fill="#3880b3"/>
<path d="M23 26h6.06v1.06h-6.06z" fill="#3880b4"/>
<path d="M29 26h1.06v1.06h-1.06z" fill="#3880b5"/>
<path d="M30 26h9.3v1.06h-9.3z" fill="#387fb5"/>
<path d="M-.3 27h1.36v1.06h-1.36z" fill="#429682"/>
<path d="M1 27h1.06v1.06h-1.06z" fill="#3e8e93"/>
<path d="M2 27h1.06v1.06h-1.06z" fill="#3d8a9c"/>
<path d="M3 27h1.06v1.06h-1.06z" fill="#3b88a2"/>
<path d="M4 27h1.06v1.06h-1.06z" fill="#3b86a5"/>
<path d="M5 27h1.06v1.06h-1.06z" fill="#3a85a8"/>
<path d="M6 27h1.06v1.06h-1.06z" fill="#3a84aa"/>
<path d="M7 27h1.06v1.06h-1.06z" fill="#3984ac"/>
<path d="M8 27h1.06v1.06h-1.06z" fill="#3983ad"/>
<path d="M9 27h1.06v1.06h-1.06z" fill="#3982ae"/>
<path d="M10 27h1.06v1.06h-1.06z" fill="#3982af"/>
<path d="M11 27h1.06v1.06h-1.06z" fill="#3982b0"/>
<path d="M12 27h1.06v1.06h-1.06z" fill="#3981b0"/>
<path d="M13 27h2.06v1.06h-2.06z" fill="#3881b1"/>
<path d="M15 27h3.06v1.06h-3.06z" fill="#3881b2"/>
<path d="M18 27h4.06v1.06h-4.06z" fill="#3880b3"/>
<path d="M22 27h7.06v1.06h-7.06z" fill="#3880b4"/>
<path d="M29 27h1.06v1.06h-1.06z" fill="#3880b5"/>
<path d="M30 27h9.3v1.06h-9.3z" fill="#387fb5"/>
<path d="M-.3 28h1.36v1.06h-1.36z" fill="#429583"/>
<path d="M1 28h1.06v1.06h-1.06z" fill="#3e8e94"/>
<path d="M2 28h1.06v1.06h-1.06z" fill="#3c8a9d"/>
<path d="M3 28h1.06v1.06h-1.06z" fill="#3b88a2"/>
<path d="M4 28h1.06v1.06h-1.06z" fill="#3b86a6"/>
<path d="M5 28h1.06v1.06h-1.06z" fill="#3a85a8"/>
<path d="M6 28h1.06v1.06h-1.06z" fill="#3a84aa"/>
<path d="M7 28h1.06v1.06h-1.06z" fill="#3983ac"/>
<path d="M8 28h1.06v1.06h-1.06z" fill="#3983ad"/>
<path d="M9 28h1.06v1.06h-1.06z" fill="#3982ae"/>
<path d="M10 28h1.06v1.06h-1.06z" fill="#3982af"/>
<path d="M11 28h1.06v1.06h-1.06z" fill="#3982b0"/>
<path d="M12 28h1.06v1.06h-1.06z" fill="#3981b0"/>
<path d="M13 28h2.06v1.06h-2.06z" fill="#3881b1"/>
<path d="M15 28h2.06v1.06h-2.06z" fill="#3881b2"/>
<path d="M17 28h1.06v1.06h-1.06z" fill="#3880b2"/>
<path d="M18 28h4.06v1.06h-4.06z" fill="#3880b3"/>
<path d="M22 28h6.06v1.06h-6.06z" fill="#3880b4"/>
<path d="M28 28h1.06v1.06h-1.06z" fill="#3880b5"/>
<path d="M29 28h10.3v1.06h-10.3z" fill="#387fb5"/>
<path d="M-.3 29h1.36v1.06h-1.36z" fill="#419584"/>
<path d="M1 29h1.06v1.06h-1.06z" fill="#3e8e95"/>
<path d="M2 29h1.06v1.06h-1.06z" fill="#3c8a9d"/>
<path d="M3 29h1.06v1.06h-1.06z" fill="#3b88a2"/>
<path d="M4 29h1.06v1.06h-1.06z" fill="#3b86a6"/>
<path d="M5 29h1.06v1.06h-1.06z" fill="#3a85a9"/>
<path d="M6 29h1.06v1.06h-1.06z" fill="#3a84ab"/>
<path d="M7 29h1.06v1.06h-1.06z" fill="#3983ac"/>
<path d="M8 29h1.06v1.06h-1.06z" fill="#3983ad"/>
<path d="M9 29h1.06v1.06h-1.06z" fill="#3982ae"/>
<path d="M10 29h1.06v1.06h-1.06z" fill="#3982af"/>
<path d="M11 29h1.06v1.06h-1.06z" fill="#3982b0"/>
<path d="M12 29h1.06v1.06h-1.06z" fill="#3981b0"/>
<path d="M13 29h2.06v1.06h-2.06z" fill="#3881b1"/>
<path d="M15 29h2.06v1.06h-2.06z" fill="#3881b2"/>
<path d="M17 29h4.06v1.06h-4.06z" fill="#3880b3"/>
<path d="M21 29h7.06v1.06h-7.06z" fill="#3880b4"/>
<path d="M28 29h1.06v1.06h-1.06z" fill="#3880b5"/>
<path d="M29 29h9.06v1.06h-9.06z" fill="#387fb5"/>
<path d="M38 29h1.3v1.06h-1.3z" fill="#377fb6"/>
<path d="M-.3 30h1.36v1.06h-1.36z" fill="#419585"/>
<path d="M1 30h1.06v1.06h-1.06z" fill="#3e8d95"/>
<path d="M2 30h1.06v1.06h-1.06z" fill="#3c8a9e"/>
<path d="M3 30h1.06v1.06h-1.06z" fill="#3b87a3"/>
<path d="M4 30h1.06v1.06h-1.06z" fill="#3b86a6"/>
<path d="M5 30h1.06v1.06h-1.06z" fill="#3a85a9"/>
<path d="M6 30h1.06v1.06h-1.06z" fill="#3a84ab"/>
<path d="M7 30h1.06v1.06h-1.06z" fill="#3983ac"/>
<path d="M8 30h1.06v1.06h-1.06z" fill="#3983ad"/>
<path d="M9 30h1.06v1.06h-1.06z" fill="#3982ae"/>
<path d="M10 30h1.06v1.06h-1.06z" fill="#3982af"/>
<path d="M11 30h1.06v1.06h-1.06z" fill="#3982b0"/>
<path d="M12 30h2.06v1.06h-2.06z" fill="#3881b1"/>
<path d="M14 30h3.06v1.06h-3.06z" fill="#3881b2"/>
<path d="M17 30h4.06v1.06h-4.06z" fill="#3880b3"/>
<path d="M21 30h6.06v1.06h-6.06z" fill="#3880b4"/>
<path d="M27 30h1.06v1.06h-1.06z" fill="#3880b5"/>
<path d="M28 30h10.06v1.06h-10.06z" fill="#387fb5"/>
<path d="M38 30h1.3v1.06h-1.3z" fill="#377fb6"/>
<path d="M-.3 31h1.36v1.06h-1.36z" fill="#419486"/>
<path d="M1 31h1.06v1.06h-1.06z" fill="#3e8d96"/>
<path d="M2 31h1.06v1.06h-1.06z" fill="#3c8a9e"/>
<path d="M3 31h1.06v1.06h-1.06z" fill="#3b87a3"/>
<path d="M4 31h1.06v1.06h-1.06z" fill="#3a86a7"/>
<path d="M5 31h1.06v1.06h-1.06z" fill="#3a85a9"/>
<path d="M6 31h1.06v1.06h-1.06z" fill="#3a84ab"/>
<path d="M7 31h1.06v1.06h-1.06z" fill="#3983ad"/>
<path d="M8 31h1.06v1.06h-1.06z" fill="#3983ae"/>
<path d="M9 31h2.06v1.06h-2.06z" fill="#3982af"/>
<path d="M11 31h1.06v1.06h-1.06z" fill="#3982b0"/>
<path d="M12 31h2.06v1.06h-2.06z" fill="#3881b1"/>
<path d="M14 31h2.06v1.06h-2.06z" fill="#3881b2"/>
<path d="M16 31h1.06v1.06h-1.06z" fill="#3880b2"/>
<path d="M17 31h4.06v1.06h-4.06z" fill="#3880b3"/>
<path d="M21 31h6.06v1.06h-6.06z" fill="#3880b4"/>
<path d="M27 31h1.06v1.06h-1.06z" fill="#3880b5"/>
<path d="M28 31h9.06v1.06h-9.06z" fill="#387fb5"/>
<path d="M37 31h2.3v1.06h-2.3z" fill="#377fb6"/>
<path d="M-.3 32h1.36v1.06h-1.36z" fill="#419487"/>
<path d="M1 32h1.06v1.06h-1.06z" fill="#3e8d97"/>
<path d="M2 32h1.06v1.06h-1.06z" fill="#3c899f"/>
<path d="M3 32h1.06v1.06h-1.06z" fill="#3b87a4"/>
<path d="M4 32h1.06v1.06h-1.06z" fill="#3a86a7"/>
<path d="M5 32h1.06v1.06h-1.06z" fill="#3a84a9"/>
<path d="M6 32h1.06v1.06h-1.06z" fill="#3a84ab"/>
<path d="M7 32h1.06v1.06h-1.06z" fill="#3983ad"/>
<path d="M8 32h1.06v1.06h-1.06z" fill="#3983ae"/>
<path d="M9 32h1.06v1.06h-1.06z" fill="#3982af"/>
<path d="M10 32h1.06v1.06h-1.06z" fill="#3982b0"/>
<path d="M11 32h1.06v1.06h-1.06z" fill="#3981b0"/>
<path d="M12 32h2.06v1.06h-2.06z" fill="#3881b1"/>
<path d="M14 32h2.06v1.06h-2.06z" fill="#3881b2"/>
<path d="M16 32h4.06v1.06h-4.06z" fill="#3880b3"/>
<path d="M20 32h6.06v1.06h-6.06z" fill="#3880b4"/>
<path d="M26 32h1.06v1.06h-1.06z" fill="#3880b5"/>
<path d="M27 32h9.06v1.06h-9.06z" fill="#387fb5"/>
<path d="M36 32h3.3v1.06h-3.3z" fill="#377fb6"/>
<path d="M-.3 33h1.36v1.06h-1.36z" fill="#419388"/>
<path d="M1 33h1.06v1.06h-1.06z" fill="#3e8d97"/>
<path d="M2 33h1.06v1.06h-1.06z" fill="#3c899f"/>
<path d="M3 33h1.06v1.06h-1.06z" fill="#3b87a4"/>
<path d="M4 33h1.06v1.06h-1.06z" fill="#3a85a7"/>
<path d="M5 33h1.06v1.06h-1.06z" fill="#3a84aa"/>
<path d="M6 33h1.06v1.06h-1.06z" fill="#3984ac"/>
<path d="M7 33h1.06v1.06h-1.06z" fill="#3983ad"/>
<path d="M8 33h1.06v1.06h-1.06z" fill="#3982ae"/>
<path d="M9 33h1.06v1.06h-1.06z" fill="#3982af"/>
<path d="M10 33h1.06v1.06h-1.06z" fill="#3982b0"/>
<path d="M11 33h1.06v1.06h-1.06z" fill="#3981b0"/>
<path d="M12 33h2.06v1.06h-2.06z" fill="#3881b1"/>
<path d="M14 33h2.06v1.06h-2.06z" fill="#3881b2"/>
<path d="M16 33h4.06v1.06h-4.06z" fill="#3880b3"/>
<path d="M20 33h6.06v1.06h-6.06z" fill="#3880b4"/>
<path d="M26 33h1.06v1.06h-1.06z" fill="#3880b5"/>
<path d="M27 33h9.06v1.06h-9.06z" fill="#387fb5"/>
<path d="M36 33h3.3v1.06h-3.3z" fill="#377fb6"/>
<path d="M-.3 34h1.36v1.06h-1.36z" fill="#409389"/>
<path d="M1 34h1.06v1.06h-1.06z" fill="#3d8c98"/>
<path d="M2 34h1.06v1.06h-1.06z" fill="#3c89a0"/>
<path d="M3 34h1.06v1.06h-1.06z" fill="#3b87a4"/>
<path d="M4 34h1.06v1.06h-1.06z" fill="#3a85a8"/>
<path d="M5 34h1.06v1.06h-1.06z" fill="#3a84aa"/>
<path d="M6 34h1.06v1.06h-1.06z" fill="#3983ac"/>
<path d="M7 34h1.06v1.06h-1.06z" fill="#3983ad"/>
<path d="M8 34h1.06v1.06h-1.06z" fill="#3982ae"/>
<path d="M9 34h1.06v1.06h-1.06z" fill="#3982af"/>
<path d="M10 34h1.06v1.06h-1.06z" fill="#3982b0"/>
<path d="M11 34h2.06v1.06h-2.06z" fill="#3881b1"/>
<path d="M13 34h2.06v1.06h-2.06z" fill="#3881b2"/>
<path d="M15 34h1.06v1.06h-1.06z" fill="#3880b2"/>
<path d="M16 34h3.06v1.06h-3.06z" fill="#3880b3"/>
<path d="M19 34h6.06v1.06h-6.06z" fill="#3880b4"/>
<path d="M25 34h1.06v1.06h-1.06z" fill="#3880b5"/>
<path d="M26 34h9.06v1.06h-9.06z" fill="#387fb5"/>
<path d="M35 34h4.3v1.06h-4.3z" fill="#377fb6"/>
<path d="M-.3 35h1.36v1.06h-1.36z" fill="#40928a"/>
<path d="M1 35h1.06v1.06h-1.06z" fill="#3d8c99"/>
<path d="M2 35h1.06v1.06h-1.06z" fill="#3c89a0"/>
<path d="M3 35h1.06v1.06h-1.06z" fill="#3b87a5"/>
<path d="M4 35h1.06v1.06h-1.06z" fill="#3a85a8"/>
<path d="M5 35h1.06v1.06h-1.06z" fill="#3a84aa"/>
<path d="M6 35h1.06v1.06h-1.06z" fill="#3983ac"/>
<path d="M7 35h1.06v1.06h-1.06z" fill="#3983ad"/>
<path d="M8 35h1.06v1.06h-1.06z" fill="#3982ae"/>
<path d="M9 35h1.06v1.06h-1.06z" fill="#3982af"/>
<path d="M10 35h1.06v1.06h-1.06z" fill="#3982b0"/>
<path d="M11 35h2.06v1.06h-2.06z" fill="#3881b1"/>
<path d="M13 35h2.06v1.06h-2.06z" fill="#3881b2"/>
<path d="M15 35h4.06v1.06h-4.06z" fill="#3880b3"/>
<path d="M19 35h6.06v1.06h-6.06z" fill="#3880b4"/>
<path d="M25 35h9.06v1.06h-9.06z" fill="#387fb5"/>
<path d="M34 35h5.3v1.06h-5.3z" fill="#377fb6"/>
<path d="M-.3 36h1.36v1.06h-1.36z" fill="#40928b"/>
<path d="M1 36h1.06v1.06h-1.06z" fill="#3d8c99"/>
<path d="M2 36h1.06v1.06h-1.06z" fill="#3c88a1"/>
<path d="M3 36h1.06v1.06h-1.06z" fill="#3b86a5"/>
<path d="M4 36h1.06v1.06h-1.06z" fill="#3a85a8"/>
<path d="M5 36h1.06v1.06h-1.06z" fill="#3a84ab"/>
<path d="M6 36h1.06v1.06h-1.06z" fill="#3983ac"/>
<path d="M7 36h1.06v1.06h-1.06z" fill="#3983ae"/>
<path d="M8 36h1.06v1.06h-1.06z" fill="#3982af"/>
<path d="M9 36h1.06v1.06h-1.06z" fill="#3982b0"/>
<path d="M10 36h1.06v1.06h-1.06z" fill="#3981b0"/>
<path d="M11 36h2.06v1.06h-2.06z" fill="#3881b1"/>
<path d="M13 36h2.06v1.06h-2.06z" fill="#3881b2"/>
<path d="M15 36h4.06v1.06h-4.06z" fill="#3880b3"/>
<path d="M19 36h5.06v1.06h-5.06z" fill="#3880b4"/>
<path d="M24 36h1.06v1.06h-1.06z" fill="#3880b5"/>
<path d="M25 36h8.06v1.06h-8.06z" fill="#387fb5"/>
<path d="M33 36h6.3v1.06h-6.3z" fill="#377fb6"/>
<path d="M-.3 37h1.36v1.06h-1.36z" fill="#40928c"/>
<path d="M1 37h1.06v1.06h-1.06z" fill="#3d8b9a"/>
<path d="M2 37h1.06v1.06h-1.06z" fill="#3c88a1"/>
<path d="M3 37h1.06v1.06h-1.06z" fill="#3b86a6"/>
<path d="M4 37h1.06v1.06h-1.06z" fill="#3a85a9"/>
<path d="M5 37h1.06v1.06h-1.06z" fill="#3a84ab"/>
<path d="M6 37h1.06v1.06h-1.06z" fill="#3983ad"/>
<path d="M7 37h1.06v1.06h-1.06z" fill="#3983ae"/>
<path d="M8 37h1.06v1.06h-1.06z" fill="#3982af"/>
<path d="M9 37h1.06v1.06h-1.06z" fill="#3982b0"/>
<path d="M10 37h1.06v1.06h-1.06z" fill="#3981b0"/>
<path d="M11 37h1.06v1.06h-1.06z" fill="#3881b1"/>
<path d="M12 37h2.06v1.06h-2.06z" fill="#3881b2"/>
<path d="M14 37h1.06v1.06h-1.06z" fill="#3880b2"/>
<path d="M15 37h3.06v1.06h-3.06z" fill="#3880b3"/>
<path d="M18 37h5.06v1.06h-5.06z" fill="#3880b4"/>
<path d="M23 37h1.06v1.06h-1.06z" fill="#3880b5"/>
<path d="M24 37h9.06v1.06h-9.06z" fill="#387fb5"/>
<path d="M33 37h6.3v1.06h-6.3z" fill="#377fb6"/>
<path d="M-.3 38h1.36v1.3h-1.36z" fill="#40918d"/>
<path d="M1 38h1.06v1.3h-1.06z" fill="#3d8b9b"/>
<path d="M2 38h1.06v1.3h-1.06z" fill="#3b88a2"/>
<path d="M3 38h1.06v1.3h-1.06z" fill="#3b86a6"/>
<path d="M4 38h1.06v1.3h-1.06z" fill="#3a85a9"/>
<path d="M5 38h1.06v1.3h-1.06z" fill="#3a84ab"/>
<path d="M6 38h1.06v1.3h-1.06z" fill="#3983ad"/>
<path d="M7 38h1.06v1.3h-1.06z" fill="#3982ae"/>
<path d="M8 38h1.06v1.3h-1.06z" fill="#3982af"/>
<path d="M9 38h1.06v1.3h-1.06z" fill="#3982b0"/>
<path d="M10 38h2.06v1.3h-2.06z" fill="#3881b1"/>
<path d="M12 38h2.06v1.3h-2.06z" fill="#3881b2"/>
<path d="M14 38h4.06v1.3h-4.06z" fill="#3880b3"/>
<path d="M18 38h5.06v1.3h-5.06z" fill="#3880b4"/>
<path d="M23 38h1.06v1.3h-1.06z" fill="#3880b5"/>
<path d="M24 38h8.06v1.3h-8.06z" fill="#387fb5"/>
<path d="M32 38h7.3v1.3h-7.3z" fill="#377fb6"/>
</g></g>
<path d="M940.9 820.5H976.32V1423.32H1552.4V1431.6H940.9z" fill="#fff"/>
<path d="M1007.45 1425.6v-15.2M1068 1425.6v-15.2M1128.55 1425.6v-15.2M1189.1 1425.6v-15.2M1249.65 1425.6v-15.2M1310.2 1425.6v-15.2M1370.75 1425.6v-15.2M1431.3 1425.6v-15.2M1491.85 1425.6v-15.2M977.17 1425.6v-10.3M1037.72 1425.6v-10.3M1098.28 1425.6v-10.3M1158.83 1425.6v-10.3M1219.38 1425.6v-10.3M1279.93 1425.6v-10.3M1340.47 1425.6v-10.3M1401.03 1425.6v-10.3M1461.58 1425.6v-10.3M1522.12 1425.6v-10.3M946.9 1365.09h15.2M946.9 1304.58h15.2M946.9 1244.07h15.2M946.9 1183.56h15.2M946.9 1123.05h15.2M946.9 1062.54h15.2M946.9 1002.03h15.2M946.9 941.52h15.2M946.9 881.01h15.2M946.9 1395.34h10.3M946.9 1334.84h10.3M946.9 1274.32h10.3M946.9 1213.82h10.3M946.9 1153.3h10.3M946.9 1092.8h10.3M946.9 1032.28h10.3M946.9 971.77h10.3M946.9 911.26h10.3M946.9 850.75h10.3" stroke="#000" stroke-width="2.9" fill="none"/>
<rect x="946.9" y="820.5" width="605.5" height="605.1" fill="none" stroke="#000" stroke-width="2.9"/>
<g font-size="39.5">
<text transform="translate(946.9,1466.7) scale(0.919,1)" text-anchor="middle">0</text>
<text transform="translate(1007.45,1466.7) scale(0.919,1)" text-anchor="middle">1</text>
<text transform="translate(1068,1466.7) scale(0.919,1)" text-anchor="middle">2</text>
<text transform="translate(1128.55,1466.7) scale(0.919,1)" text-anchor="middle">3</text>
<text transform="translate(1189.1,1466.7) scale(0.919,1)" text-anchor="middle">4</text>
<text transform="translate(1249.65,1466.7) scale(0.919,1)" text-anchor="middle">5</text>
<text transform="translate(1310.2,1466.7) scale(0.919,1)" text-anchor="middle">6</text>
<text transform="translate(1370.75,1466.7) scale(0.919,1)" text-anchor="middle">7</text>
<text transform="translate(1431.3,1466.7) scale(0.919,1)" text-anchor="middle">8</text>
<text transform="translate(1491.85,1466.7) scale(0.919,1)" text-anchor="middle">9</text>
<text transform="translate(1552.4,1466.7) scale(0.892,1)" text-anchor="middle">10</text>
<text transform="translate(932.4,1439.4) scale(0.917,1)" text-anchor="end">0.0</text>
<text transform="translate(932.4,1378.89) scale(0.917,1)" text-anchor="end">0.2</text>
<text transform="translate(932.4,1318.38) scale(0.917,1)" text-anchor="end">0.4</text>
<text transform="translate(932.4,1257.87) scale(0.917,1)" text-anchor="end">0.6</text>
<text transform="translate(932.4,1197.36) scale(0.917,1)" text-anchor="end">0.8</text>
<text transform="translate(932.4,1136.85) scale(0.917,1)" text-anchor="end">1.0</text>
<text transform="translate(932.4,1076.34) scale(0.917,1)" text-anchor="end">1.2</text>
<text transform="translate(932.4,1015.83) scale(0.917,1)" text-anchor="end">1.4</text>
<text transform="translate(932.4,955.32) scale(0.917,1)" text-anchor="end">1.6</text>
<text transform="translate(932.4,894.81) scale(0.917,1)" text-anchor="end">1.8</text>
<text transform="translate(932.4,834.3) scale(0.917,1)" text-anchor="end">2.0</text>
</g>
<g>
<text transform="translate(1041.44,865.22) scale(0.939,1)" font-size="41.82" font-weight="bold">(</text>
<text transform="translate(1056.58,864.4) scale(0.958,1)" font-size="37" font-weight="bold">d</text>
<text transform="translate(1081.6,865.22) scale(0.939,1)" font-size="41.82" font-weight="bold">)</text>
<text transform="translate(1108.22,864.4) scale(0.921,1)" font-size="37.5">5</text>
<text transform="translate(1134.59,864.4) scale(1.054,1)" font-size="35.2">bar,</text>
<text transform="translate(1208.18,864.4) scale(0.915,1)" font-size="37.5">60</text>
<text transform="translate(1253.12,866.91) scale(1.041,1)" font-size="42.88">°</text>
<text transform="translate(1272.1,864.4) scale(0.830,1)" font-size="38.5">C</text>
<text transform="translate(1294.75,864.4) scale(1.340,1)" font-size="35.2">,</text>
<text transform="translate(1319.72,864.4) scale(0.913,1)" font-size="37.5">32</text>
<text transform="translate(1366.1,864.4) scale(1.086,1)" font-size="35.2">wt.%,</text>
<text transform="translate(1173.76,912) scale(0.966,1)" font-size="35.2">separated</text>
<text transform="translate(1031.72,1528.35) scale(1.039,1)" font-size="38">current</text>
<text transform="translate(1169.49,1528.35) scale(0.996,1)" font-size="38">density</text>
<text transform="translate(1305.4,1538.31) scale(0.946,1)" font-size="64.03" class="s">/</text>
<text transform="translate(1338.64,1528.35) scale(0.960,1)" font-size="41">kA</text>
<text transform="translate(1392.89,1528.35) scale(1.019,1)" font-size="38">m</text>
<text transform="translate(1426.61,1514.35) scale(1.372,1)" font-size="27.5">−</text>
<text transform="translate(1448.98,1512.95) scale(1.031,1)" font-size="27.5">2</text>
<text transform="translate(843.7,1358.19) rotate(-90) scale(1.004,1)" font-size="38">volume</text>
<text transform="translate(843.7,1220.78) rotate(-90) scale(1.017,1)" font-size="38">flow</text>
<text transform="translate(843.7,1137.2) rotate(-90) scale(1.012,1)" font-size="38">rate</text>
<text transform="translate(853.66,1054) rotate(-90) scale(0.946,1)" font-size="64.03" class="s">/</text>
<text transform="translate(843.7,1020.93) rotate(-90) scale(0.883,1)" font-size="43">L</text>
<text transform="translate(843.7,991.16) rotate(-90) scale(1.038,1)" font-size="38">min</text>
<text transform="translate(829.7,927.84) rotate(-90) scale(1.410,1)" font-size="27.5">−</text>
<text transform="translate(828.3,904.12) rotate(-90) scale(0.883,1)" font-size="27.5">1</text>
</g>
</g>
<g id="colorbar">
<rect x="190.4" y="1598.05" width="1311.4" height="50.3" fill="url(#cb)"/>
<path d="M354.32 1598.05v15.6M354.32 1648.35v-15.4M518.25 1598.05v15.6M518.25 1648.35v-15.4M682.17 1598.05v15.6M682.17 1648.35v-15.4M846.1 1598.05v15.6M846.1 1648.35v-15.4M1010.02 1598.05v15.6M1010.02 1648.35v-15.4M1173.95 1598.05v15.6M1173.95 1648.35v-15.4M1337.88 1598.05v15.6M1337.88 1648.35v-15.4" stroke="#000" stroke-width="2.9" fill="none"/>
<rect x="190.4" y="1598.05" width="1311.4" height="50.3" fill="none" stroke="#000" stroke-width="2.9"/>
<g font-size="39.5">
<text transform="translate(190.4,1690.3) scale(0.917,1)" text-anchor="middle">0.0</text>
<text transform="translate(354.32,1690.3) scale(0.917,1)" text-anchor="middle">0.5</text>
<text transform="translate(518.25,1690.3) scale(0.917,1)" text-anchor="middle">1.0</text>
<text transform="translate(682.17,1690.3) scale(0.917,1)" text-anchor="middle">1.5</text>
<text transform="translate(846.1,1690.3) scale(0.917,1)" text-anchor="middle">2.0</text>
<text transform="translate(1010.02,1690.3) scale(0.917,1)" text-anchor="middle">2.5</text>
<text transform="translate(1173.95,1690.3) scale(0.917,1)" text-anchor="middle">3.0</text>
<text transform="translate(1337.88,1690.3) scale(0.917,1)" text-anchor="middle">3.5</text>
<text transform="translate(1501.8,1690.3) scale(0.917,1)" text-anchor="middle">4.0</text>
</g>
<g>
<text transform="translate(700.33,1750.3) scale(0.809,1)" font-size="43">H</text>
<text transform="translate(728.28,1757.9) scale(1.031,1)" font-size="27.5">2</text>
<text transform="translate(756.53,1750.3) scale(1.081,1)" font-size="38">in</text>
<text transform="translate(802.26,1750.3) scale(0.903,1)" font-size="43">O</text>
<text transform="translate(832.9,1757.9) scale(1.015,1)" font-size="27.5">2</text>
<text transform="translate(864.3,1760.26) scale(0.917,1)" font-size="64.03" class="s">/</text>
<text transform="translate(897.71,1750.3) scale(1.022,1)" font-size="38">vol.%</text>
</g>
</g>
</svg>
</body>
</html>
